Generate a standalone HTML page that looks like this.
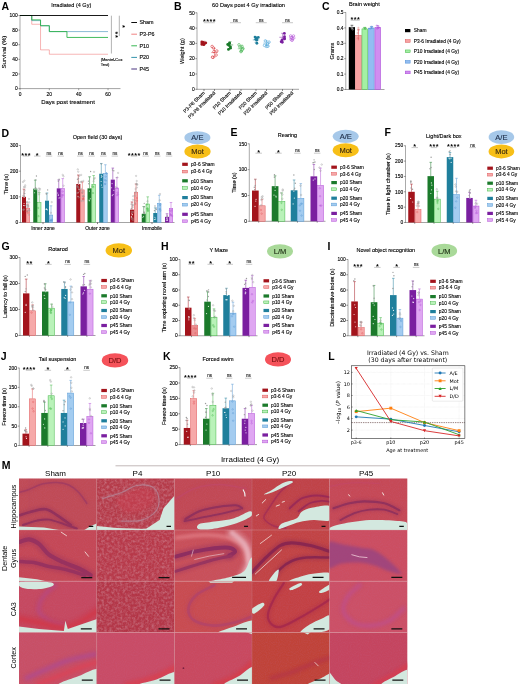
<!DOCTYPE html>
<html><head><meta charset="utf-8"><title>Figure</title>
<style>html,body{margin:0;padding:0;background:#fff}svg{display:block}text{font-family:"Liberation Sans",Arial,sans-serif}</style></head>
<body>
<svg width="520" height="686" viewBox="0 0 520 686">
<defs>
<filter id="b0" x="-10%" y="-10%" width="120%" height="120%"><feGaussianBlur stdDeviation="0.35"/></filter>
<filter id="b1" x="-60%" y="-60%" width="220%" height="220%"><feGaussianBlur stdDeviation="0.6"/></filter>
<filter id="b2" x="-60%" y="-60%" width="220%" height="220%"><feGaussianBlur stdDeviation="1.4"/></filter>
<filter id="noise" x="0" y="0" width="100%" height="100%"><feTurbulence type="fractalNoise" baseFrequency="0.38" numOctaves="3" seed="4" result="n"/><feColorMatrix type="matrix" values="0 0 0 0 0.80  0 0 0 0 0.62  0 0 0 0 0.70  1.5 0 0 0 -0.55"/></filter>
<filter id="grain" x="0" y="0" width="100%" height="100%"><feTurbulence type="fractalNoise" baseFrequency="0.9" numOctaves="1" seed="9"/><feColorMatrix type="matrix" values="0 0 0 0 0.55  0 0 0 0 0.15  0 0 0 0 0.3  1.4 0 0 0 -0.5"/></filter>
<pattern id="chk" width="1.3" height="1.3" patternUnits="userSpaceOnUse"><rect width="1.3" height="1.3" fill="#fde4e4"/><path d="M0,0L1.3,1.3M1.3,0L0,1.3" stroke="#E0595B" stroke-width="0.4"/></pattern>
</defs>
<rect width="520" height="686" fill="#fff"/>
<text x="1.50" y="10.20" font-size="10.5" font-weight="bold">A</text>
<text x="71.20" y="6.70" font-size="5.5" text-anchor="middle" stroke="#000" stroke-width="0.12">Irradiated (4 Gy)</text>
<line x1="20.00" y1="15.30" x2="20.00" y2="88.80" stroke="#333" stroke-width="0.42"/>
<line x1="18.40" y1="88.60" x2="20.00" y2="88.60" stroke="#333" stroke-width="0.45"/>
<text x="17.70" y="90.30" font-size="4.9" text-anchor="end" stroke="#000" stroke-width="0.12">0</text>
<line x1="18.40" y1="73.98" x2="20.00" y2="73.98" stroke="#333" stroke-width="0.45"/>
<text x="17.70" y="75.68" font-size="4.9" text-anchor="end" stroke="#000" stroke-width="0.12">20</text>
<line x1="18.40" y1="59.36" x2="20.00" y2="59.36" stroke="#333" stroke-width="0.45"/>
<text x="17.70" y="61.06" font-size="4.9" text-anchor="end" stroke="#000" stroke-width="0.12">40</text>
<line x1="18.40" y1="44.74" x2="20.00" y2="44.74" stroke="#333" stroke-width="0.45"/>
<text x="17.70" y="46.44" font-size="4.9" text-anchor="end" stroke="#000" stroke-width="0.12">60</text>
<line x1="18.40" y1="30.12" x2="20.00" y2="30.12" stroke="#333" stroke-width="0.45"/>
<text x="17.70" y="31.82" font-size="4.9" text-anchor="end" stroke="#000" stroke-width="0.12">80</text>
<line x1="18.40" y1="15.50" x2="20.00" y2="15.50" stroke="#333" stroke-width="0.45"/>
<text x="17.70" y="17.20" font-size="4.9" text-anchor="end" stroke="#000" stroke-width="0.12">100</text>
<line x1="19.80" y1="88.60" x2="120.49" y2="88.60" stroke="#333" stroke-width="0.45"/>
<line x1="20.00" y1="88.60" x2="20.00" y2="90.20" stroke="#333" stroke-width="0.45"/>
<text x="20.00" y="96.10" font-size="4.9" text-anchor="middle" stroke="#000" stroke-width="0.12">0</text>
<line x1="49.34" y1="88.60" x2="49.34" y2="90.20" stroke="#333" stroke-width="0.45"/>
<text x="49.34" y="96.10" font-size="4.9" text-anchor="middle" stroke="#000" stroke-width="0.12">20</text>
<line x1="78.68" y1="88.60" x2="78.68" y2="90.20" stroke="#333" stroke-width="0.45"/>
<text x="78.68" y="96.10" font-size="4.9" text-anchor="middle" stroke="#000" stroke-width="0.12">40</text>
<line x1="108.02" y1="88.60" x2="108.02" y2="90.20" stroke="#333" stroke-width="0.45"/>
<text x="108.02" y="96.10" font-size="4.9" text-anchor="middle" stroke="#000" stroke-width="0.12">60</text>
<text x="6.30" y="52.05" font-size="6.1" text-anchor="middle" stroke="#000" stroke-width="0.12" transform="rotate(-90 6.30 52.05)">Survival (%)</text>
<text x="68.00" y="104.00" font-size="6.0" text-anchor="middle" stroke="#000" stroke-width="0.12">Days post treatment</text>
<path d="M20.00,15.50 H31.74 V15.50" fill="none" stroke="#7A1FA0" stroke-width="0.6"/>
<path d="M20.00,15.50 H31.74 V24.27 H40.54 V49.86 H49.34 V54.24 H108.02 V54.24" fill="none" stroke="#EE6A6A" stroke-width="0.5"/>
<path d="M20.00,15.50 H31.74 V20.62 H40.54 V25.73 H49.34 V31.58 H108.02 V31.58" fill="none" stroke="#3D8FB8" stroke-width="0.6"/>
<path d="M20.00,15.50 H31.74 V19.89 H40.54 V25.73 H49.34 V31.58 H66.94 V37.43 H108.02 V37.43" fill="none" stroke="#2DB34A" stroke-width="0.9"/>
<path d="M20.00,15.50 H108.02 V15.50" fill="none" stroke="#000" stroke-width="0.9"/>
<line x1="131.30" y1="22.50" x2="137.00" y2="22.50" stroke="#000" stroke-width="0.95"/>
<text x="139.50" y="24.40" font-size="5.4" stroke="#000" stroke-width="0.12">Sham</text>
<line x1="131.30" y1="34.20" x2="137.00" y2="34.20" stroke="#F07C7C" stroke-width="0.95"/>
<text x="139.50" y="36.10" font-size="5.4" stroke="#000" stroke-width="0.12">P3-P6</text>
<line x1="131.30" y1="45.80" x2="137.00" y2="45.80" stroke="#2DB34A" stroke-width="0.95"/>
<text x="139.50" y="47.70" font-size="5.4" stroke="#000" stroke-width="0.12">P10</text>
<line x1="131.30" y1="57.40" x2="137.00" y2="57.40" stroke="#2A8FA8" stroke-width="0.95"/>
<text x="139.50" y="59.30" font-size="5.4" stroke="#000" stroke-width="0.12">P20</text>
<line x1="131.30" y1="69.00" x2="137.00" y2="69.00" stroke="#3F2878" stroke-width="0.95"/>
<text x="139.50" y="70.90" font-size="5.4" stroke="#000" stroke-width="0.12">P45</text>
<line x1="111.40" y1="15.70" x2="111.40" y2="53.50" stroke="#666" stroke-width="0.5"/>
<line x1="119.30" y1="15.70" x2="119.30" y2="36.10" stroke="#666" stroke-width="0.5"/>
<text x="112.50" y="32.80" font-size="7.2" text-anchor="middle" font-weight="bold" transform="rotate(90 112.50 32.80)">*</text>
<text x="112.50" y="36.40" font-size="7.2" text-anchor="middle" font-weight="bold" transform="rotate(90 112.50 36.40)">*</text>
<text x="120.00" y="26.40" font-size="7.2" text-anchor="middle" font-weight="bold" transform="rotate(90 120.00 26.40)">*</text>
<text x="100.70" y="61.00" font-size="4.0" stroke="#000" stroke-width="0.12">(Mantel-Cox</text>
<text x="100.70" y="65.60" font-size="4.0" stroke="#000" stroke-width="0.12">Test)</text>
<text x="174.00" y="10.40" font-size="10.5" font-weight="bold">B</text>
<text x="248.50" y="6.80" font-size="5.66" text-anchor="middle" stroke="#000" stroke-width="0.12">60 Days post 4 Gy irradiation</text>
<line x1="197.00" y1="12.60" x2="197.00" y2="89.50" stroke="#333" stroke-width="0.42"/>
<line x1="195.40" y1="89.30" x2="197.00" y2="89.30" stroke="#222" stroke-width="0.45"/>
<text x="194.70" y="91.02" font-size="4.9" text-anchor="end" stroke="#000" stroke-width="0.12">0</text>
<line x1="195.40" y1="74.00" x2="197.00" y2="74.00" stroke="#222" stroke-width="0.45"/>
<text x="194.70" y="75.72" font-size="4.9" text-anchor="end" stroke="#000" stroke-width="0.12">10</text>
<line x1="195.40" y1="58.70" x2="197.00" y2="58.70" stroke="#222" stroke-width="0.45"/>
<text x="194.70" y="60.41" font-size="4.9" text-anchor="end" stroke="#000" stroke-width="0.12">20</text>
<line x1="195.40" y1="43.40" x2="197.00" y2="43.40" stroke="#222" stroke-width="0.45"/>
<text x="194.70" y="45.12" font-size="4.9" text-anchor="end" stroke="#000" stroke-width="0.12">30</text>
<line x1="195.40" y1="28.10" x2="197.00" y2="28.10" stroke="#222" stroke-width="0.45"/>
<text x="194.70" y="29.81" font-size="4.9" text-anchor="end" stroke="#000" stroke-width="0.12">40</text>
<line x1="195.40" y1="12.80" x2="197.00" y2="12.80" stroke="#222" stroke-width="0.45"/>
<text x="194.70" y="14.51" font-size="4.9" text-anchor="end" stroke="#000" stroke-width="0.12">50</text>
<text x="184.50" y="51.05" font-size="5.6" text-anchor="middle" stroke="#000" stroke-width="0.12" transform="rotate(-90 184.50 51.05)">Weight (g)</text>
<line x1="196.80" y1="89.30" x2="299.00" y2="89.30" stroke="#333" stroke-width="0.45"/>
<line x1="204.00" y1="89.30" x2="204.00" y2="90.90" stroke="#000" stroke-width="0.5"/>
<text x="205.20" y="93.30" font-size="5.0" text-anchor="end" stroke="#000" stroke-width="0.12" transform="rotate(-45 205.20 93.30)">P3-P6 Sham</text>
<circle cx="202.18" cy="43.36" r="1.4" fill="#A3141C" stroke="none" stroke-width="0.4"/>
<circle cx="201.78" cy="42.01" r="1.4" fill="#A3141C" stroke="none" stroke-width="0.4"/>
<circle cx="203.30" cy="42.49" r="1.4" fill="#A3141C" stroke="none" stroke-width="0.4"/>
<circle cx="204.04" cy="44.46" r="1.4" fill="#A3141C" stroke="none" stroke-width="0.4"/>
<circle cx="203.65" cy="44.55" r="1.4" fill="#A3141C" stroke="none" stroke-width="0.4"/>
<circle cx="201.87" cy="44.41" r="1.4" fill="#A3141C" stroke="none" stroke-width="0.4"/>
<circle cx="205.70" cy="42.95" r="1.4" fill="#A3141C" stroke="none" stroke-width="0.4"/>
<line x1="200.80" y1="42.63" x2="207.20" y2="42.63" stroke="#A3141C" stroke-width="0.5"/>
<line x1="204.00" y1="41.26" x2="204.00" y2="44.01" stroke="#A3141C" stroke-width="0.4"/>
<line x1="202.50" y1="41.26" x2="205.50" y2="41.26" stroke="#A3141C" stroke-width="0.4"/>
<line x1="202.50" y1="44.01" x2="205.50" y2="44.01" stroke="#A3141C" stroke-width="0.4"/>
<line x1="214.50" y1="89.30" x2="214.50" y2="90.90" stroke="#000" stroke-width="0.5"/>
<text x="215.70" y="93.30" font-size="5.0" text-anchor="end" stroke="#000" stroke-width="0.12" transform="rotate(-45 215.70 93.30)">P3-P6 Irradiated</text>
<circle cx="213.06" cy="57.41" r="1.25" fill="#fff" stroke="#D9363A" stroke-width="0.6" fill-opacity="0.6"/>
<circle cx="216.83" cy="50.94" r="1.25" fill="#fff" stroke="#D9363A" stroke-width="0.6" fill-opacity="0.6"/>
<circle cx="213.96" cy="51.59" r="1.25" fill="#fff" stroke="#D9363A" stroke-width="0.6" fill-opacity="0.6"/>
<circle cx="212.14" cy="46.46" r="1.25" fill="#fff" stroke="#D9363A" stroke-width="0.6" fill-opacity="0.6"/>
<circle cx="213.41" cy="47.97" r="1.25" fill="#fff" stroke="#D9363A" stroke-width="0.6" fill-opacity="0.6"/>
<circle cx="212.51" cy="57.15" r="1.25" fill="#fff" stroke="#D9363A" stroke-width="0.6" fill-opacity="0.6"/>
<circle cx="216.14" cy="55.04" r="1.25" fill="#fff" stroke="#D9363A" stroke-width="0.6" fill-opacity="0.6"/>
<line x1="211.30" y1="52.58" x2="217.70" y2="52.58" stroke="#D9363A" stroke-width="0.5"/>
<line x1="214.50" y1="48.30" x2="214.50" y2="56.86" stroke="#D9363A" stroke-width="0.4"/>
<line x1="213.00" y1="48.30" x2="216.00" y2="48.30" stroke="#D9363A" stroke-width="0.4"/>
<line x1="213.00" y1="56.86" x2="216.00" y2="56.86" stroke="#D9363A" stroke-width="0.4"/>
<line x1="230.00" y1="89.30" x2="230.00" y2="90.90" stroke="#000" stroke-width="0.5"/>
<text x="231.20" y="93.30" font-size="5.0" text-anchor="end" stroke="#000" stroke-width="0.12" transform="rotate(-45 231.20 93.30)">P10 Sham</text>
<circle cx="230.42" cy="48.15" r="1.4" fill="#1B7A2B" stroke="none" stroke-width="0.4"/>
<circle cx="229.34" cy="43.53" r="1.4" fill="#1B7A2B" stroke="none" stroke-width="0.4"/>
<circle cx="227.73" cy="44.45" r="1.4" fill="#1B7A2B" stroke="none" stroke-width="0.4"/>
<circle cx="228.47" cy="49.38" r="1.4" fill="#1B7A2B" stroke="none" stroke-width="0.4"/>
<circle cx="229.62" cy="43.11" r="1.4" fill="#1B7A2B" stroke="none" stroke-width="0.4"/>
<circle cx="230.44" cy="46.81" r="1.4" fill="#1B7A2B" stroke="none" stroke-width="0.4"/>
<circle cx="228.96" cy="45.40" r="1.4" fill="#1B7A2B" stroke="none" stroke-width="0.4"/>
<line x1="226.80" y1="44.93" x2="233.20" y2="44.93" stroke="#1B7A2B" stroke-width="0.5"/>
<line x1="230.00" y1="41.56" x2="230.00" y2="48.30" stroke="#1B7A2B" stroke-width="0.4"/>
<line x1="228.50" y1="41.56" x2="231.50" y2="41.56" stroke="#1B7A2B" stroke-width="0.4"/>
<line x1="228.50" y1="48.30" x2="231.50" y2="48.30" stroke="#1B7A2B" stroke-width="0.4"/>
<line x1="241.00" y1="89.30" x2="241.00" y2="90.90" stroke="#000" stroke-width="0.5"/>
<text x="242.20" y="93.30" font-size="5.0" text-anchor="end" stroke="#000" stroke-width="0.12" transform="rotate(-45 242.20 93.30)">P10 Irradiated</text>
<circle cx="242.03" cy="46.32" r="1.25" fill="#fff" stroke="#3DB049" stroke-width="0.6" fill-opacity="0.6"/>
<circle cx="241.39" cy="50.87" r="1.25" fill="#fff" stroke="#3DB049" stroke-width="0.6" fill-opacity="0.6"/>
<circle cx="242.95" cy="48.55" r="1.25" fill="#fff" stroke="#3DB049" stroke-width="0.6" fill-opacity="0.6"/>
<circle cx="239.90" cy="46.86" r="1.25" fill="#fff" stroke="#3DB049" stroke-width="0.6" fill-opacity="0.6"/>
<circle cx="239.01" cy="44.79" r="1.25" fill="#fff" stroke="#3DB049" stroke-width="0.6" fill-opacity="0.6"/>
<circle cx="242.34" cy="49.43" r="1.25" fill="#fff" stroke="#3DB049" stroke-width="0.6" fill-opacity="0.6"/>
<circle cx="240.94" cy="51.63" r="1.25" fill="#fff" stroke="#3DB049" stroke-width="0.6" fill-opacity="0.6"/>
<line x1="237.80" y1="48.75" x2="244.20" y2="48.75" stroke="#3DB049" stroke-width="0.5"/>
<line x1="241.00" y1="46.00" x2="241.00" y2="51.51" stroke="#3DB049" stroke-width="0.4"/>
<line x1="239.50" y1="46.00" x2="242.50" y2="46.00" stroke="#3DB049" stroke-width="0.4"/>
<line x1="239.50" y1="51.51" x2="242.50" y2="51.51" stroke="#3DB049" stroke-width="0.4"/>
<line x1="256.00" y1="89.30" x2="256.00" y2="90.90" stroke="#000" stroke-width="0.5"/>
<text x="257.20" y="93.30" font-size="5.0" text-anchor="end" stroke="#000" stroke-width="0.12" transform="rotate(-45 257.20 93.30)">P20 Sham</text>
<circle cx="256.87" cy="43.27" r="1.4" fill="#1F7F9C" stroke="none" stroke-width="0.4"/>
<circle cx="256.38" cy="37.94" r="1.4" fill="#1F7F9C" stroke="none" stroke-width="0.4"/>
<circle cx="255.03" cy="37.12" r="1.4" fill="#1F7F9C" stroke="none" stroke-width="0.4"/>
<circle cx="256.49" cy="38.45" r="1.4" fill="#1F7F9C" stroke="none" stroke-width="0.4"/>
<circle cx="255.77" cy="39.29" r="1.4" fill="#1F7F9C" stroke="none" stroke-width="0.4"/>
<circle cx="258.31" cy="37.38" r="1.4" fill="#1F7F9C" stroke="none" stroke-width="0.4"/>
<circle cx="256.85" cy="40.07" r="1.4" fill="#1F7F9C" stroke="none" stroke-width="0.4"/>
<line x1="252.80" y1="39.88" x2="259.20" y2="39.88" stroke="#1F7F9C" stroke-width="0.5"/>
<line x1="256.00" y1="37.43" x2="256.00" y2="42.33" stroke="#1F7F9C" stroke-width="0.4"/>
<line x1="254.50" y1="37.43" x2="257.50" y2="37.43" stroke="#1F7F9C" stroke-width="0.4"/>
<line x1="254.50" y1="42.33" x2="257.50" y2="42.33" stroke="#1F7F9C" stroke-width="0.4"/>
<line x1="266.50" y1="89.30" x2="266.50" y2="90.90" stroke="#000" stroke-width="0.5"/>
<text x="267.70" y="93.30" font-size="5.0" text-anchor="end" stroke="#000" stroke-width="0.12" transform="rotate(-45 267.70 93.30)">P20 Irradiated</text>
<circle cx="267.55" cy="46.12" r="1.25" fill="#fff" stroke="#4AA3D8" stroke-width="0.6" fill-opacity="0.6"/>
<circle cx="269.06" cy="42.08" r="1.25" fill="#fff" stroke="#4AA3D8" stroke-width="0.6" fill-opacity="0.6"/>
<circle cx="265.38" cy="40.88" r="1.25" fill="#fff" stroke="#4AA3D8" stroke-width="0.6" fill-opacity="0.6"/>
<circle cx="267.38" cy="43.88" r="1.25" fill="#fff" stroke="#4AA3D8" stroke-width="0.6" fill-opacity="0.6"/>
<circle cx="266.30" cy="46.38" r="1.25" fill="#fff" stroke="#4AA3D8" stroke-width="0.6" fill-opacity="0.6"/>
<circle cx="264.51" cy="45.38" r="1.25" fill="#fff" stroke="#4AA3D8" stroke-width="0.6" fill-opacity="0.6"/>
<circle cx="267.89" cy="46.13" r="1.25" fill="#fff" stroke="#4AA3D8" stroke-width="0.6" fill-opacity="0.6"/>
<line x1="263.30" y1="43.09" x2="269.70" y2="43.09" stroke="#4AA3D8" stroke-width="0.5"/>
<line x1="266.50" y1="40.80" x2="266.50" y2="45.39" stroke="#4AA3D8" stroke-width="0.4"/>
<line x1="265.00" y1="40.80" x2="268.00" y2="40.80" stroke="#4AA3D8" stroke-width="0.4"/>
<line x1="265.00" y1="45.39" x2="268.00" y2="45.39" stroke="#4AA3D8" stroke-width="0.4"/>
<line x1="282.50" y1="89.30" x2="282.50" y2="90.90" stroke="#000" stroke-width="0.5"/>
<text x="283.70" y="93.30" font-size="5.0" text-anchor="end" stroke="#000" stroke-width="0.12" transform="rotate(-45 283.70 93.30)">P50 Sham</text>
<circle cx="281.19" cy="41.70" r="1.4" fill="#7A1FA0" stroke="none" stroke-width="0.4"/>
<circle cx="284.43" cy="38.58" r="1.4" fill="#7A1FA0" stroke="none" stroke-width="0.4"/>
<circle cx="282.24" cy="42.29" r="1.4" fill="#7A1FA0" stroke="none" stroke-width="0.4"/>
<circle cx="284.49" cy="36.69" r="1.4" fill="#7A1FA0" stroke="none" stroke-width="0.4"/>
<circle cx="284.39" cy="33.47" r="1.4" fill="#7A1FA0" stroke="none" stroke-width="0.4"/>
<circle cx="282.06" cy="39.92" r="1.4" fill="#7A1FA0" stroke="none" stroke-width="0.4"/>
<circle cx="284.50" cy="38.97" r="1.4" fill="#7A1FA0" stroke="none" stroke-width="0.4"/>
<line x1="279.30" y1="37.28" x2="285.70" y2="37.28" stroke="#7A1FA0" stroke-width="0.5"/>
<line x1="282.50" y1="33.30" x2="282.50" y2="41.26" stroke="#7A1FA0" stroke-width="0.4"/>
<line x1="281.00" y1="33.30" x2="284.00" y2="33.30" stroke="#7A1FA0" stroke-width="0.4"/>
<line x1="281.00" y1="41.26" x2="284.00" y2="41.26" stroke="#7A1FA0" stroke-width="0.4"/>
<line x1="292.50" y1="89.30" x2="292.50" y2="90.90" stroke="#000" stroke-width="0.5"/>
<text x="293.70" y="93.30" font-size="5.0" text-anchor="end" stroke="#000" stroke-width="0.12" transform="rotate(-45 293.70 93.30)">P50 Irradiated</text>
<circle cx="290.68" cy="35.94" r="1.25" fill="#fff" stroke="#B455D6" stroke-width="0.6" fill-opacity="0.6"/>
<circle cx="291.11" cy="39.53" r="1.25" fill="#fff" stroke="#B455D6" stroke-width="0.6" fill-opacity="0.6"/>
<circle cx="292.42" cy="39.27" r="1.25" fill="#fff" stroke="#B455D6" stroke-width="0.6" fill-opacity="0.6"/>
<circle cx="291.27" cy="37.64" r="1.25" fill="#fff" stroke="#B455D6" stroke-width="0.6" fill-opacity="0.6"/>
<circle cx="292.08" cy="40.32" r="1.25" fill="#fff" stroke="#B455D6" stroke-width="0.6" fill-opacity="0.6"/>
<circle cx="292.84" cy="38.65" r="1.25" fill="#fff" stroke="#B455D6" stroke-width="0.6" fill-opacity="0.6"/>
<circle cx="293.49" cy="35.97" r="1.25" fill="#fff" stroke="#B455D6" stroke-width="0.6" fill-opacity="0.6"/>
<line x1="289.30" y1="38.04" x2="295.70" y2="38.04" stroke="#B455D6" stroke-width="0.5"/>
<line x1="292.50" y1="36.51" x2="292.50" y2="39.57" stroke="#B455D6" stroke-width="0.4"/>
<line x1="291.00" y1="36.51" x2="294.00" y2="36.51" stroke="#B455D6" stroke-width="0.4"/>
<line x1="291.00" y1="39.57" x2="294.00" y2="39.57" stroke="#B455D6" stroke-width="0.4"/>
<line x1="203.75" y1="22.70" x2="214.75" y2="22.70" stroke="#777" stroke-width="0.4"/>
<text x="209.45" y="24.25" font-size="7.2" text-anchor="middle" font-weight="bold" letter-spacing="0.45">****</text>
<line x1="230.00" y1="22.70" x2="241.00" y2="22.70" stroke="#777" stroke-width="0.4"/>
<text x="235.50" y="21.70" font-size="4.6" text-anchor="middle" fill="#222" stroke="#222" stroke-width="0.12">ns</text>
<line x1="255.75" y1="22.70" x2="266.75" y2="22.70" stroke="#777" stroke-width="0.4"/>
<text x="261.25" y="21.70" font-size="4.6" text-anchor="middle" fill="#222" stroke="#222" stroke-width="0.12">ns</text>
<line x1="282.00" y1="22.70" x2="293.00" y2="22.70" stroke="#777" stroke-width="0.4"/>
<text x="287.50" y="21.70" font-size="4.6" text-anchor="middle" fill="#222" stroke="#222" stroke-width="0.12">ns</text>
<text x="322.00" y="10.40" font-size="10.5" font-weight="bold">C</text>
<text x="349.00" y="6.40" font-size="5.6" stroke="#000" stroke-width="0.12">Brain weight</text>
<line x1="345.80" y1="12.30" x2="345.80" y2="89.70" stroke="#333" stroke-width="0.42"/>
<line x1="344.20" y1="89.50" x2="345.80" y2="89.50" stroke="#222" stroke-width="0.45"/>
<text x="343.50" y="91.22" font-size="4.9" text-anchor="end" stroke="#000" stroke-width="0.12">0.0</text>
<line x1="344.20" y1="74.10" x2="345.80" y2="74.10" stroke="#222" stroke-width="0.45"/>
<text x="343.50" y="75.81" font-size="4.9" text-anchor="end" stroke="#000" stroke-width="0.12">0.1</text>
<line x1="344.20" y1="58.70" x2="345.80" y2="58.70" stroke="#222" stroke-width="0.45"/>
<text x="343.50" y="60.42" font-size="4.9" text-anchor="end" stroke="#000" stroke-width="0.12">0.2</text>
<line x1="344.20" y1="43.30" x2="345.80" y2="43.30" stroke="#222" stroke-width="0.45"/>
<text x="343.50" y="45.02" font-size="4.9" text-anchor="end" stroke="#000" stroke-width="0.12">0.3</text>
<line x1="344.20" y1="27.90" x2="345.80" y2="27.90" stroke="#222" stroke-width="0.45"/>
<text x="343.50" y="29.61" font-size="4.9" text-anchor="end" stroke="#000" stroke-width="0.12">0.4</text>
<line x1="344.20" y1="12.50" x2="345.80" y2="12.50" stroke="#222" stroke-width="0.45"/>
<text x="343.50" y="14.21" font-size="4.9" text-anchor="end" stroke="#000" stroke-width="0.12">0.5</text>
<text x="333.80" y="51.00" font-size="5.6" text-anchor="middle" stroke="#000" stroke-width="0.12" transform="rotate(-90 333.80 51.00)">Grams</text>
<line x1="345.60" y1="89.50" x2="384.50" y2="89.50" stroke="#333" stroke-width="0.45"/>
<rect x="348.80" y="27.13" width="6.20" height="62.37" fill="#000" stroke="none" stroke-width="0.5"/>
<line x1="351.90" y1="25.28" x2="351.90" y2="28.98" stroke="#000" stroke-width="0.5"/>
<line x1="350.50" y1="25.28" x2="353.30" y2="25.28" stroke="#000" stroke-width="0.5"/>
<circle cx="352.01" cy="28.39" r="0.75" fill="none" stroke="#ddd" stroke-width="0.35"/>
<circle cx="352.15" cy="27.75" r="0.75" fill="none" stroke="#ddd" stroke-width="0.35"/>
<circle cx="350.86" cy="26.53" r="0.75" fill="none" stroke="#ddd" stroke-width="0.35"/>
<circle cx="352.71" cy="29.47" r="0.75" fill="none" stroke="#ddd" stroke-width="0.35"/>
<rect x="355.65" y="35.23" width="5.70" height="54.27" fill="#F7A1A1" stroke="#D9595B" stroke-width="0.5"/>
<line x1="358.50" y1="29.59" x2="358.50" y2="40.37" stroke="#D9595B" stroke-width="0.5"/>
<line x1="357.10" y1="29.59" x2="359.90" y2="29.59" stroke="#D9595B" stroke-width="0.5"/>
<circle cx="357.86" cy="38.36" r="0.75" fill="none" stroke="#D9595B" stroke-width="0.35"/>
<circle cx="358.43" cy="28.04" r="0.75" fill="none" stroke="#D9595B" stroke-width="0.35"/>
<circle cx="358.44" cy="30.27" r="0.75" fill="none" stroke="#D9595B" stroke-width="0.35"/>
<circle cx="357.66" cy="33.04" r="0.75" fill="none" stroke="#D9595B" stroke-width="0.35"/>
<rect x="361.95" y="28.92" width="5.70" height="60.58" fill="#A4F0A4" stroke="#45B649" stroke-width="0.5"/>
<line x1="364.80" y1="27.44" x2="364.80" y2="29.90" stroke="#45B649" stroke-width="0.5"/>
<line x1="363.40" y1="27.44" x2="366.20" y2="27.44" stroke="#45B649" stroke-width="0.5"/>
<circle cx="365.68" cy="28.24" r="0.75" fill="none" stroke="#45B649" stroke-width="0.35"/>
<circle cx="365.38" cy="28.60" r="0.75" fill="none" stroke="#45B649" stroke-width="0.35"/>
<circle cx="363.75" cy="28.12" r="0.75" fill="none" stroke="#45B649" stroke-width="0.35"/>
<circle cx="365.02" cy="27.84" r="0.75" fill="none" stroke="#45B649" stroke-width="0.35"/>
<rect x="368.45" y="28.15" width="5.70" height="61.35" fill="#92BDF2" stroke="#4F8FD5" stroke-width="0.5"/>
<line x1="371.30" y1="26.67" x2="371.30" y2="29.13" stroke="#4F8FD5" stroke-width="0.5"/>
<line x1="369.90" y1="26.67" x2="372.70" y2="26.67" stroke="#4F8FD5" stroke-width="0.5"/>
<circle cx="370.17" cy="28.54" r="0.75" fill="none" stroke="#4F8FD5" stroke-width="0.35"/>
<circle cx="371.23" cy="26.73" r="0.75" fill="none" stroke="#4F8FD5" stroke-width="0.35"/>
<circle cx="372.21" cy="27.20" r="0.75" fill="none" stroke="#4F8FD5" stroke-width="0.35"/>
<circle cx="372.31" cy="27.21" r="0.75" fill="none" stroke="#4F8FD5" stroke-width="0.35"/>
<rect x="374.95" y="27.38" width="5.70" height="62.12" fill="#D08DF0" stroke="#A845D6" stroke-width="0.5"/>
<line x1="377.80" y1="25.59" x2="377.80" y2="28.67" stroke="#A845D6" stroke-width="0.5"/>
<line x1="376.40" y1="25.59" x2="379.20" y2="25.59" stroke="#A845D6" stroke-width="0.5"/>
<circle cx="378.52" cy="27.55" r="0.75" fill="none" stroke="#A845D6" stroke-width="0.35"/>
<circle cx="378.85" cy="27.35" r="0.75" fill="none" stroke="#A845D6" stroke-width="0.35"/>
<circle cx="376.83" cy="25.61" r="0.75" fill="none" stroke="#A845D6" stroke-width="0.35"/>
<circle cx="377.12" cy="28.59" r="0.75" fill="none" stroke="#A845D6" stroke-width="0.35"/>
<line x1="350.70" y1="20.30" x2="359.70" y2="20.30" stroke="#777" stroke-width="0.4"/>
<text x="355.40" y="21.85" font-size="7.2" text-anchor="middle" font-weight="bold" letter-spacing="0.45">***</text>
<rect x="405.00" y="29.00" width="5.40" height="3.20" fill="#000" stroke="none" stroke-width="0.5"/>
<text x="413.80" y="32.30" font-size="4.85" stroke="#000" stroke-width="0.12">Sham</text>
<rect x="405.25" y="39.65" width="4.90" height="2.70" fill="#F7A1A1" stroke="#D9595B" stroke-width="0.5"/>
<text x="413.80" y="42.70" font-size="4.85" stroke="#000" stroke-width="0.12">P3-6 Irradiated (4 Gy)</text>
<rect x="405.25" y="49.95" width="4.90" height="2.70" fill="#A4F0A4" stroke="#45B649" stroke-width="0.5"/>
<text x="413.80" y="53.00" font-size="4.85" stroke="#000" stroke-width="0.12">P10 Irradiated (4 Gy)</text>
<rect x="405.25" y="60.45" width="4.90" height="2.70" fill="#92BDF2" stroke="#4F8FD5" stroke-width="0.5"/>
<text x="413.80" y="63.50" font-size="4.85" stroke="#000" stroke-width="0.12">P20 Irradiated (4 Gy)</text>
<rect x="405.25" y="71.05" width="4.90" height="2.70" fill="#D08DF0" stroke="#A845D6" stroke-width="0.5"/>
<text x="413.80" y="74.10" font-size="4.85" stroke="#000" stroke-width="0.12">P45 Irradiated (4 Gy)</text>
<text x="1.50" y="137.20" font-size="10.5" font-weight="bold">D</text>
<text x="97.50" y="138.60" font-size="5.5" text-anchor="middle" stroke="#000" stroke-width="0.12">Open field (30 days)</text>
<line x1="20.50" y1="145.29" x2="20.50" y2="222.70" stroke="#333" stroke-width="0.42"/>
<line x1="18.90" y1="222.50" x2="20.50" y2="222.50" stroke="#222" stroke-width="0.45"/>
<text x="18.20" y="224.22" font-size="4.9" text-anchor="end" stroke="#000" stroke-width="0.12">0</text>
<line x1="18.90" y1="196.83" x2="20.50" y2="196.83" stroke="#222" stroke-width="0.45"/>
<text x="18.20" y="198.55" font-size="4.9" text-anchor="end" stroke="#000" stroke-width="0.12">100</text>
<line x1="18.90" y1="171.16" x2="20.50" y2="171.16" stroke="#222" stroke-width="0.45"/>
<text x="18.20" y="172.88" font-size="4.9" text-anchor="end" stroke="#000" stroke-width="0.12">200</text>
<line x1="18.90" y1="145.49" x2="20.50" y2="145.49" stroke="#222" stroke-width="0.45"/>
<text x="18.20" y="147.21" font-size="4.9" text-anchor="end" stroke="#000" stroke-width="0.12">300</text>
<text x="7.50" y="184.00" font-size="5.6" text-anchor="middle" stroke="#000" stroke-width="0.12" transform="rotate(-90 7.50 184.00)">Time (s)</text>
<line x1="20.30" y1="222.50" x2="174.50" y2="222.50" stroke="#333" stroke-width="0.45"/>
<rect x="22.00" y="196.83" width="4.00" height="25.67" fill="#A3141C" stroke="none" stroke-width="0.5"/>
<rect x="26.25" y="208.12" width="3.50" height="14.38" fill="#F6A9A9" stroke="#E0595B" stroke-width="0.5"/>
<line x1="24.00" y1="189.13" x2="24.00" y2="196.83" stroke="#A3141C" stroke-width="0.5"/>
<line x1="22.70" y1="189.13" x2="25.30" y2="189.13" stroke="#A3141C" stroke-width="0.5"/>
<line x1="28.00" y1="204.02" x2="28.00" y2="207.87" stroke="#E0595B" stroke-width="0.5"/>
<line x1="26.70" y1="204.02" x2="29.30" y2="204.02" stroke="#E0595B" stroke-width="0.5"/>
<circle cx="24.14" cy="197.51" r="0.5599999999999999" fill="#fff" stroke="none" stroke-width="0.4" opacity="0.85"/>
<circle cx="23.92" cy="186.97" r="0.6649999999999999" fill="#9c9c9c" stroke="none" stroke-width="0.4"/>
<circle cx="24.21" cy="196.27" r="0.6649999999999999" fill="#9c9c9c" stroke="none" stroke-width="0.4"/>
<circle cx="24.03" cy="203.49" r="0.5599999999999999" fill="#fff" stroke="none" stroke-width="0.4" opacity="0.85"/>
<circle cx="24.70" cy="193.54" r="0.6649999999999999" fill="#9c9c9c" stroke="none" stroke-width="0.4"/>
<circle cx="23.53" cy="205.51" r="0.5599999999999999" fill="#fff" stroke="none" stroke-width="0.4" opacity="0.85"/>
<circle cx="24.74" cy="205.59" r="0.5599999999999999" fill="#fff" stroke="none" stroke-width="0.4" opacity="0.85"/>
<circle cx="26.90" cy="205.52" r="0.7" fill="none" stroke="#9a9a9a" stroke-width="0.4"/>
<circle cx="29.12" cy="202.29" r="0.7" fill="none" stroke="#9a9a9a" stroke-width="0.4"/>
<circle cx="28.28" cy="205.96" r="0.7" fill="none" stroke="#9a9a9a" stroke-width="0.4"/>
<circle cx="26.84" cy="211.50" r="0.7" fill="none" stroke="#E0595B" stroke-width="0.4"/>
<circle cx="26.94" cy="207.36" r="0.7" fill="none" stroke="#9a9a9a" stroke-width="0.4"/>
<circle cx="27.38" cy="211.13" r="0.7" fill="none" stroke="#E0595B" stroke-width="0.4"/>
<circle cx="27.91" cy="212.92" r="0.7" fill="none" stroke="#E0595B" stroke-width="0.4"/>
<rect x="33.25" y="188.62" width="4.00" height="33.88" fill="#1B7A2B" stroke="none" stroke-width="0.5"/>
<rect x="37.50" y="202.73" width="3.50" height="19.77" fill="#B9F2B9" stroke="#45B649" stroke-width="0.5"/>
<line x1="35.25" y1="180.14" x2="35.25" y2="188.62" stroke="#1B7A2B" stroke-width="0.5"/>
<line x1="33.95" y1="180.14" x2="36.55" y2="180.14" stroke="#1B7A2B" stroke-width="0.5"/>
<line x1="39.25" y1="192.72" x2="39.25" y2="202.48" stroke="#45B649" stroke-width="0.5"/>
<line x1="37.95" y1="192.72" x2="40.55" y2="192.72" stroke="#45B649" stroke-width="0.5"/>
<circle cx="36.07" cy="189.65" r="0.5599999999999999" fill="#fff" stroke="none" stroke-width="0.4" opacity="0.85"/>
<circle cx="35.59" cy="187.72" r="0.6649999999999999" fill="#9c9c9c" stroke="none" stroke-width="0.4"/>
<circle cx="35.64" cy="188.20" r="0.6649999999999999" fill="#9c9c9c" stroke="none" stroke-width="0.4"/>
<circle cx="34.72" cy="189.24" r="0.5599999999999999" fill="#fff" stroke="none" stroke-width="0.4" opacity="0.85"/>
<circle cx="36.44" cy="175.97" r="0.6649999999999999" fill="#9c9c9c" stroke="none" stroke-width="0.4"/>
<circle cx="35.75" cy="179.83" r="0.6649999999999999" fill="#9c9c9c" stroke="none" stroke-width="0.4"/>
<circle cx="34.60" cy="192.73" r="0.5599999999999999" fill="#fff" stroke="none" stroke-width="0.4" opacity="0.85"/>
<circle cx="38.22" cy="207.96" r="0.7" fill="none" stroke="#45B649" stroke-width="0.4"/>
<circle cx="39.01" cy="194.46" r="0.7" fill="none" stroke="#9a9a9a" stroke-width="0.4"/>
<circle cx="38.98" cy="192.19" r="0.7" fill="none" stroke="#9a9a9a" stroke-width="0.4"/>
<circle cx="40.08" cy="189.03" r="0.7" fill="none" stroke="#9a9a9a" stroke-width="0.4"/>
<circle cx="38.55" cy="216.12" r="0.7" fill="none" stroke="#45B649" stroke-width="0.4"/>
<circle cx="39.18" cy="190.38" r="0.7" fill="none" stroke="#9a9a9a" stroke-width="0.4"/>
<circle cx="39.00" cy="188.40" r="0.7" fill="none" stroke="#9a9a9a" stroke-width="0.4"/>
<rect x="45.00" y="200.68" width="4.00" height="21.82" fill="#1F7F9C" stroke="none" stroke-width="0.5"/>
<rect x="49.25" y="215.05" width="3.50" height="7.45" fill="#A3CCF0" stroke="#5B9BD5" stroke-width="0.5"/>
<line x1="47.00" y1="192.98" x2="47.00" y2="200.68" stroke="#1F7F9C" stroke-width="0.5"/>
<line x1="45.70" y1="192.98" x2="48.30" y2="192.98" stroke="#1F7F9C" stroke-width="0.5"/>
<line x1="51.00" y1="205.81" x2="51.00" y2="214.80" stroke="#5B9BD5" stroke-width="0.5"/>
<line x1="49.70" y1="205.81" x2="52.30" y2="205.81" stroke="#5B9BD5" stroke-width="0.5"/>
<circle cx="47.31" cy="209.83" r="0.5599999999999999" fill="#fff" stroke="none" stroke-width="0.4" opacity="0.85"/>
<circle cx="46.45" cy="194.08" r="0.6649999999999999" fill="#9c9c9c" stroke="none" stroke-width="0.4"/>
<circle cx="46.60" cy="209.52" r="0.5599999999999999" fill="#fff" stroke="none" stroke-width="0.4" opacity="0.85"/>
<circle cx="47.62" cy="189.93" r="0.6649999999999999" fill="#9c9c9c" stroke="none" stroke-width="0.4"/>
<circle cx="46.39" cy="208.83" r="0.5599999999999999" fill="#fff" stroke="none" stroke-width="0.4" opacity="0.85"/>
<circle cx="45.94" cy="209.21" r="0.5599999999999999" fill="#fff" stroke="none" stroke-width="0.4" opacity="0.85"/>
<circle cx="46.23" cy="193.66" r="0.6649999999999999" fill="#9c9c9c" stroke="none" stroke-width="0.4"/>
<circle cx="50.87" cy="212.80" r="0.7" fill="none" stroke="#9a9a9a" stroke-width="0.4"/>
<circle cx="51.56" cy="220.50" r="0.7" fill="none" stroke="#5B9BD5" stroke-width="0.4"/>
<circle cx="51.34" cy="220.50" r="0.7" fill="none" stroke="#5B9BD5" stroke-width="0.4"/>
<circle cx="50.81" cy="220.50" r="0.7" fill="none" stroke="#5B9BD5" stroke-width="0.4"/>
<circle cx="50.45" cy="220.50" r="0.7" fill="none" stroke="#5B9BD5" stroke-width="0.4"/>
<circle cx="51.73" cy="202.08" r="0.7" fill="none" stroke="#9a9a9a" stroke-width="0.4"/>
<circle cx="51.92" cy="219.45" r="0.7" fill="none" stroke="#5B9BD5" stroke-width="0.4"/>
<rect x="56.75" y="188.36" width="4.00" height="34.14" fill="#7A1FA0" stroke="none" stroke-width="0.5"/>
<rect x="61.00" y="188.61" width="3.50" height="33.89" fill="#DFA6F2" stroke="#B455D6" stroke-width="0.5"/>
<line x1="58.75" y1="179.89" x2="58.75" y2="188.36" stroke="#7A1FA0" stroke-width="0.5"/>
<line x1="57.45" y1="179.89" x2="60.05" y2="179.89" stroke="#7A1FA0" stroke-width="0.5"/>
<line x1="62.75" y1="178.60" x2="62.75" y2="188.36" stroke="#B455D6" stroke-width="0.5"/>
<line x1="61.45" y1="178.60" x2="64.05" y2="178.60" stroke="#B455D6" stroke-width="0.5"/>
<circle cx="58.50" cy="195.04" r="0.5599999999999999" fill="#fff" stroke="none" stroke-width="0.4" opacity="0.85"/>
<circle cx="59.09" cy="179.23" r="0.6649999999999999" fill="#9c9c9c" stroke="none" stroke-width="0.4"/>
<circle cx="59.92" cy="197.75" r="0.5599999999999999" fill="#fff" stroke="none" stroke-width="0.4" opacity="0.85"/>
<circle cx="58.17" cy="194.98" r="0.5599999999999999" fill="#fff" stroke="none" stroke-width="0.4" opacity="0.85"/>
<circle cx="58.34" cy="181.24" r="0.6649999999999999" fill="#9c9c9c" stroke="none" stroke-width="0.4"/>
<circle cx="57.73" cy="192.94" r="0.5599999999999999" fill="#fff" stroke="none" stroke-width="0.4" opacity="0.85"/>
<circle cx="58.95" cy="198.00" r="0.5599999999999999" fill="#fff" stroke="none" stroke-width="0.4" opacity="0.85"/>
<circle cx="62.99" cy="195.14" r="0.7" fill="none" stroke="#B455D6" stroke-width="0.4"/>
<circle cx="62.64" cy="191.50" r="0.7" fill="none" stroke="#B455D6" stroke-width="0.4"/>
<circle cx="62.71" cy="174.88" r="0.7" fill="none" stroke="#9a9a9a" stroke-width="0.4"/>
<circle cx="63.63" cy="185.76" r="0.7" fill="none" stroke="#9a9a9a" stroke-width="0.4"/>
<circle cx="61.92" cy="196.84" r="0.7" fill="none" stroke="#B455D6" stroke-width="0.4"/>
<circle cx="63.51" cy="176.32" r="0.7" fill="none" stroke="#9a9a9a" stroke-width="0.4"/>
<circle cx="62.01" cy="194.96" r="0.7" fill="none" stroke="#B455D6" stroke-width="0.4"/>
<rect x="76.25" y="184.00" width="4.10" height="38.50" fill="#A3141C" stroke="none" stroke-width="0.5"/>
<rect x="80.60" y="189.89" width="3.60" height="32.61" fill="#F6A9A9" stroke="#E0595B" stroke-width="0.5"/>
<line x1="78.30" y1="175.01" x2="78.30" y2="184.00" stroke="#A3141C" stroke-width="0.5"/>
<line x1="77.00" y1="175.01" x2="79.60" y2="175.01" stroke="#A3141C" stroke-width="0.5"/>
<line x1="82.40" y1="181.94" x2="82.40" y2="189.64" stroke="#E0595B" stroke-width="0.5"/>
<line x1="81.10" y1="181.94" x2="83.70" y2="181.94" stroke="#E0595B" stroke-width="0.5"/>
<circle cx="78.68" cy="184.21" r="0.5599999999999999" fill="#fff" stroke="none" stroke-width="0.4" opacity="0.85"/>
<circle cx="77.44" cy="179.21" r="0.6649999999999999" fill="#9c9c9c" stroke="none" stroke-width="0.4"/>
<circle cx="78.00" cy="196.29" r="0.5599999999999999" fill="#fff" stroke="none" stroke-width="0.4" opacity="0.85"/>
<circle cx="79.04" cy="189.43" r="0.5599999999999999" fill="#fff" stroke="none" stroke-width="0.4" opacity="0.85"/>
<circle cx="78.54" cy="178.58" r="0.6649999999999999" fill="#9c9c9c" stroke="none" stroke-width="0.4"/>
<circle cx="78.69" cy="182.03" r="0.6649999999999999" fill="#9c9c9c" stroke="none" stroke-width="0.4"/>
<circle cx="78.16" cy="192.79" r="0.5599999999999999" fill="#fff" stroke="none" stroke-width="0.4" opacity="0.85"/>
<circle cx="83.37" cy="196.80" r="0.7" fill="none" stroke="#E0595B" stroke-width="0.4"/>
<circle cx="83.17" cy="199.11" r="0.7" fill="none" stroke="#E0595B" stroke-width="0.4"/>
<circle cx="82.85" cy="198.76" r="0.7" fill="none" stroke="#E0595B" stroke-width="0.4"/>
<circle cx="82.17" cy="192.90" r="0.7" fill="none" stroke="#E0595B" stroke-width="0.4"/>
<circle cx="81.24" cy="181.61" r="0.7" fill="none" stroke="#9a9a9a" stroke-width="0.4"/>
<circle cx="83.40" cy="199.07" r="0.7" fill="none" stroke="#E0595B" stroke-width="0.4"/>
<circle cx="81.42" cy="189.06" r="0.7" fill="none" stroke="#9a9a9a" stroke-width="0.4"/>
<rect x="87.50" y="188.36" width="4.10" height="34.14" fill="#1B7A2B" stroke="none" stroke-width="0.5"/>
<rect x="91.85" y="184.25" width="3.60" height="38.25" fill="#B9F2B9" stroke="#45B649" stroke-width="0.5"/>
<line x1="89.55" y1="176.81" x2="89.55" y2="188.36" stroke="#1B7A2B" stroke-width="0.5"/>
<line x1="88.25" y1="176.81" x2="90.85" y2="176.81" stroke="#1B7A2B" stroke-width="0.5"/>
<line x1="93.65" y1="175.52" x2="93.65" y2="184.00" stroke="#45B649" stroke-width="0.5"/>
<line x1="92.35" y1="175.52" x2="94.95" y2="175.52" stroke="#45B649" stroke-width="0.5"/>
<circle cx="90.62" cy="171.46" r="0.6649999999999999" fill="#9c9c9c" stroke="none" stroke-width="0.4"/>
<circle cx="89.37" cy="200.76" r="0.5599999999999999" fill="#fff" stroke="none" stroke-width="0.4" opacity="0.85"/>
<circle cx="89.10" cy="200.01" r="0.5599999999999999" fill="#fff" stroke="none" stroke-width="0.4" opacity="0.85"/>
<circle cx="88.74" cy="183.71" r="0.6649999999999999" fill="#9c9c9c" stroke="none" stroke-width="0.4"/>
<circle cx="88.47" cy="181.19" r="0.6649999999999999" fill="#9c9c9c" stroke="none" stroke-width="0.4"/>
<circle cx="90.31" cy="198.80" r="0.5599999999999999" fill="#fff" stroke="none" stroke-width="0.4" opacity="0.85"/>
<circle cx="89.36" cy="191.11" r="0.5599999999999999" fill="#fff" stroke="none" stroke-width="0.4" opacity="0.85"/>
<circle cx="93.59" cy="181.21" r="0.7" fill="none" stroke="#9a9a9a" stroke-width="0.4"/>
<circle cx="92.52" cy="186.41" r="0.7" fill="none" stroke="#45B649" stroke-width="0.4"/>
<circle cx="94.77" cy="178.01" r="0.7" fill="none" stroke="#9a9a9a" stroke-width="0.4"/>
<circle cx="94.04" cy="171.87" r="0.7" fill="none" stroke="#9a9a9a" stroke-width="0.4"/>
<circle cx="93.32" cy="187.10" r="0.7" fill="none" stroke="#45B649" stroke-width="0.4"/>
<circle cx="94.07" cy="178.90" r="0.7" fill="none" stroke="#9a9a9a" stroke-width="0.4"/>
<circle cx="93.01" cy="193.06" r="0.7" fill="none" stroke="#45B649" stroke-width="0.4"/>
<rect x="99.25" y="173.73" width="4.10" height="48.77" fill="#1F7F9C" stroke="none" stroke-width="0.5"/>
<rect x="103.60" y="173.46" width="3.60" height="49.04" fill="#A3CCF0" stroke="#5B9BD5" stroke-width="0.5"/>
<line x1="101.30" y1="163.46" x2="101.30" y2="173.73" stroke="#1F7F9C" stroke-width="0.5"/>
<line x1="100.00" y1="163.46" x2="102.60" y2="163.46" stroke="#1F7F9C" stroke-width="0.5"/>
<line x1="105.40" y1="164.74" x2="105.40" y2="173.21" stroke="#5B9BD5" stroke-width="0.5"/>
<line x1="104.10" y1="164.74" x2="106.70" y2="164.74" stroke="#5B9BD5" stroke-width="0.5"/>
<circle cx="101.33" cy="177.28" r="0.5599999999999999" fill="#fff" stroke="none" stroke-width="0.4" opacity="0.85"/>
<circle cx="101.30" cy="163.98" r="0.6649999999999999" fill="#9c9c9c" stroke="none" stroke-width="0.4"/>
<circle cx="102.07" cy="187.26" r="0.5599999999999999" fill="#fff" stroke="none" stroke-width="0.4" opacity="0.85"/>
<circle cx="101.35" cy="175.29" r="0.5599999999999999" fill="#fff" stroke="none" stroke-width="0.4" opacity="0.85"/>
<circle cx="101.13" cy="181.49" r="0.5599999999999999" fill="#fff" stroke="none" stroke-width="0.4" opacity="0.85"/>
<circle cx="101.95" cy="176.54" r="0.5599999999999999" fill="#fff" stroke="none" stroke-width="0.4" opacity="0.85"/>
<circle cx="101.42" cy="185.05" r="0.5599999999999999" fill="#fff" stroke="none" stroke-width="0.4" opacity="0.85"/>
<circle cx="105.87" cy="180.70" r="0.7" fill="none" stroke="#5B9BD5" stroke-width="0.4"/>
<circle cx="104.86" cy="184.17" r="0.7" fill="none" stroke="#5B9BD5" stroke-width="0.4"/>
<circle cx="105.73" cy="176.62" r="0.7" fill="none" stroke="#5B9BD5" stroke-width="0.4"/>
<circle cx="105.30" cy="183.79" r="0.7" fill="none" stroke="#5B9BD5" stroke-width="0.4"/>
<circle cx="104.88" cy="179.94" r="0.7" fill="none" stroke="#5B9BD5" stroke-width="0.4"/>
<circle cx="106.50" cy="173.37" r="0.7" fill="none" stroke="#5B9BD5" stroke-width="0.4"/>
<circle cx="106.49" cy="173.26" r="0.7" fill="none" stroke="#5B9BD5" stroke-width="0.4"/>
<rect x="110.75" y="179.63" width="4.10" height="42.87" fill="#7A1FA0" stroke="none" stroke-width="0.5"/>
<rect x="115.10" y="188.10" width="3.60" height="34.40" fill="#DFA6F2" stroke="#B455D6" stroke-width="0.5"/>
<line x1="112.80" y1="168.08" x2="112.80" y2="179.63" stroke="#7A1FA0" stroke-width="0.5"/>
<line x1="111.50" y1="168.08" x2="114.10" y2="168.08" stroke="#7A1FA0" stroke-width="0.5"/>
<line x1="116.90" y1="177.58" x2="116.90" y2="187.85" stroke="#B455D6" stroke-width="0.5"/>
<line x1="115.60" y1="177.58" x2="118.20" y2="177.58" stroke="#B455D6" stroke-width="0.5"/>
<circle cx="113.82" cy="190.19" r="0.5599999999999999" fill="#fff" stroke="none" stroke-width="0.4" opacity="0.85"/>
<circle cx="112.05" cy="183.60" r="0.5599999999999999" fill="#fff" stroke="none" stroke-width="0.4" opacity="0.85"/>
<circle cx="113.79" cy="170.73" r="0.6649999999999999" fill="#9c9c9c" stroke="none" stroke-width="0.4"/>
<circle cx="112.24" cy="195.58" r="0.5599999999999999" fill="#fff" stroke="none" stroke-width="0.4" opacity="0.85"/>
<circle cx="112.42" cy="169.99" r="0.6649999999999999" fill="#9c9c9c" stroke="none" stroke-width="0.4"/>
<circle cx="111.62" cy="187.71" r="0.5599999999999999" fill="#fff" stroke="none" stroke-width="0.4" opacity="0.85"/>
<circle cx="113.09" cy="194.46" r="0.5599999999999999" fill="#fff" stroke="none" stroke-width="0.4" opacity="0.85"/>
<circle cx="118.10" cy="172.93" r="0.7" fill="none" stroke="#9a9a9a" stroke-width="0.4"/>
<circle cx="115.76" cy="187.22" r="0.7" fill="none" stroke="#9a9a9a" stroke-width="0.4"/>
<circle cx="117.59" cy="192.62" r="0.7" fill="none" stroke="#B455D6" stroke-width="0.4"/>
<circle cx="117.23" cy="177.45" r="0.7" fill="none" stroke="#9a9a9a" stroke-width="0.4"/>
<circle cx="116.97" cy="195.39" r="0.7" fill="none" stroke="#B455D6" stroke-width="0.4"/>
<circle cx="117.20" cy="188.01" r="0.7" fill="none" stroke="#B455D6" stroke-width="0.4"/>
<circle cx="117.97" cy="194.40" r="0.7" fill="none" stroke="#B455D6" stroke-width="0.4"/>
<rect x="130.00" y="209.66" width="4.00" height="12.83" fill="#A3141C" stroke="none" stroke-width="0.5"/>
<rect x="134.25" y="192.72" width="3.50" height="29.78" fill="#F6A9A9" stroke="#E0595B" stroke-width="0.5"/>
<line x1="132.00" y1="201.96" x2="132.00" y2="209.66" stroke="#A3141C" stroke-width="0.5"/>
<line x1="130.70" y1="201.96" x2="133.30" y2="201.96" stroke="#A3141C" stroke-width="0.5"/>
<line x1="136.00" y1="184.00" x2="136.00" y2="192.47" stroke="#E0595B" stroke-width="0.5"/>
<line x1="134.70" y1="184.00" x2="137.30" y2="184.00" stroke="#E0595B" stroke-width="0.5"/>
<circle cx="132.44" cy="214.66" r="0.5599999999999999" fill="#fff" stroke="none" stroke-width="0.4" opacity="0.85"/>
<circle cx="132.84" cy="205.17" r="0.6649999999999999" fill="#9c9c9c" stroke="none" stroke-width="0.4"/>
<circle cx="131.35" cy="216.30" r="0.5599999999999999" fill="#fff" stroke="none" stroke-width="0.4" opacity="0.85"/>
<circle cx="131.34" cy="217.16" r="0.5599999999999999" fill="#fff" stroke="none" stroke-width="0.4" opacity="0.85"/>
<circle cx="131.11" cy="204.05" r="0.6649999999999999" fill="#9c9c9c" stroke="none" stroke-width="0.4"/>
<circle cx="131.31" cy="208.58" r="0.6649999999999999" fill="#9c9c9c" stroke="none" stroke-width="0.4"/>
<circle cx="131.84" cy="213.87" r="0.5599999999999999" fill="#fff" stroke="none" stroke-width="0.4" opacity="0.85"/>
<circle cx="136.26" cy="183.75" r="0.7" fill="none" stroke="#9a9a9a" stroke-width="0.4"/>
<circle cx="135.46" cy="203.97" r="0.7" fill="none" stroke="#E0595B" stroke-width="0.4"/>
<circle cx="136.89" cy="200.72" r="0.7" fill="none" stroke="#E0595B" stroke-width="0.4"/>
<circle cx="136.73" cy="184.43" r="0.7" fill="none" stroke="#9a9a9a" stroke-width="0.4"/>
<circle cx="136.59" cy="184.02" r="0.7" fill="none" stroke="#9a9a9a" stroke-width="0.4"/>
<circle cx="136.71" cy="181.00" r="0.7" fill="none" stroke="#9a9a9a" stroke-width="0.4"/>
<circle cx="136.84" cy="198.02" r="0.7" fill="none" stroke="#E0595B" stroke-width="0.4"/>
<rect x="141.75" y="213.77" width="4.00" height="8.73" fill="#1B7A2B" stroke="none" stroke-width="0.5"/>
<rect x="146.00" y="204.01" width="3.50" height="18.49" fill="#B9F2B9" stroke="#45B649" stroke-width="0.5"/>
<line x1="143.75" y1="206.58" x2="143.75" y2="213.77" stroke="#1B7A2B" stroke-width="0.5"/>
<line x1="142.45" y1="206.58" x2="145.05" y2="206.58" stroke="#1B7A2B" stroke-width="0.5"/>
<line x1="147.75" y1="196.83" x2="147.75" y2="203.76" stroke="#45B649" stroke-width="0.5"/>
<line x1="146.45" y1="196.83" x2="149.05" y2="196.83" stroke="#45B649" stroke-width="0.5"/>
<circle cx="144.36" cy="213.69" r="0.6649999999999999" fill="#9c9c9c" stroke="none" stroke-width="0.4"/>
<circle cx="143.58" cy="212.08" r="0.6649999999999999" fill="#9c9c9c" stroke="none" stroke-width="0.4"/>
<circle cx="143.58" cy="216.24" r="0.5599999999999999" fill="#fff" stroke="none" stroke-width="0.4" opacity="0.85"/>
<circle cx="142.83" cy="217.29" r="0.5599999999999999" fill="#fff" stroke="none" stroke-width="0.4" opacity="0.85"/>
<circle cx="144.47" cy="206.75" r="0.6649999999999999" fill="#9c9c9c" stroke="none" stroke-width="0.4"/>
<circle cx="144.21" cy="203.29" r="0.6649999999999999" fill="#9c9c9c" stroke="none" stroke-width="0.4"/>
<circle cx="144.35" cy="212.28" r="0.6649999999999999" fill="#9c9c9c" stroke="none" stroke-width="0.4"/>
<circle cx="148.17" cy="210.75" r="0.7" fill="none" stroke="#45B649" stroke-width="0.4"/>
<circle cx="146.97" cy="204.55" r="0.7" fill="none" stroke="#45B649" stroke-width="0.4"/>
<circle cx="147.80" cy="209.39" r="0.7" fill="none" stroke="#45B649" stroke-width="0.4"/>
<circle cx="147.65" cy="208.37" r="0.7" fill="none" stroke="#45B649" stroke-width="0.4"/>
<circle cx="147.50" cy="201.29" r="0.7" fill="none" stroke="#9a9a9a" stroke-width="0.4"/>
<circle cx="147.73" cy="210.84" r="0.7" fill="none" stroke="#45B649" stroke-width="0.4"/>
<circle cx="147.12" cy="208.73" r="0.7" fill="none" stroke="#45B649" stroke-width="0.4"/>
<rect x="153.25" y="213.00" width="4.00" height="9.50" fill="#1F7F9C" stroke="none" stroke-width="0.5"/>
<rect x="157.50" y="203.24" width="3.50" height="19.26" fill="#A3CCF0" stroke="#5B9BD5" stroke-width="0.5"/>
<line x1="155.25" y1="207.87" x2="155.25" y2="213.00" stroke="#1F7F9C" stroke-width="0.5"/>
<line x1="153.95" y1="207.87" x2="156.55" y2="207.87" stroke="#1F7F9C" stroke-width="0.5"/>
<line x1="159.25" y1="195.29" x2="159.25" y2="202.99" stroke="#5B9BD5" stroke-width="0.5"/>
<line x1="157.95" y1="195.29" x2="160.55" y2="195.29" stroke="#5B9BD5" stroke-width="0.5"/>
<circle cx="154.93" cy="217.29" r="0.5599999999999999" fill="#fff" stroke="none" stroke-width="0.4" opacity="0.85"/>
<circle cx="155.61" cy="219.10" r="0.5599999999999999" fill="#fff" stroke="none" stroke-width="0.4" opacity="0.85"/>
<circle cx="154.99" cy="205.99" r="0.6649999999999999" fill="#9c9c9c" stroke="none" stroke-width="0.4"/>
<circle cx="156.29" cy="209.49" r="0.6649999999999999" fill="#9c9c9c" stroke="none" stroke-width="0.4"/>
<circle cx="154.39" cy="219.55" r="0.5599999999999999" fill="#fff" stroke="none" stroke-width="0.4" opacity="0.85"/>
<circle cx="156.06" cy="208.19" r="0.6649999999999999" fill="#9c9c9c" stroke="none" stroke-width="0.4"/>
<circle cx="154.43" cy="210.68" r="0.6649999999999999" fill="#9c9c9c" stroke="none" stroke-width="0.4"/>
<circle cx="160.13" cy="204.54" r="0.7" fill="none" stroke="#5B9BD5" stroke-width="0.4"/>
<circle cx="159.98" cy="193.98" r="0.7" fill="none" stroke="#9a9a9a" stroke-width="0.4"/>
<circle cx="160.10" cy="209.24" r="0.7" fill="none" stroke="#5B9BD5" stroke-width="0.4"/>
<circle cx="159.77" cy="205.40" r="0.7" fill="none" stroke="#5B9BD5" stroke-width="0.4"/>
<circle cx="160.38" cy="210.71" r="0.7" fill="none" stroke="#5B9BD5" stroke-width="0.4"/>
<circle cx="159.78" cy="200.29" r="0.7" fill="none" stroke="#9a9a9a" stroke-width="0.4"/>
<circle cx="159.53" cy="209.04" r="0.7" fill="none" stroke="#5B9BD5" stroke-width="0.4"/>
<rect x="165.00" y="216.85" width="4.00" height="5.65" fill="#7A1FA0" stroke="none" stroke-width="0.5"/>
<rect x="169.25" y="208.37" width="3.50" height="14.13" fill="#DFA6F2" stroke="#B455D6" stroke-width="0.5"/>
<line x1="167.00" y1="213.77" x2="167.00" y2="216.85" stroke="#7A1FA0" stroke-width="0.5"/>
<line x1="165.70" y1="213.77" x2="168.30" y2="213.77" stroke="#7A1FA0" stroke-width="0.5"/>
<line x1="171.00" y1="202.48" x2="171.00" y2="208.12" stroke="#B455D6" stroke-width="0.5"/>
<line x1="169.70" y1="202.48" x2="172.30" y2="202.48" stroke="#B455D6" stroke-width="0.5"/>
<circle cx="167.22" cy="215.98" r="0.6649999999999999" fill="#9c9c9c" stroke="none" stroke-width="0.4"/>
<circle cx="167.55" cy="217.96" r="0.5599999999999999" fill="#fff" stroke="none" stroke-width="0.4" opacity="0.85"/>
<circle cx="166.51" cy="218.12" r="0.5599999999999999" fill="#fff" stroke="none" stroke-width="0.4" opacity="0.85"/>
<circle cx="167.44" cy="219.70" r="0.5599999999999999" fill="#fff" stroke="none" stroke-width="0.4" opacity="0.85"/>
<circle cx="166.34" cy="220.16" r="0.5599999999999999" fill="#fff" stroke="none" stroke-width="0.4" opacity="0.85"/>
<circle cx="167.34" cy="220.50" r="0.5599999999999999" fill="#fff" stroke="none" stroke-width="0.4" opacity="0.85"/>
<circle cx="167.10" cy="216.20" r="0.6649999999999999" fill="#9c9c9c" stroke="none" stroke-width="0.4"/>
<circle cx="170.86" cy="215.40" r="0.7" fill="none" stroke="#B455D6" stroke-width="0.4"/>
<circle cx="170.02" cy="210.41" r="0.7" fill="none" stroke="#B455D6" stroke-width="0.4"/>
<circle cx="172.19" cy="215.98" r="0.7" fill="none" stroke="#B455D6" stroke-width="0.4"/>
<circle cx="170.52" cy="214.04" r="0.7" fill="none" stroke="#B455D6" stroke-width="0.4"/>
<circle cx="171.23" cy="211.63" r="0.7" fill="none" stroke="#B455D6" stroke-width="0.4"/>
<circle cx="170.93" cy="214.76" r="0.7" fill="none" stroke="#B455D6" stroke-width="0.4"/>
<circle cx="171.80" cy="210.03" r="0.7" fill="none" stroke="#B455D6" stroke-width="0.4"/>
<circle cx="24.63" cy="190.72" r="0.7" fill="none" stroke="#9a9a9a" stroke-width="0.4"/>
<circle cx="25.15" cy="185.30" r="0.7" fill="none" stroke="#9a9a9a" stroke-width="0.4"/>
<circle cx="25.10" cy="187.04" r="0.7" fill="none" stroke="#9a9a9a" stroke-width="0.4"/>
<circle cx="23.91" cy="209.39" r="0.7" fill="none" stroke="#9a9a9a" stroke-width="0.4"/>
<circle cx="24.39" cy="180.64" r="0.7" fill="none" stroke="#9a9a9a" stroke-width="0.4"/>
<circle cx="22.99" cy="181.98" r="0.7" fill="none" stroke="#9a9a9a" stroke-width="0.4"/>
<circle cx="23.34" cy="195.56" r="0.7" fill="none" stroke="#9a9a9a" stroke-width="0.4"/>
<circle cx="24.19" cy="193.21" r="0.7" fill="none" stroke="#9a9a9a" stroke-width="0.4"/>
<circle cx="23.26" cy="209.89" r="0.7" fill="none" stroke="#9a9a9a" stroke-width="0.4"/>
<circle cx="29.08" cy="210.28" r="0.7" fill="none" stroke="#9a9a9a" stroke-width="0.4"/>
<circle cx="27.11" cy="202.42" r="0.7" fill="none" stroke="#9a9a9a" stroke-width="0.4"/>
<circle cx="27.06" cy="201.91" r="0.7" fill="none" stroke="#9a9a9a" stroke-width="0.4"/>
<circle cx="27.03" cy="204.81" r="0.7" fill="none" stroke="#9a9a9a" stroke-width="0.4"/>
<circle cx="28.97" cy="214.77" r="0.7" fill="none" stroke="#9a9a9a" stroke-width="0.4"/>
<circle cx="27.26" cy="211.41" r="0.7" fill="none" stroke="#9a9a9a" stroke-width="0.4"/>
<circle cx="28.97" cy="198.91" r="0.7" fill="none" stroke="#9a9a9a" stroke-width="0.4"/>
<circle cx="29.20" cy="210.12" r="0.7" fill="none" stroke="#9a9a9a" stroke-width="0.4"/>
<circle cx="28.46" cy="206.08" r="0.7" fill="none" stroke="#9a9a9a" stroke-width="0.4"/>
<circle cx="79.45" cy="191.03" r="0.7" fill="none" stroke="#9a9a9a" stroke-width="0.4"/>
<circle cx="79.51" cy="175.75" r="0.7" fill="none" stroke="#9a9a9a" stroke-width="0.4"/>
<circle cx="77.78" cy="169.37" r="0.7" fill="none" stroke="#9a9a9a" stroke-width="0.4"/>
<circle cx="77.43" cy="186.11" r="0.7" fill="none" stroke="#9a9a9a" stroke-width="0.4"/>
<circle cx="77.17" cy="192.89" r="0.7" fill="none" stroke="#9a9a9a" stroke-width="0.4"/>
<circle cx="78.57" cy="188.00" r="0.7" fill="none" stroke="#9a9a9a" stroke-width="0.4"/>
<circle cx="78.76" cy="197.37" r="0.7" fill="none" stroke="#9a9a9a" stroke-width="0.4"/>
<circle cx="77.81" cy="186.85" r="0.7" fill="none" stroke="#9a9a9a" stroke-width="0.4"/>
<circle cx="78.25" cy="171.73" r="0.7" fill="none" stroke="#9a9a9a" stroke-width="0.4"/>
<circle cx="82.35" cy="192.68" r="0.7" fill="none" stroke="#9a9a9a" stroke-width="0.4"/>
<circle cx="81.25" cy="182.20" r="0.7" fill="none" stroke="#9a9a9a" stroke-width="0.4"/>
<circle cx="81.16" cy="174.91" r="0.7" fill="none" stroke="#9a9a9a" stroke-width="0.4"/>
<circle cx="83.30" cy="180.98" r="0.7" fill="none" stroke="#9a9a9a" stroke-width="0.4"/>
<circle cx="83.15" cy="200.71" r="0.7" fill="none" stroke="#9a9a9a" stroke-width="0.4"/>
<circle cx="82.60" cy="191.32" r="0.7" fill="none" stroke="#9a9a9a" stroke-width="0.4"/>
<circle cx="81.22" cy="200.95" r="0.7" fill="none" stroke="#9a9a9a" stroke-width="0.4"/>
<circle cx="83.58" cy="196.32" r="0.7" fill="none" stroke="#9a9a9a" stroke-width="0.4"/>
<circle cx="83.06" cy="195.90" r="0.7" fill="none" stroke="#9a9a9a" stroke-width="0.4"/>
<circle cx="133.15" cy="196.16" r="0.7" fill="none" stroke="#9a9a9a" stroke-width="0.4"/>
<circle cx="131.62" cy="211.93" r="0.7" fill="none" stroke="#9a9a9a" stroke-width="0.4"/>
<circle cx="132.72" cy="207.07" r="0.7" fill="none" stroke="#9a9a9a" stroke-width="0.4"/>
<circle cx="132.65" cy="218.30" r="0.7" fill="none" stroke="#9a9a9a" stroke-width="0.4"/>
<circle cx="132.94" cy="199.73" r="0.7" fill="none" stroke="#9a9a9a" stroke-width="0.4"/>
<circle cx="133.16" cy="220.23" r="0.7" fill="none" stroke="#9a9a9a" stroke-width="0.4"/>
<circle cx="131.59" cy="218.76" r="0.7" fill="none" stroke="#9a9a9a" stroke-width="0.4"/>
<circle cx="133.09" cy="204.75" r="0.7" fill="none" stroke="#9a9a9a" stroke-width="0.4"/>
<circle cx="133.10" cy="212.05" r="0.7" fill="none" stroke="#9a9a9a" stroke-width="0.4"/>
<circle cx="135.51" cy="189.01" r="0.7" fill="none" stroke="#9a9a9a" stroke-width="0.4"/>
<circle cx="135.16" cy="195.78" r="0.7" fill="none" stroke="#9a9a9a" stroke-width="0.4"/>
<circle cx="135.09" cy="202.85" r="0.7" fill="none" stroke="#9a9a9a" stroke-width="0.4"/>
<circle cx="137.29" cy="184.74" r="0.7" fill="none" stroke="#9a9a9a" stroke-width="0.4"/>
<circle cx="134.83" cy="200.38" r="0.7" fill="none" stroke="#9a9a9a" stroke-width="0.4"/>
<circle cx="136.09" cy="175.92" r="0.7" fill="none" stroke="#9a9a9a" stroke-width="0.4"/>
<circle cx="135.32" cy="193.14" r="0.7" fill="none" stroke="#9a9a9a" stroke-width="0.4"/>
<circle cx="136.85" cy="187.56" r="0.7" fill="none" stroke="#9a9a9a" stroke-width="0.4"/>
<circle cx="135.80" cy="191.66" r="0.7" fill="none" stroke="#9a9a9a" stroke-width="0.4"/>
<line x1="22.75" y1="156.10" x2="29.25" y2="156.10" stroke="#777" stroke-width="0.4"/>
<text x="26.20" y="157.65" font-size="7.2" text-anchor="middle" font-weight="bold" letter-spacing="0.45">***</text>
<line x1="34.00" y1="156.10" x2="40.50" y2="156.10" stroke="#777" stroke-width="0.4"/>
<text x="37.45" y="157.65" font-size="7.2" text-anchor="middle" font-weight="bold" letter-spacing="0.45">*</text>
<line x1="45.75" y1="156.10" x2="52.25" y2="156.10" stroke="#777" stroke-width="0.4"/>
<text x="49.00" y="155.10" font-size="4.6" text-anchor="middle" fill="#222" stroke="#222" stroke-width="0.12">ns</text>
<line x1="57.50" y1="156.10" x2="64.00" y2="156.10" stroke="#777" stroke-width="0.4"/>
<text x="60.75" y="155.10" font-size="4.6" text-anchor="middle" fill="#222" stroke="#222" stroke-width="0.12">ns</text>
<line x1="77.10" y1="156.10" x2="83.60" y2="156.10" stroke="#777" stroke-width="0.4"/>
<text x="80.35" y="155.10" font-size="4.6" text-anchor="middle" fill="#222" stroke="#222" stroke-width="0.12">ns</text>
<line x1="88.35" y1="156.10" x2="94.85" y2="156.10" stroke="#777" stroke-width="0.4"/>
<text x="91.60" y="155.10" font-size="4.6" text-anchor="middle" fill="#222" stroke="#222" stroke-width="0.12">ns</text>
<line x1="100.10" y1="156.10" x2="106.60" y2="156.10" stroke="#777" stroke-width="0.4"/>
<text x="103.35" y="155.10" font-size="4.6" text-anchor="middle" fill="#222" stroke="#222" stroke-width="0.12">ns</text>
<line x1="111.60" y1="156.10" x2="118.10" y2="156.10" stroke="#777" stroke-width="0.4"/>
<text x="114.85" y="155.10" font-size="4.6" text-anchor="middle" fill="#222" stroke="#222" stroke-width="0.12">ns</text>
<line x1="130.75" y1="156.10" x2="137.25" y2="156.10" stroke="#777" stroke-width="0.4"/>
<text x="134.20" y="157.65" font-size="7.2" text-anchor="middle" font-weight="bold" letter-spacing="0.45">****</text>
<line x1="142.50" y1="156.10" x2="149.00" y2="156.10" stroke="#777" stroke-width="0.4"/>
<text x="145.75" y="155.10" font-size="4.6" text-anchor="middle" fill="#222" stroke="#222" stroke-width="0.12">ns</text>
<line x1="154.00" y1="156.10" x2="160.50" y2="156.10" stroke="#777" stroke-width="0.4"/>
<text x="157.25" y="155.10" font-size="4.6" text-anchor="middle" fill="#222" stroke="#222" stroke-width="0.12">ns</text>
<line x1="165.75" y1="156.10" x2="172.25" y2="156.10" stroke="#777" stroke-width="0.4"/>
<text x="169.00" y="155.10" font-size="4.6" text-anchor="middle" fill="#222" stroke="#222" stroke-width="0.12">ns</text>
<text x="43.00" y="229.70" font-size="5.0" text-anchor="middle" stroke="#000" stroke-width="0.12">Inner zone</text>
<line x1="43.00" y1="222.50" x2="43.00" y2="224.10" stroke="#000" stroke-width="0.5"/>
<text x="97.50" y="229.70" font-size="5.0" text-anchor="middle" stroke="#000" stroke-width="0.12">Outer zone</text>
<line x1="97.50" y1="222.50" x2="97.50" y2="224.10" stroke="#000" stroke-width="0.5"/>
<text x="152.00" y="229.70" font-size="5.0" text-anchor="middle" stroke="#000" stroke-width="0.12">Immobile</text>
<line x1="152.00" y1="222.50" x2="152.00" y2="224.10" stroke="#000" stroke-width="0.5"/>
<ellipse cx="197.40" cy="137.70" rx="13" ry="6.5" fill="#A6C8E9"/>
<text x="197.40" y="140.40" font-size="7.5" text-anchor="middle" fill="#1F2F4A" stroke="#1F2F4A" stroke-width="0.15">A/E</text>
<ellipse cx="197.50" cy="151.50" rx="13.1" ry="7.0" fill="#F7BF18"/>
<text x="197.50" y="154.20" font-size="7.5" text-anchor="middle" fill="#3A2A10" stroke="#3A2A10" stroke-width="0.15">Mot</text>
<rect x="182.20" y="162.70" width="5.60" height="3.20" fill="#A3141C" stroke="none" stroke-width="0.5"/>
<text x="190.90" y="166.00" font-size="4.85" stroke="#000" stroke-width="0.12">p3-6 Sham</text>
<rect x="182.45" y="170.25" width="5.10" height="2.70" fill="#F6A9A9" stroke="#E0595B" stroke-width="0.5"/>
<text x="190.90" y="173.30" font-size="4.85" stroke="#000" stroke-width="0.12">p3-6 4 Gy</text>
<rect x="182.20" y="179.20" width="5.60" height="3.20" fill="#1B7A2B" stroke="none" stroke-width="0.5"/>
<text x="190.90" y="182.50" font-size="4.85" stroke="#000" stroke-width="0.12">p10 Sham</text>
<rect x="182.45" y="186.65" width="5.10" height="2.70" fill="#B9F2B9" stroke="#45B649" stroke-width="0.5"/>
<text x="190.90" y="189.70" font-size="4.85" stroke="#000" stroke-width="0.12">p10 4 Gy</text>
<rect x="182.20" y="196.00" width="5.60" height="3.20" fill="#1F7F9C" stroke="none" stroke-width="0.5"/>
<text x="190.90" y="199.30" font-size="4.85" stroke="#000" stroke-width="0.12">p20 Sham</text>
<rect x="182.45" y="203.35" width="5.10" height="2.70" fill="#A3CCF0" stroke="#5B9BD5" stroke-width="0.5"/>
<text x="190.90" y="206.40" font-size="4.85" stroke="#000" stroke-width="0.12">p20 4 Gy</text>
<rect x="182.20" y="212.70" width="5.60" height="3.20" fill="#7A1FA0" stroke="none" stroke-width="0.5"/>
<text x="190.90" y="216.00" font-size="4.85" stroke="#000" stroke-width="0.12">p45 Sham</text>
<rect x="182.45" y="219.85" width="5.10" height="2.70" fill="#DFA6F2" stroke="#B455D6" stroke-width="0.5"/>
<text x="190.90" y="222.90" font-size="4.85" stroke="#000" stroke-width="0.12">p45 4 Gy</text>
<text x="230.50" y="136.30" font-size="10.5" font-weight="bold">E</text>
<text x="287.50" y="137.40" font-size="5.5" text-anchor="middle" stroke="#000" stroke-width="0.12">Rearing</text>
<line x1="249.30" y1="143.60" x2="249.30" y2="221.50" stroke="#333" stroke-width="0.42"/>
<line x1="247.70" y1="221.30" x2="249.30" y2="221.30" stroke="#222" stroke-width="0.45"/>
<text x="247.00" y="223.02" font-size="4.9" text-anchor="end" stroke="#000" stroke-width="0.12">0</text>
<line x1="247.70" y1="195.47" x2="249.30" y2="195.47" stroke="#222" stroke-width="0.45"/>
<text x="247.00" y="197.18" font-size="4.9" text-anchor="end" stroke="#000" stroke-width="0.12">50</text>
<line x1="247.70" y1="169.63" x2="249.30" y2="169.63" stroke="#222" stroke-width="0.45"/>
<text x="247.00" y="171.34" font-size="4.9" text-anchor="end" stroke="#000" stroke-width="0.12">100</text>
<line x1="247.70" y1="143.80" x2="249.30" y2="143.80" stroke="#222" stroke-width="0.45"/>
<text x="247.00" y="145.51" font-size="4.9" text-anchor="end" stroke="#000" stroke-width="0.12">150</text>
<text x="236.00" y="182.55" font-size="5.65" text-anchor="middle" stroke="#000" stroke-width="0.12" transform="rotate(-90 236.00 182.55)">Time (s)</text>
<line x1="249.10" y1="221.30" x2="325.50" y2="221.30" stroke="#333" stroke-width="0.45"/>
<rect x="252.00" y="190.56" width="6.70" height="30.74" fill="#A3141C" stroke="none" stroke-width="0.5"/>
<rect x="258.95" y="205.79" width="6.20" height="15.51" fill="#F6A9A9" stroke="#E0595B" stroke-width="0.5"/>
<line x1="255.35" y1="179.19" x2="255.35" y2="190.56" stroke="#A3141C" stroke-width="0.5"/>
<line x1="254.05" y1="179.19" x2="256.65" y2="179.19" stroke="#A3141C" stroke-width="0.5"/>
<line x1="262.05" y1="199.34" x2="262.05" y2="205.54" stroke="#E0595B" stroke-width="0.5"/>
<line x1="260.75" y1="199.34" x2="263.35" y2="199.34" stroke="#E0595B" stroke-width="0.5"/>
<circle cx="255.81" cy="201.03" r="0.6000000000000001" fill="#fff" stroke="none" stroke-width="0.4" opacity="0.85"/>
<circle cx="255.30" cy="185.54" r="0.7124999999999999" fill="#9c9c9c" stroke="none" stroke-width="0.4"/>
<circle cx="256.05" cy="199.35" r="0.6000000000000001" fill="#fff" stroke="none" stroke-width="0.4" opacity="0.85"/>
<circle cx="255.38" cy="179.84" r="0.7124999999999999" fill="#9c9c9c" stroke="none" stroke-width="0.4"/>
<circle cx="254.72" cy="189.82" r="0.7124999999999999" fill="#9c9c9c" stroke="none" stroke-width="0.4"/>
<circle cx="255.04" cy="206.37" r="0.6000000000000001" fill="#fff" stroke="none" stroke-width="0.4" opacity="0.85"/>
<circle cx="254.32" cy="187.17" r="0.7124999999999999" fill="#9c9c9c" stroke="none" stroke-width="0.4"/>
<circle cx="261.41" cy="199.95" r="0.75" fill="none" stroke="#9a9a9a" stroke-width="0.4"/>
<circle cx="260.95" cy="210.04" r="0.75" fill="none" stroke="#E0595B" stroke-width="0.4"/>
<circle cx="262.62" cy="196.28" r="0.75" fill="none" stroke="#9a9a9a" stroke-width="0.4"/>
<circle cx="262.33" cy="198.49" r="0.75" fill="none" stroke="#9a9a9a" stroke-width="0.4"/>
<circle cx="261.64" cy="213.61" r="0.75" fill="none" stroke="#E0595B" stroke-width="0.4"/>
<circle cx="261.13" cy="205.27" r="0.75" fill="none" stroke="#9a9a9a" stroke-width="0.4"/>
<circle cx="261.73" cy="197.10" r="0.75" fill="none" stroke="#9a9a9a" stroke-width="0.4"/>
<rect x="271.75" y="186.16" width="6.70" height="35.14" fill="#1B7A2B" stroke="none" stroke-width="0.5"/>
<rect x="278.70" y="201.40" width="6.20" height="19.90" fill="#B9F2B9" stroke="#45B649" stroke-width="0.5"/>
<line x1="275.10" y1="175.83" x2="275.10" y2="186.16" stroke="#1B7A2B" stroke-width="0.5"/>
<line x1="273.80" y1="175.83" x2="276.40" y2="175.83" stroke="#1B7A2B" stroke-width="0.5"/>
<line x1="281.80" y1="192.88" x2="281.80" y2="201.15" stroke="#45B649" stroke-width="0.5"/>
<line x1="280.50" y1="192.88" x2="283.10" y2="192.88" stroke="#45B649" stroke-width="0.5"/>
<circle cx="275.86" cy="195.99" r="0.6000000000000001" fill="#fff" stroke="none" stroke-width="0.4" opacity="0.85"/>
<circle cx="276.13" cy="196.89" r="0.6000000000000001" fill="#fff" stroke="none" stroke-width="0.4" opacity="0.85"/>
<circle cx="275.22" cy="187.05" r="0.6000000000000001" fill="#fff" stroke="none" stroke-width="0.4" opacity="0.85"/>
<circle cx="275.06" cy="190.36" r="0.6000000000000001" fill="#fff" stroke="none" stroke-width="0.4" opacity="0.85"/>
<circle cx="273.99" cy="195.03" r="0.6000000000000001" fill="#fff" stroke="none" stroke-width="0.4" opacity="0.85"/>
<circle cx="274.46" cy="174.68" r="0.7124999999999999" fill="#9c9c9c" stroke="none" stroke-width="0.4"/>
<circle cx="274.40" cy="177.25" r="0.7124999999999999" fill="#9c9c9c" stroke="none" stroke-width="0.4"/>
<circle cx="282.75" cy="189.50" r="0.75" fill="none" stroke="#9a9a9a" stroke-width="0.4"/>
<circle cx="282.43" cy="194.63" r="0.75" fill="none" stroke="#9a9a9a" stroke-width="0.4"/>
<circle cx="282.35" cy="198.80" r="0.75" fill="none" stroke="#9a9a9a" stroke-width="0.4"/>
<circle cx="281.74" cy="209.79" r="0.75" fill="none" stroke="#45B649" stroke-width="0.4"/>
<circle cx="281.08" cy="192.90" r="0.75" fill="none" stroke="#9a9a9a" stroke-width="0.4"/>
<circle cx="282.73" cy="190.59" r="0.75" fill="none" stroke="#9a9a9a" stroke-width="0.4"/>
<circle cx="281.48" cy="202.90" r="0.75" fill="none" stroke="#45B649" stroke-width="0.4"/>
<rect x="290.75" y="190.30" width="6.70" height="31.00" fill="#1F7F9C" stroke="none" stroke-width="0.5"/>
<rect x="297.70" y="198.30" width="6.20" height="23.00" fill="#A3CCF0" stroke="#5B9BD5" stroke-width="0.5"/>
<line x1="294.10" y1="179.96" x2="294.10" y2="190.30" stroke="#1F7F9C" stroke-width="0.5"/>
<line x1="292.80" y1="179.96" x2="295.40" y2="179.96" stroke="#1F7F9C" stroke-width="0.5"/>
<line x1="300.80" y1="183.58" x2="300.80" y2="198.05" stroke="#5B9BD5" stroke-width="0.5"/>
<line x1="299.50" y1="183.58" x2="302.10" y2="183.58" stroke="#5B9BD5" stroke-width="0.5"/>
<circle cx="293.83" cy="191.24" r="0.6000000000000001" fill="#fff" stroke="none" stroke-width="0.4" opacity="0.85"/>
<circle cx="293.83" cy="174.95" r="0.7124999999999999" fill="#9c9c9c" stroke="none" stroke-width="0.4"/>
<circle cx="293.12" cy="203.96" r="0.6000000000000001" fill="#fff" stroke="none" stroke-width="0.4" opacity="0.85"/>
<circle cx="295.28" cy="183.25" r="0.7124999999999999" fill="#9c9c9c" stroke="none" stroke-width="0.4"/>
<circle cx="294.08" cy="189.90" r="0.7124999999999999" fill="#9c9c9c" stroke="none" stroke-width="0.4"/>
<circle cx="294.70" cy="188.27" r="0.7124999999999999" fill="#9c9c9c" stroke="none" stroke-width="0.4"/>
<circle cx="294.36" cy="198.11" r="0.6000000000000001" fill="#fff" stroke="none" stroke-width="0.4" opacity="0.85"/>
<circle cx="301.09" cy="194.96" r="0.75" fill="none" stroke="#9a9a9a" stroke-width="0.4"/>
<circle cx="300.01" cy="210.72" r="0.75" fill="none" stroke="#5B9BD5" stroke-width="0.4"/>
<circle cx="301.82" cy="203.69" r="0.75" fill="none" stroke="#5B9BD5" stroke-width="0.4"/>
<circle cx="301.03" cy="203.76" r="0.75" fill="none" stroke="#5B9BD5" stroke-width="0.4"/>
<circle cx="299.85" cy="205.44" r="0.75" fill="none" stroke="#5B9BD5" stroke-width="0.4"/>
<circle cx="301.55" cy="215.55" r="0.75" fill="none" stroke="#5B9BD5" stroke-width="0.4"/>
<circle cx="300.50" cy="185.70" r="0.75" fill="none" stroke="#9a9a9a" stroke-width="0.4"/>
<rect x="310.50" y="176.35" width="6.70" height="44.95" fill="#7A1FA0" stroke="none" stroke-width="0.5"/>
<rect x="317.45" y="185.38" width="6.20" height="35.92" fill="#DFA6F2" stroke="#B455D6" stroke-width="0.5"/>
<line x1="313.85" y1="164.46" x2="313.85" y2="176.35" stroke="#7A1FA0" stroke-width="0.5"/>
<line x1="312.55" y1="164.46" x2="315.15" y2="164.46" stroke="#7A1FA0" stroke-width="0.5"/>
<line x1="320.55" y1="168.08" x2="320.55" y2="185.13" stroke="#B455D6" stroke-width="0.5"/>
<line x1="319.25" y1="168.08" x2="321.85" y2="168.08" stroke="#B455D6" stroke-width="0.5"/>
<circle cx="314.27" cy="169.43" r="0.7124999999999999" fill="#9c9c9c" stroke="none" stroke-width="0.4"/>
<circle cx="314.95" cy="162.01" r="0.7124999999999999" fill="#9c9c9c" stroke="none" stroke-width="0.4"/>
<circle cx="315.02" cy="178.96" r="0.6000000000000001" fill="#fff" stroke="none" stroke-width="0.4" opacity="0.85"/>
<circle cx="314.07" cy="159.85" r="0.7124999999999999" fill="#9c9c9c" stroke="none" stroke-width="0.4"/>
<circle cx="313.83" cy="162.55" r="0.7124999999999999" fill="#9c9c9c" stroke="none" stroke-width="0.4"/>
<circle cx="313.24" cy="180.04" r="0.6000000000000001" fill="#fff" stroke="none" stroke-width="0.4" opacity="0.85"/>
<circle cx="313.04" cy="162.79" r="0.7124999999999999" fill="#9c9c9c" stroke="none" stroke-width="0.4"/>
<circle cx="321.28" cy="205.57" r="0.75" fill="none" stroke="#B455D6" stroke-width="0.4"/>
<circle cx="320.51" cy="170.73" r="0.75" fill="none" stroke="#9a9a9a" stroke-width="0.4"/>
<circle cx="319.48" cy="167.61" r="0.75" fill="none" stroke="#9a9a9a" stroke-width="0.4"/>
<circle cx="320.05" cy="196.25" r="0.75" fill="none" stroke="#B455D6" stroke-width="0.4"/>
<circle cx="319.76" cy="188.26" r="0.75" fill="none" stroke="#B455D6" stroke-width="0.4"/>
<circle cx="320.16" cy="205.57" r="0.75" fill="none" stroke="#B455D6" stroke-width="0.4"/>
<circle cx="321.71" cy="164.54" r="0.75" fill="none" stroke="#9a9a9a" stroke-width="0.4"/>
<line x1="255.45" y1="153.20" x2="261.95" y2="153.20" stroke="#777" stroke-width="0.4"/>
<text x="258.90" y="154.75" font-size="7.2" text-anchor="middle" font-weight="bold" letter-spacing="0.45">*</text>
<line x1="258.70" y1="221.30" x2="258.70" y2="222.70" stroke="#000" stroke-width="0.4"/>
<line x1="275.20" y1="153.20" x2="281.70" y2="153.20" stroke="#777" stroke-width="0.4"/>
<text x="278.65" y="154.75" font-size="7.2" text-anchor="middle" font-weight="bold" letter-spacing="0.45">*</text>
<line x1="278.45" y1="221.30" x2="278.45" y2="222.70" stroke="#000" stroke-width="0.4"/>
<line x1="294.20" y1="153.20" x2="300.70" y2="153.20" stroke="#777" stroke-width="0.4"/>
<text x="297.45" y="152.20" font-size="4.6" text-anchor="middle" fill="#222" stroke="#222" stroke-width="0.12">ns</text>
<line x1="297.45" y1="221.30" x2="297.45" y2="222.70" stroke="#000" stroke-width="0.4"/>
<line x1="313.95" y1="153.20" x2="320.45" y2="153.20" stroke="#777" stroke-width="0.4"/>
<text x="317.20" y="152.20" font-size="4.6" text-anchor="middle" fill="#222" stroke="#222" stroke-width="0.12">ns</text>
<line x1="317.20" y1="221.30" x2="317.20" y2="222.70" stroke="#000" stroke-width="0.4"/>
<ellipse cx="345.70" cy="136.30" rx="13" ry="6.6" fill="#A6C8E9"/>
<text x="345.70" y="139.00" font-size="7.5" text-anchor="middle" fill="#1F2F4A" stroke="#1F2F4A" stroke-width="0.15">A/E</text>
<ellipse cx="345.70" cy="150.30" rx="13" ry="7.0" fill="#F7BF18"/>
<text x="345.70" y="153.00" font-size="7.5" text-anchor="middle" fill="#3A2A10" stroke="#3A2A10" stroke-width="0.15">Mot</text>
<rect x="331.30" y="165.60" width="5.60" height="3.20" fill="#A3141C" stroke="none" stroke-width="0.5"/>
<text x="340.00" y="168.90" font-size="4.85" stroke="#000" stroke-width="0.12">p3-6 Sham</text>
<rect x="331.55" y="172.45" width="5.10" height="2.70" fill="#F6A9A9" stroke="#E0595B" stroke-width="0.5"/>
<text x="340.00" y="175.50" font-size="4.85" stroke="#000" stroke-width="0.12">p3-6 4 Gy</text>
<rect x="331.30" y="181.00" width="5.60" height="3.20" fill="#1B7A2B" stroke="none" stroke-width="0.5"/>
<text x="340.00" y="184.30" font-size="4.85" stroke="#000" stroke-width="0.12">p10 Sham</text>
<rect x="331.55" y="187.85" width="5.10" height="2.70" fill="#B9F2B9" stroke="#45B649" stroke-width="0.5"/>
<text x="340.00" y="190.90" font-size="4.85" stroke="#000" stroke-width="0.12">p10 4 Gy</text>
<rect x="331.30" y="196.60" width="5.60" height="3.20" fill="#1F7F9C" stroke="none" stroke-width="0.5"/>
<text x="340.00" y="199.90" font-size="4.85" stroke="#000" stroke-width="0.12">p20 Sham</text>
<rect x="331.55" y="203.15" width="5.10" height="2.70" fill="#A3CCF0" stroke="#5B9BD5" stroke-width="0.5"/>
<text x="340.00" y="206.20" font-size="4.85" stroke="#000" stroke-width="0.12">p20 4 Gy</text>
<rect x="331.30" y="211.80" width="5.60" height="3.20" fill="#7A1FA0" stroke="none" stroke-width="0.5"/>
<text x="340.00" y="215.10" font-size="4.85" stroke="#000" stroke-width="0.12">p45 Sham</text>
<rect x="331.55" y="218.65" width="5.10" height="2.70" fill="#DFA6F2" stroke="#B455D6" stroke-width="0.5"/>
<text x="340.00" y="221.70" font-size="4.85" stroke="#000" stroke-width="0.12">p45 4 Gy</text>
<text x="384.50" y="136.30" font-size="10.5" font-weight="bold">F</text>
<text x="443.80" y="138.00" font-size="5.5" text-anchor="middle" stroke="#000" stroke-width="0.12">Light/Dark box</text>
<line x1="405.50" y1="145.55" x2="405.50" y2="222.70" stroke="#333" stroke-width="0.42"/>
<line x1="403.90" y1="222.50" x2="405.50" y2="222.50" stroke="#222" stroke-width="0.45"/>
<text x="403.20" y="224.22" font-size="4.9" text-anchor="end" stroke="#000" stroke-width="0.12">0</text>
<line x1="403.90" y1="207.15" x2="405.50" y2="207.15" stroke="#222" stroke-width="0.45"/>
<text x="403.20" y="208.87" font-size="4.9" text-anchor="end" stroke="#000" stroke-width="0.12">50</text>
<line x1="403.90" y1="191.80" x2="405.50" y2="191.80" stroke="#222" stroke-width="0.45"/>
<text x="403.20" y="193.52" font-size="4.9" text-anchor="end" stroke="#000" stroke-width="0.12">100</text>
<line x1="403.90" y1="176.45" x2="405.50" y2="176.45" stroke="#222" stroke-width="0.45"/>
<text x="403.20" y="178.16" font-size="4.9" text-anchor="end" stroke="#000" stroke-width="0.12">150</text>
<line x1="403.90" y1="161.10" x2="405.50" y2="161.10" stroke="#222" stroke-width="0.45"/>
<text x="403.20" y="162.81" font-size="4.9" text-anchor="end" stroke="#000" stroke-width="0.12">200</text>
<line x1="403.90" y1="145.75" x2="405.50" y2="145.75" stroke="#222" stroke-width="0.45"/>
<text x="403.20" y="147.47" font-size="4.9" text-anchor="end" stroke="#000" stroke-width="0.12">250</text>
<text x="390.00" y="184.12" font-size="5.65" text-anchor="middle" stroke="#000" stroke-width="0.12" transform="rotate(-90 390.00 184.12)">Time in light chamber (s)</text>
<line x1="405.30" y1="222.50" x2="481.00" y2="222.50" stroke="#333" stroke-width="0.45"/>
<rect x="408.25" y="191.80" width="6.50" height="30.70" fill="#A3141C" stroke="none" stroke-width="0.5"/>
<rect x="415.00" y="209.55" width="6.00" height="12.95" fill="#F6A9A9" stroke="#E0595B" stroke-width="0.5"/>
<line x1="411.50" y1="184.12" x2="411.50" y2="191.80" stroke="#A3141C" stroke-width="0.5"/>
<line x1="410.20" y1="184.12" x2="412.80" y2="184.12" stroke="#A3141C" stroke-width="0.5"/>
<line x1="418.00" y1="203.77" x2="418.00" y2="209.30" stroke="#E0595B" stroke-width="0.5"/>
<line x1="416.70" y1="203.77" x2="419.30" y2="203.77" stroke="#E0595B" stroke-width="0.5"/>
<circle cx="410.64" cy="181.22" r="0.7124999999999999" fill="#9c9c9c" stroke="none" stroke-width="0.4"/>
<circle cx="412.70" cy="202.02" r="0.6000000000000001" fill="#fff" stroke="none" stroke-width="0.4" opacity="0.85"/>
<circle cx="410.59" cy="198.44" r="0.6000000000000001" fill="#fff" stroke="none" stroke-width="0.4" opacity="0.85"/>
<circle cx="411.13" cy="188.05" r="0.7124999999999999" fill="#9c9c9c" stroke="none" stroke-width="0.4"/>
<circle cx="410.86" cy="182.75" r="0.7124999999999999" fill="#9c9c9c" stroke="none" stroke-width="0.4"/>
<circle cx="411.07" cy="181.19" r="0.7124999999999999" fill="#9c9c9c" stroke="none" stroke-width="0.4"/>
<circle cx="412.54" cy="189.17" r="0.7124999999999999" fill="#9c9c9c" stroke="none" stroke-width="0.4"/>
<circle cx="419.02" cy="206.05" r="0.75" fill="none" stroke="#9a9a9a" stroke-width="0.4"/>
<circle cx="416.92" cy="205.69" r="0.75" fill="none" stroke="#9a9a9a" stroke-width="0.4"/>
<circle cx="418.21" cy="202.91" r="0.75" fill="none" stroke="#9a9a9a" stroke-width="0.4"/>
<circle cx="417.26" cy="212.06" r="0.75" fill="none" stroke="#E0595B" stroke-width="0.4"/>
<circle cx="418.20" cy="203.42" r="0.75" fill="none" stroke="#9a9a9a" stroke-width="0.4"/>
<circle cx="418.66" cy="202.00" r="0.75" fill="none" stroke="#9a9a9a" stroke-width="0.4"/>
<circle cx="418.16" cy="201.63" r="0.75" fill="none" stroke="#9a9a9a" stroke-width="0.4"/>
<rect x="427.50" y="176.14" width="6.50" height="46.36" fill="#1B7A2B" stroke="none" stroke-width="0.5"/>
<rect x="434.25" y="199.11" width="6.00" height="23.39" fill="#B9F2B9" stroke="#45B649" stroke-width="0.5"/>
<line x1="430.75" y1="162.33" x2="430.75" y2="176.14" stroke="#1B7A2B" stroke-width="0.5"/>
<line x1="429.45" y1="162.33" x2="432.05" y2="162.33" stroke="#1B7A2B" stroke-width="0.5"/>
<line x1="437.25" y1="191.19" x2="437.25" y2="198.86" stroke="#45B649" stroke-width="0.5"/>
<line x1="435.95" y1="191.19" x2="438.55" y2="191.19" stroke="#45B649" stroke-width="0.5"/>
<circle cx="431.02" cy="167.50" r="0.7124999999999999" fill="#9c9c9c" stroke="none" stroke-width="0.4"/>
<circle cx="431.85" cy="185.13" r="0.6000000000000001" fill="#fff" stroke="none" stroke-width="0.4" opacity="0.85"/>
<circle cx="431.42" cy="182.97" r="0.6000000000000001" fill="#fff" stroke="none" stroke-width="0.4" opacity="0.85"/>
<circle cx="431.11" cy="157.24" r="0.7124999999999999" fill="#9c9c9c" stroke="none" stroke-width="0.4"/>
<circle cx="431.53" cy="189.79" r="0.6000000000000001" fill="#fff" stroke="none" stroke-width="0.4" opacity="0.85"/>
<circle cx="429.99" cy="168.74" r="0.7124999999999999" fill="#9c9c9c" stroke="none" stroke-width="0.4"/>
<circle cx="430.83" cy="193.52" r="0.6000000000000001" fill="#fff" stroke="none" stroke-width="0.4" opacity="0.85"/>
<circle cx="438.27" cy="208.89" r="0.75" fill="none" stroke="#45B649" stroke-width="0.4"/>
<circle cx="437.29" cy="198.34" r="0.75" fill="none" stroke="#9a9a9a" stroke-width="0.4"/>
<circle cx="437.64" cy="200.49" r="0.75" fill="none" stroke="#45B649" stroke-width="0.4"/>
<circle cx="436.79" cy="189.21" r="0.75" fill="none" stroke="#9a9a9a" stroke-width="0.4"/>
<circle cx="437.45" cy="201.29" r="0.75" fill="none" stroke="#45B649" stroke-width="0.4"/>
<circle cx="437.48" cy="202.99" r="0.75" fill="none" stroke="#45B649" stroke-width="0.4"/>
<circle cx="437.09" cy="197.52" r="0.75" fill="none" stroke="#9a9a9a" stroke-width="0.4"/>
<rect x="446.75" y="157.11" width="6.50" height="65.39" fill="#1F7F9C" stroke="none" stroke-width="0.5"/>
<rect x="453.50" y="194.51" width="6.00" height="27.99" fill="#A3CCF0" stroke="#5B9BD5" stroke-width="0.5"/>
<line x1="450.00" y1="152.50" x2="450.00" y2="157.11" stroke="#1F7F9C" stroke-width="0.5"/>
<line x1="448.70" y1="152.50" x2="451.30" y2="152.50" stroke="#1F7F9C" stroke-width="0.5"/>
<line x1="456.50" y1="178.29" x2="456.50" y2="194.26" stroke="#5B9BD5" stroke-width="0.5"/>
<line x1="455.20" y1="178.29" x2="457.80" y2="178.29" stroke="#5B9BD5" stroke-width="0.5"/>
<circle cx="450.07" cy="154.57" r="0.7124999999999999" fill="#9c9c9c" stroke="none" stroke-width="0.4"/>
<circle cx="451.19" cy="162.38" r="0.6000000000000001" fill="#fff" stroke="none" stroke-width="0.4" opacity="0.85"/>
<circle cx="449.84" cy="158.81" r="0.6000000000000001" fill="#fff" stroke="none" stroke-width="0.4" opacity="0.85"/>
<circle cx="451.03" cy="158.18" r="0.6000000000000001" fill="#fff" stroke="none" stroke-width="0.4" opacity="0.85"/>
<circle cx="450.03" cy="150.84" r="0.7124999999999999" fill="#9c9c9c" stroke="none" stroke-width="0.4"/>
<circle cx="449.03" cy="158.21" r="0.6000000000000001" fill="#fff" stroke="none" stroke-width="0.4" opacity="0.85"/>
<circle cx="449.21" cy="151.60" r="0.7124999999999999" fill="#9c9c9c" stroke="none" stroke-width="0.4"/>
<circle cx="456.14" cy="191.30" r="0.75" fill="none" stroke="#9a9a9a" stroke-width="0.4"/>
<circle cx="456.16" cy="201.41" r="0.75" fill="none" stroke="#5B9BD5" stroke-width="0.4"/>
<circle cx="455.39" cy="207.75" r="0.75" fill="none" stroke="#5B9BD5" stroke-width="0.4"/>
<circle cx="457.21" cy="191.82" r="0.75" fill="none" stroke="#9a9a9a" stroke-width="0.4"/>
<circle cx="455.78" cy="186.65" r="0.75" fill="none" stroke="#9a9a9a" stroke-width="0.4"/>
<circle cx="455.43" cy="184.49" r="0.75" fill="none" stroke="#9a9a9a" stroke-width="0.4"/>
<circle cx="457.29" cy="197.59" r="0.75" fill="none" stroke="#5B9BD5" stroke-width="0.4"/>
<rect x="466.25" y="197.94" width="6.50" height="24.56" fill="#7A1FA0" stroke="none" stroke-width="0.5"/>
<rect x="473.00" y="206.02" width="6.00" height="16.48" fill="#DFA6F2" stroke="#B455D6" stroke-width="0.5"/>
<line x1="469.50" y1="192.41" x2="469.50" y2="197.94" stroke="#7A1FA0" stroke-width="0.5"/>
<line x1="468.20" y1="192.41" x2="470.80" y2="192.41" stroke="#7A1FA0" stroke-width="0.5"/>
<line x1="476.00" y1="200.24" x2="476.00" y2="205.77" stroke="#B455D6" stroke-width="0.5"/>
<line x1="474.70" y1="200.24" x2="477.30" y2="200.24" stroke="#B455D6" stroke-width="0.5"/>
<circle cx="469.41" cy="190.92" r="0.7124999999999999" fill="#9c9c9c" stroke="none" stroke-width="0.4"/>
<circle cx="469.50" cy="192.11" r="0.7124999999999999" fill="#9c9c9c" stroke="none" stroke-width="0.4"/>
<circle cx="469.70" cy="197.28" r="0.7124999999999999" fill="#9c9c9c" stroke="none" stroke-width="0.4"/>
<circle cx="470.08" cy="189.79" r="0.7124999999999999" fill="#9c9c9c" stroke="none" stroke-width="0.4"/>
<circle cx="470.05" cy="198.10" r="0.6000000000000001" fill="#fff" stroke="none" stroke-width="0.4" opacity="0.85"/>
<circle cx="469.15" cy="195.37" r="0.7124999999999999" fill="#9c9c9c" stroke="none" stroke-width="0.4"/>
<circle cx="470.27" cy="193.11" r="0.7124999999999999" fill="#9c9c9c" stroke="none" stroke-width="0.4"/>
<circle cx="477.06" cy="203.75" r="0.75" fill="none" stroke="#9a9a9a" stroke-width="0.4"/>
<circle cx="476.00" cy="213.21" r="0.75" fill="none" stroke="#B455D6" stroke-width="0.4"/>
<circle cx="475.62" cy="203.34" r="0.75" fill="none" stroke="#9a9a9a" stroke-width="0.4"/>
<circle cx="476.46" cy="210.76" r="0.75" fill="none" stroke="#B455D6" stroke-width="0.4"/>
<circle cx="475.45" cy="206.54" r="0.75" fill="none" stroke="#B455D6" stroke-width="0.4"/>
<circle cx="477.12" cy="212.83" r="0.75" fill="none" stroke="#B455D6" stroke-width="0.4"/>
<circle cx="475.08" cy="207.86" r="0.75" fill="none" stroke="#B455D6" stroke-width="0.4"/>
<line x1="411.50" y1="147.60" x2="418.00" y2="147.60" stroke="#777" stroke-width="0.4"/>
<text x="414.95" y="149.15" font-size="7.2" text-anchor="middle" font-weight="bold" letter-spacing="0.45">*</text>
<line x1="414.75" y1="222.50" x2="414.75" y2="223.90" stroke="#000" stroke-width="0.4"/>
<line x1="430.75" y1="147.60" x2="437.25" y2="147.60" stroke="#777" stroke-width="0.4"/>
<text x="434.20" y="149.15" font-size="7.2" text-anchor="middle" font-weight="bold" letter-spacing="0.45">***</text>
<line x1="434.00" y1="222.50" x2="434.00" y2="223.90" stroke="#000" stroke-width="0.4"/>
<line x1="450.00" y1="147.60" x2="456.50" y2="147.60" stroke="#777" stroke-width="0.4"/>
<text x="453.45" y="149.15" font-size="7.2" text-anchor="middle" font-weight="bold" letter-spacing="0.45">****</text>
<line x1="453.25" y1="222.50" x2="453.25" y2="223.90" stroke="#000" stroke-width="0.4"/>
<line x1="469.50" y1="147.60" x2="476.00" y2="147.60" stroke="#777" stroke-width="0.4"/>
<text x="472.75" y="146.60" font-size="4.6" text-anchor="middle" fill="#222" stroke="#222" stroke-width="0.12">ns</text>
<line x1="472.75" y1="222.50" x2="472.75" y2="223.90" stroke="#000" stroke-width="0.4"/>
<ellipse cx="501.40" cy="137.10" rx="12.8" ry="6.9" fill="#A6C8E9"/>
<text x="501.40" y="139.80" font-size="7.5" text-anchor="middle" fill="#1F2F4A" stroke="#1F2F4A" stroke-width="0.15">A/E</text>
<ellipse cx="501.40" cy="151.40" rx="12.8" ry="7.0" fill="#F7BF18"/>
<text x="501.40" y="154.10" font-size="7.5" text-anchor="middle" fill="#3A2A10" stroke="#3A2A10" stroke-width="0.15">Mot</text>
<rect x="487.30" y="166.60" width="5.60" height="3.20" fill="#A3141C" stroke="none" stroke-width="0.5"/>
<text x="496.00" y="169.90" font-size="4.85" stroke="#000" stroke-width="0.12">p3-6 Sham</text>
<rect x="487.55" y="173.35" width="5.10" height="2.70" fill="#F6A9A9" stroke="#E0595B" stroke-width="0.5"/>
<text x="496.00" y="176.40" font-size="4.85" stroke="#000" stroke-width="0.12">p3-6 4 Gy</text>
<rect x="487.30" y="181.60" width="5.60" height="3.20" fill="#1B7A2B" stroke="none" stroke-width="0.5"/>
<text x="496.00" y="184.90" font-size="4.85" stroke="#000" stroke-width="0.12">p10 Sham</text>
<rect x="487.55" y="188.35" width="5.10" height="2.70" fill="#B9F2B9" stroke="#45B649" stroke-width="0.5"/>
<text x="496.00" y="191.40" font-size="4.85" stroke="#000" stroke-width="0.12">p10 4 Gy</text>
<rect x="487.30" y="196.80" width="5.60" height="3.20" fill="#1F7F9C" stroke="none" stroke-width="0.5"/>
<text x="496.00" y="200.10" font-size="4.85" stroke="#000" stroke-width="0.12">p20 Sham</text>
<rect x="487.55" y="203.65" width="5.10" height="2.70" fill="#A3CCF0" stroke="#5B9BD5" stroke-width="0.5"/>
<text x="496.00" y="206.70" font-size="4.85" stroke="#000" stroke-width="0.12">p20 4 Gy</text>
<rect x="487.30" y="211.80" width="5.60" height="3.20" fill="#7A1FA0" stroke="none" stroke-width="0.5"/>
<text x="496.00" y="215.10" font-size="4.85" stroke="#000" stroke-width="0.12">p45 Sham</text>
<rect x="487.55" y="218.65" width="5.10" height="2.70" fill="#DFA6F2" stroke="#B455D6" stroke-width="0.5"/>
<text x="496.00" y="221.70" font-size="4.85" stroke="#000" stroke-width="0.12">p45 4 Gy</text>
<text x="1.50" y="249.70" font-size="10.5" font-weight="bold">G</text>
<text x="58.00" y="251.20" font-size="5.5" text-anchor="middle" stroke="#000" stroke-width="0.12">Rotarod</text>
<line x1="20.00" y1="257.30" x2="20.00" y2="335.70" stroke="#333" stroke-width="0.42"/>
<line x1="18.40" y1="335.50" x2="20.00" y2="335.50" stroke="#222" stroke-width="0.45"/>
<text x="17.70" y="337.21" font-size="4.9" text-anchor="end" stroke="#000" stroke-width="0.12">0</text>
<line x1="18.40" y1="309.50" x2="20.00" y2="309.50" stroke="#222" stroke-width="0.45"/>
<text x="17.70" y="311.21" font-size="4.9" text-anchor="end" stroke="#000" stroke-width="0.12">100</text>
<line x1="18.40" y1="283.50" x2="20.00" y2="283.50" stroke="#222" stroke-width="0.45"/>
<text x="17.70" y="285.21" font-size="4.9" text-anchor="end" stroke="#000" stroke-width="0.12">200</text>
<line x1="18.40" y1="257.50" x2="20.00" y2="257.50" stroke="#222" stroke-width="0.45"/>
<text x="17.70" y="259.21" font-size="4.9" text-anchor="end" stroke="#000" stroke-width="0.12">300</text>
<text x="6.50" y="296.50" font-size="5.65" text-anchor="middle" stroke="#000" stroke-width="0.12" transform="rotate(-90 6.50 296.50)">Latency to fall (s)</text>
<line x1="19.80" y1="335.50" x2="95.50" y2="335.50" stroke="#333" stroke-width="0.45"/>
<rect x="23.00" y="293.38" width="6.40" height="42.12" fill="#A3141C" stroke="none" stroke-width="0.5"/>
<rect x="29.65" y="310.79" width="5.90" height="24.71" fill="#F6A9A9" stroke="#E0595B" stroke-width="0.5"/>
<line x1="26.20" y1="279.08" x2="26.20" y2="293.38" stroke="#A3141C" stroke-width="0.5"/>
<line x1="24.90" y1="279.08" x2="27.50" y2="279.08" stroke="#A3141C" stroke-width="0.5"/>
<line x1="32.60" y1="304.82" x2="32.60" y2="310.54" stroke="#E0595B" stroke-width="0.5"/>
<line x1="31.30" y1="304.82" x2="33.90" y2="304.82" stroke="#E0595B" stroke-width="0.5"/>
<circle cx="27.28" cy="275.05" r="0.7124999999999999" fill="#9c9c9c" stroke="none" stroke-width="0.4"/>
<circle cx="25.20" cy="276.39" r="0.7124999999999999" fill="#9c9c9c" stroke="none" stroke-width="0.4"/>
<circle cx="26.02" cy="288.85" r="0.7124999999999999" fill="#9c9c9c" stroke="none" stroke-width="0.4"/>
<circle cx="25.31" cy="291.42" r="0.7124999999999999" fill="#9c9c9c" stroke="none" stroke-width="0.4"/>
<circle cx="26.07" cy="305.44" r="0.6000000000000001" fill="#fff" stroke="none" stroke-width="0.4" opacity="0.85"/>
<circle cx="26.09" cy="304.23" r="0.6000000000000001" fill="#fff" stroke="none" stroke-width="0.4" opacity="0.85"/>
<circle cx="25.21" cy="312.37" r="0.6000000000000001" fill="#fff" stroke="none" stroke-width="0.4" opacity="0.85"/>
<circle cx="32.41" cy="306.77" r="0.75" fill="none" stroke="#9a9a9a" stroke-width="0.4"/>
<circle cx="33.16" cy="310.04" r="0.75" fill="none" stroke="#9a9a9a" stroke-width="0.4"/>
<circle cx="31.54" cy="312.59" r="0.75" fill="none" stroke="#E0595B" stroke-width="0.4"/>
<circle cx="32.81" cy="305.56" r="0.75" fill="none" stroke="#9a9a9a" stroke-width="0.4"/>
<circle cx="32.89" cy="307.63" r="0.75" fill="none" stroke="#9a9a9a" stroke-width="0.4"/>
<circle cx="32.27" cy="302.45" r="0.75" fill="none" stroke="#9a9a9a" stroke-width="0.4"/>
<circle cx="32.28" cy="305.94" r="0.75" fill="none" stroke="#9a9a9a" stroke-width="0.4"/>
<rect x="42.00" y="291.56" width="6.40" height="43.94" fill="#1B7A2B" stroke="none" stroke-width="0.5"/>
<rect x="48.65" y="308.19" width="5.90" height="27.31" fill="#B9F2B9" stroke="#45B649" stroke-width="0.5"/>
<line x1="45.20" y1="283.76" x2="45.20" y2="291.56" stroke="#1B7A2B" stroke-width="0.5"/>
<line x1="43.90" y1="283.76" x2="46.50" y2="283.76" stroke="#1B7A2B" stroke-width="0.5"/>
<line x1="51.60" y1="304.04" x2="51.60" y2="307.94" stroke="#45B649" stroke-width="0.5"/>
<line x1="50.30" y1="304.04" x2="52.90" y2="304.04" stroke="#45B649" stroke-width="0.5"/>
<circle cx="45.59" cy="289.54" r="0.7124999999999999" fill="#9c9c9c" stroke="none" stroke-width="0.4"/>
<circle cx="44.21" cy="295.37" r="0.6000000000000001" fill="#fff" stroke="none" stroke-width="0.4" opacity="0.85"/>
<circle cx="45.72" cy="291.76" r="0.6000000000000001" fill="#fff" stroke="none" stroke-width="0.4" opacity="0.85"/>
<circle cx="45.07" cy="289.12" r="0.7124999999999999" fill="#9c9c9c" stroke="none" stroke-width="0.4"/>
<circle cx="44.44" cy="287.95" r="0.7124999999999999" fill="#9c9c9c" stroke="none" stroke-width="0.4"/>
<circle cx="44.78" cy="298.44" r="0.6000000000000001" fill="#fff" stroke="none" stroke-width="0.4" opacity="0.85"/>
<circle cx="44.47" cy="284.02" r="0.7124999999999999" fill="#9c9c9c" stroke="none" stroke-width="0.4"/>
<circle cx="50.64" cy="312.11" r="0.75" fill="none" stroke="#45B649" stroke-width="0.4"/>
<circle cx="51.06" cy="312.96" r="0.75" fill="none" stroke="#45B649" stroke-width="0.4"/>
<circle cx="52.37" cy="306.92" r="0.75" fill="none" stroke="#9a9a9a" stroke-width="0.4"/>
<circle cx="51.29" cy="309.66" r="0.75" fill="none" stroke="#45B649" stroke-width="0.4"/>
<circle cx="51.13" cy="310.14" r="0.75" fill="none" stroke="#45B649" stroke-width="0.4"/>
<circle cx="51.72" cy="304.61" r="0.75" fill="none" stroke="#9a9a9a" stroke-width="0.4"/>
<circle cx="50.66" cy="310.48" r="0.75" fill="none" stroke="#45B649" stroke-width="0.4"/>
<rect x="61.25" y="288.96" width="6.40" height="46.54" fill="#1F7F9C" stroke="none" stroke-width="0.5"/>
<rect x="67.90" y="301.95" width="5.90" height="33.55" fill="#A3CCF0" stroke="#5B9BD5" stroke-width="0.5"/>
<line x1="64.45" y1="281.94" x2="64.45" y2="288.96" stroke="#1F7F9C" stroke-width="0.5"/>
<line x1="63.15" y1="281.94" x2="65.75" y2="281.94" stroke="#1F7F9C" stroke-width="0.5"/>
<line x1="70.85" y1="286.10" x2="70.85" y2="301.70" stroke="#5B9BD5" stroke-width="0.5"/>
<line x1="69.55" y1="286.10" x2="72.15" y2="286.10" stroke="#5B9BD5" stroke-width="0.5"/>
<circle cx="64.95" cy="282.83" r="0.7124999999999999" fill="#9c9c9c" stroke="none" stroke-width="0.4"/>
<circle cx="63.82" cy="281.92" r="0.7124999999999999" fill="#9c9c9c" stroke="none" stroke-width="0.4"/>
<circle cx="65.45" cy="287.68" r="0.7124999999999999" fill="#9c9c9c" stroke="none" stroke-width="0.4"/>
<circle cx="65.52" cy="286.72" r="0.7124999999999999" fill="#9c9c9c" stroke="none" stroke-width="0.4"/>
<circle cx="65.59" cy="295.38" r="0.6000000000000001" fill="#fff" stroke="none" stroke-width="0.4" opacity="0.85"/>
<circle cx="64.25" cy="297.65" r="0.6000000000000001" fill="#fff" stroke="none" stroke-width="0.4" opacity="0.85"/>
<circle cx="65.19" cy="298.31" r="0.6000000000000001" fill="#fff" stroke="none" stroke-width="0.4" opacity="0.85"/>
<circle cx="71.99" cy="292.45" r="0.75" fill="none" stroke="#9a9a9a" stroke-width="0.4"/>
<circle cx="71.93" cy="287.12" r="0.75" fill="none" stroke="#9a9a9a" stroke-width="0.4"/>
<circle cx="72.02" cy="299.17" r="0.75" fill="none" stroke="#9a9a9a" stroke-width="0.4"/>
<circle cx="70.48" cy="289.65" r="0.75" fill="none" stroke="#9a9a9a" stroke-width="0.4"/>
<circle cx="70.55" cy="279.46" r="0.75" fill="none" stroke="#9a9a9a" stroke-width="0.4"/>
<circle cx="69.83" cy="314.79" r="0.75" fill="none" stroke="#5B9BD5" stroke-width="0.4"/>
<circle cx="70.12" cy="302.46" r="0.75" fill="none" stroke="#5B9BD5" stroke-width="0.4"/>
<rect x="80.50" y="286.36" width="6.40" height="49.14" fill="#7A1FA0" stroke="none" stroke-width="0.5"/>
<rect x="87.15" y="289.21" width="5.90" height="46.29" fill="#DFA6F2" stroke="#B455D6" stroke-width="0.5"/>
<line x1="83.70" y1="276.48" x2="83.70" y2="286.36" stroke="#7A1FA0" stroke-width="0.5"/>
<line x1="82.40" y1="276.48" x2="85.00" y2="276.48" stroke="#7A1FA0" stroke-width="0.5"/>
<line x1="90.10" y1="280.38" x2="90.10" y2="288.96" stroke="#B455D6" stroke-width="0.5"/>
<line x1="88.80" y1="280.38" x2="91.40" y2="280.38" stroke="#B455D6" stroke-width="0.5"/>
<circle cx="84.78" cy="273.44" r="0.7124999999999999" fill="#9c9c9c" stroke="none" stroke-width="0.4"/>
<circle cx="82.75" cy="294.00" r="0.6000000000000001" fill="#fff" stroke="none" stroke-width="0.4" opacity="0.85"/>
<circle cx="82.91" cy="285.04" r="0.7124999999999999" fill="#9c9c9c" stroke="none" stroke-width="0.4"/>
<circle cx="84.45" cy="284.62" r="0.7124999999999999" fill="#9c9c9c" stroke="none" stroke-width="0.4"/>
<circle cx="83.51" cy="292.94" r="0.6000000000000001" fill="#fff" stroke="none" stroke-width="0.4" opacity="0.85"/>
<circle cx="83.57" cy="274.38" r="0.7124999999999999" fill="#9c9c9c" stroke="none" stroke-width="0.4"/>
<circle cx="84.64" cy="290.37" r="0.6000000000000001" fill="#fff" stroke="none" stroke-width="0.4" opacity="0.85"/>
<circle cx="91.05" cy="280.72" r="0.75" fill="none" stroke="#9a9a9a" stroke-width="0.4"/>
<circle cx="89.89" cy="283.86" r="0.75" fill="none" stroke="#9a9a9a" stroke-width="0.4"/>
<circle cx="90.89" cy="283.73" r="0.75" fill="none" stroke="#9a9a9a" stroke-width="0.4"/>
<circle cx="89.47" cy="285.06" r="0.75" fill="none" stroke="#9a9a9a" stroke-width="0.4"/>
<circle cx="89.88" cy="293.63" r="0.75" fill="none" stroke="#B455D6" stroke-width="0.4"/>
<circle cx="90.24" cy="281.77" r="0.75" fill="none" stroke="#9a9a9a" stroke-width="0.4"/>
<circle cx="90.88" cy="287.29" r="0.75" fill="none" stroke="#9a9a9a" stroke-width="0.4"/>
<line x1="26.15" y1="264.40" x2="32.65" y2="264.40" stroke="#777" stroke-width="0.4"/>
<text x="29.60" y="265.95" font-size="7.2" text-anchor="middle" font-weight="bold" letter-spacing="0.45">**</text>
<line x1="29.40" y1="335.50" x2="29.40" y2="336.90" stroke="#000" stroke-width="0.4"/>
<line x1="45.15" y1="264.40" x2="51.65" y2="264.40" stroke="#777" stroke-width="0.4"/>
<text x="48.60" y="265.95" font-size="7.2" text-anchor="middle" font-weight="bold" letter-spacing="0.45">*</text>
<line x1="48.40" y1="335.50" x2="48.40" y2="336.90" stroke="#000" stroke-width="0.4"/>
<line x1="64.40" y1="264.40" x2="70.90" y2="264.40" stroke="#777" stroke-width="0.4"/>
<text x="67.65" y="263.40" font-size="4.6" text-anchor="middle" fill="#222" stroke="#222" stroke-width="0.12">ns</text>
<line x1="67.65" y1="335.50" x2="67.65" y2="336.90" stroke="#000" stroke-width="0.4"/>
<line x1="83.65" y1="264.40" x2="90.15" y2="264.40" stroke="#777" stroke-width="0.4"/>
<text x="86.90" y="263.40" font-size="4.6" text-anchor="middle" fill="#222" stroke="#222" stroke-width="0.12">ns</text>
<line x1="86.90" y1="335.50" x2="86.90" y2="336.90" stroke="#000" stroke-width="0.4"/>
<ellipse cx="118.80" cy="250.40" rx="13.2" ry="7.2" fill="#F7BF18"/>
<text x="118.80" y="253.10" font-size="7.5" text-anchor="middle" fill="#3A2A10" stroke="#3A2A10" stroke-width="0.15">Mot</text>
<rect x="101.30" y="278.90" width="5.60" height="3.20" fill="#A3141C" stroke="none" stroke-width="0.5"/>
<text x="110.00" y="282.20" font-size="4.85" stroke="#000" stroke-width="0.12">p3-6 Sham</text>
<rect x="101.55" y="285.55" width="5.10" height="2.70" fill="#F6A9A9" stroke="#E0595B" stroke-width="0.5"/>
<text x="110.00" y="288.60" font-size="4.85" stroke="#000" stroke-width="0.12">p3-6 4 Gy</text>
<rect x="101.30" y="294.20" width="5.60" height="3.20" fill="#1B7A2B" stroke="none" stroke-width="0.5"/>
<text x="110.00" y="297.50" font-size="4.85" stroke="#000" stroke-width="0.12">p10 Sham</text>
<rect x="101.55" y="300.75" width="5.10" height="2.70" fill="#B9F2B9" stroke="#45B649" stroke-width="0.5"/>
<text x="110.00" y="303.80" font-size="4.85" stroke="#000" stroke-width="0.12">p10 4 Gy</text>
<rect x="101.30" y="308.90" width="5.60" height="3.20" fill="#1F7F9C" stroke="none" stroke-width="0.5"/>
<text x="110.00" y="312.20" font-size="4.85" stroke="#000" stroke-width="0.12">p20 Sham</text>
<rect x="101.55" y="315.75" width="5.10" height="2.70" fill="#A3CCF0" stroke="#5B9BD5" stroke-width="0.5"/>
<text x="110.00" y="318.80" font-size="4.85" stroke="#000" stroke-width="0.12">p20 4 Gy</text>
<rect x="101.30" y="323.90" width="5.60" height="3.20" fill="#7A1FA0" stroke="none" stroke-width="0.5"/>
<text x="110.00" y="327.20" font-size="4.85" stroke="#000" stroke-width="0.12">p45 Sham</text>
<rect x="101.55" y="330.75" width="5.10" height="2.70" fill="#DFA6F2" stroke="#B455D6" stroke-width="0.5"/>
<text x="110.00" y="333.80" font-size="4.85" stroke="#000" stroke-width="0.12">p45 4 Gy</text>
<text x="161.00" y="249.70" font-size="10.5" font-weight="bold">H</text>
<text x="218.80" y="252.20" font-size="5.5" text-anchor="middle" stroke="#000" stroke-width="0.12">Y Maze</text>
<line x1="180.00" y1="259.30" x2="180.00" y2="335.95" stroke="#333" stroke-width="0.42"/>
<line x1="178.40" y1="335.75" x2="180.00" y2="335.75" stroke="#222" stroke-width="0.45"/>
<text x="177.70" y="337.46" font-size="4.9" text-anchor="end" stroke="#000" stroke-width="0.12">0</text>
<line x1="178.40" y1="320.50" x2="180.00" y2="320.50" stroke="#222" stroke-width="0.45"/>
<text x="177.70" y="322.21" font-size="4.9" text-anchor="end" stroke="#000" stroke-width="0.12">20</text>
<line x1="178.40" y1="305.25" x2="180.00" y2="305.25" stroke="#222" stroke-width="0.45"/>
<text x="177.70" y="306.96" font-size="4.9" text-anchor="end" stroke="#000" stroke-width="0.12">40</text>
<line x1="178.40" y1="290.00" x2="180.00" y2="290.00" stroke="#222" stroke-width="0.45"/>
<text x="177.70" y="291.71" font-size="4.9" text-anchor="end" stroke="#000" stroke-width="0.12">60</text>
<line x1="178.40" y1="274.75" x2="180.00" y2="274.75" stroke="#222" stroke-width="0.45"/>
<text x="177.70" y="276.46" font-size="4.9" text-anchor="end" stroke="#000" stroke-width="0.12">80</text>
<line x1="178.40" y1="259.50" x2="180.00" y2="259.50" stroke="#222" stroke-width="0.45"/>
<text x="177.70" y="261.21" font-size="4.9" text-anchor="end" stroke="#000" stroke-width="0.12">100</text>
<text x="166.50" y="297.62" font-size="5.5" text-anchor="middle" stroke="#000" stroke-width="0.12" transform="rotate(-90 166.50 297.62)">Time exploring novel arm (s)</text>
<line x1="179.80" y1="335.75" x2="257.50" y2="335.75" stroke="#333" stroke-width="0.45"/>
<rect x="185.00" y="307.69" width="6.50" height="28.06" fill="#A3141C" stroke="none" stroke-width="0.5"/>
<rect x="191.75" y="325.48" width="6.00" height="10.27" fill="url(#chk)" stroke="#E0595B" stroke-width="0.5"/>
<line x1="188.25" y1="297.01" x2="188.25" y2="307.69" stroke="#A3141C" stroke-width="0.5"/>
<line x1="186.95" y1="297.01" x2="189.55" y2="297.01" stroke="#A3141C" stroke-width="0.5"/>
<line x1="194.75" y1="318.37" x2="194.75" y2="325.23" stroke="#E0595B" stroke-width="0.5"/>
<line x1="193.45" y1="318.37" x2="196.05" y2="318.37" stroke="#E0595B" stroke-width="0.5"/>
<circle cx="189.07" cy="300.58" r="0.7124999999999999" fill="#9c9c9c" stroke="none" stroke-width="0.4"/>
<circle cx="189.45" cy="316.98" r="0.6000000000000001" fill="#fff" stroke="none" stroke-width="0.4" opacity="0.85"/>
<circle cx="188.66" cy="316.63" r="0.6000000000000001" fill="#fff" stroke="none" stroke-width="0.4" opacity="0.85"/>
<circle cx="188.87" cy="319.79" r="0.6000000000000001" fill="#fff" stroke="none" stroke-width="0.4" opacity="0.85"/>
<circle cx="188.75" cy="317.95" r="0.6000000000000001" fill="#fff" stroke="none" stroke-width="0.4" opacity="0.85"/>
<circle cx="188.89" cy="300.21" r="0.7124999999999999" fill="#9c9c9c" stroke="none" stroke-width="0.4"/>
<circle cx="189.13" cy="308.97" r="0.6000000000000001" fill="#fff" stroke="none" stroke-width="0.4" opacity="0.85"/>
<circle cx="193.83" cy="315.17" r="0.75" fill="none" stroke="#9a9a9a" stroke-width="0.4"/>
<circle cx="195.85" cy="324.55" r="0.75" fill="none" stroke="#9a9a9a" stroke-width="0.4"/>
<circle cx="194.62" cy="320.12" r="0.75" fill="none" stroke="#9a9a9a" stroke-width="0.4"/>
<circle cx="195.84" cy="328.77" r="0.75" fill="none" stroke="#E0595B" stroke-width="0.4"/>
<circle cx="195.38" cy="333.14" r="0.75" fill="none" stroke="#E0595B" stroke-width="0.4"/>
<circle cx="193.93" cy="318.05" r="0.75" fill="none" stroke="#9a9a9a" stroke-width="0.4"/>
<circle cx="194.28" cy="328.33" r="0.75" fill="none" stroke="#E0595B" stroke-width="0.4"/>
<rect x="204.25" y="301.67" width="6.50" height="34.08" fill="#1B7A2B" stroke="none" stroke-width="0.5"/>
<rect x="211.00" y="317.47" width="6.00" height="18.28" fill="#B9F2B9" stroke="#45B649" stroke-width="0.5"/>
<line x1="207.50" y1="291.75" x2="207.50" y2="301.67" stroke="#1B7A2B" stroke-width="0.5"/>
<line x1="206.20" y1="291.75" x2="208.80" y2="291.75" stroke="#1B7A2B" stroke-width="0.5"/>
<line x1="214.00" y1="308.83" x2="214.00" y2="317.22" stroke="#45B649" stroke-width="0.5"/>
<line x1="212.70" y1="308.83" x2="215.30" y2="308.83" stroke="#45B649" stroke-width="0.5"/>
<circle cx="207.18" cy="299.96" r="0.7124999999999999" fill="#9c9c9c" stroke="none" stroke-width="0.4"/>
<circle cx="208.52" cy="289.85" r="0.7124999999999999" fill="#9c9c9c" stroke="none" stroke-width="0.4"/>
<circle cx="208.45" cy="306.46" r="0.6000000000000001" fill="#fff" stroke="none" stroke-width="0.4" opacity="0.85"/>
<circle cx="206.53" cy="313.54" r="0.6000000000000001" fill="#fff" stroke="none" stroke-width="0.4" opacity="0.85"/>
<circle cx="208.22" cy="296.42" r="0.7124999999999999" fill="#9c9c9c" stroke="none" stroke-width="0.4"/>
<circle cx="208.68" cy="292.00" r="0.7124999999999999" fill="#9c9c9c" stroke="none" stroke-width="0.4"/>
<circle cx="206.94" cy="290.83" r="0.7124999999999999" fill="#9c9c9c" stroke="none" stroke-width="0.4"/>
<circle cx="215.02" cy="310.90" r="0.75" fill="none" stroke="#9a9a9a" stroke-width="0.4"/>
<circle cx="213.99" cy="326.69" r="0.75" fill="none" stroke="#45B649" stroke-width="0.4"/>
<circle cx="213.14" cy="325.21" r="0.75" fill="none" stroke="#45B649" stroke-width="0.4"/>
<circle cx="214.41" cy="317.30" r="0.75" fill="none" stroke="#45B649" stroke-width="0.4"/>
<circle cx="213.12" cy="305.28" r="0.75" fill="none" stroke="#9a9a9a" stroke-width="0.4"/>
<circle cx="215.19" cy="316.67" r="0.75" fill="none" stroke="#9a9a9a" stroke-width="0.4"/>
<circle cx="214.08" cy="310.36" r="0.75" fill="none" stroke="#9a9a9a" stroke-width="0.4"/>
<rect x="223.25" y="295.11" width="6.50" height="40.64" fill="#1F7F9C" stroke="none" stroke-width="0.5"/>
<rect x="230.00" y="313.12" width="6.00" height="22.62" fill="#A3CCF0" stroke="#5B9BD5" stroke-width="0.5"/>
<line x1="226.50" y1="288.25" x2="226.50" y2="295.11" stroke="#1F7F9C" stroke-width="0.5"/>
<line x1="225.20" y1="288.25" x2="227.80" y2="288.25" stroke="#1F7F9C" stroke-width="0.5"/>
<line x1="233.00" y1="302.20" x2="233.00" y2="312.88" stroke="#5B9BD5" stroke-width="0.5"/>
<line x1="231.70" y1="302.20" x2="234.30" y2="302.20" stroke="#5B9BD5" stroke-width="0.5"/>
<circle cx="226.81" cy="299.89" r="0.6000000000000001" fill="#fff" stroke="none" stroke-width="0.4" opacity="0.85"/>
<circle cx="226.85" cy="299.52" r="0.6000000000000001" fill="#fff" stroke="none" stroke-width="0.4" opacity="0.85"/>
<circle cx="226.24" cy="291.81" r="0.7124999999999999" fill="#9c9c9c" stroke="none" stroke-width="0.4"/>
<circle cx="226.27" cy="288.90" r="0.7124999999999999" fill="#9c9c9c" stroke="none" stroke-width="0.4"/>
<circle cx="227.30" cy="295.38" r="0.6000000000000001" fill="#fff" stroke="none" stroke-width="0.4" opacity="0.85"/>
<circle cx="225.75" cy="299.73" r="0.6000000000000001" fill="#fff" stroke="none" stroke-width="0.4" opacity="0.85"/>
<circle cx="226.34" cy="293.29" r="0.7124999999999999" fill="#9c9c9c" stroke="none" stroke-width="0.4"/>
<circle cx="232.40" cy="300.76" r="0.75" fill="none" stroke="#9a9a9a" stroke-width="0.4"/>
<circle cx="231.94" cy="316.32" r="0.75" fill="none" stroke="#5B9BD5" stroke-width="0.4"/>
<circle cx="232.55" cy="313.86" r="0.75" fill="none" stroke="#5B9BD5" stroke-width="0.4"/>
<circle cx="233.63" cy="313.93" r="0.75" fill="none" stroke="#5B9BD5" stroke-width="0.4"/>
<circle cx="234.17" cy="326.66" r="0.75" fill="none" stroke="#5B9BD5" stroke-width="0.4"/>
<circle cx="233.75" cy="305.80" r="0.75" fill="none" stroke="#9a9a9a" stroke-width="0.4"/>
<circle cx="233.18" cy="311.14" r="0.75" fill="none" stroke="#9a9a9a" stroke-width="0.4"/>
<rect x="242.50" y="287.87" width="6.50" height="47.88" fill="#7A1FA0" stroke="none" stroke-width="0.5"/>
<rect x="249.25" y="287.35" width="6.00" height="48.40" fill="#DFA6F2" stroke="#B455D6" stroke-width="0.5"/>
<line x1="245.75" y1="280.24" x2="245.75" y2="287.87" stroke="#7A1FA0" stroke-width="0.5"/>
<line x1="244.45" y1="280.24" x2="247.05" y2="280.24" stroke="#7A1FA0" stroke-width="0.5"/>
<line x1="252.25" y1="275.67" x2="252.25" y2="287.10" stroke="#B455D6" stroke-width="0.5"/>
<line x1="250.95" y1="275.67" x2="253.55" y2="275.67" stroke="#B455D6" stroke-width="0.5"/>
<circle cx="245.50" cy="289.48" r="0.6000000000000001" fill="#fff" stroke="none" stroke-width="0.4" opacity="0.85"/>
<circle cx="245.28" cy="293.66" r="0.6000000000000001" fill="#fff" stroke="none" stroke-width="0.4" opacity="0.85"/>
<circle cx="245.36" cy="292.04" r="0.6000000000000001" fill="#fff" stroke="none" stroke-width="0.4" opacity="0.85"/>
<circle cx="246.47" cy="278.48" r="0.7124999999999999" fill="#9c9c9c" stroke="none" stroke-width="0.4"/>
<circle cx="244.59" cy="284.36" r="0.7124999999999999" fill="#9c9c9c" stroke="none" stroke-width="0.4"/>
<circle cx="245.85" cy="292.74" r="0.6000000000000001" fill="#fff" stroke="none" stroke-width="0.4" opacity="0.85"/>
<circle cx="245.56" cy="283.24" r="0.7124999999999999" fill="#9c9c9c" stroke="none" stroke-width="0.4"/>
<circle cx="253.22" cy="282.13" r="0.75" fill="none" stroke="#9a9a9a" stroke-width="0.4"/>
<circle cx="251.97" cy="294.24" r="0.75" fill="none" stroke="#B455D6" stroke-width="0.4"/>
<circle cx="251.81" cy="277.90" r="0.75" fill="none" stroke="#9a9a9a" stroke-width="0.4"/>
<circle cx="252.00" cy="279.19" r="0.75" fill="none" stroke="#9a9a9a" stroke-width="0.4"/>
<circle cx="252.16" cy="302.47" r="0.75" fill="none" stroke="#B455D6" stroke-width="0.4"/>
<circle cx="252.93" cy="300.86" r="0.75" fill="none" stroke="#B455D6" stroke-width="0.4"/>
<circle cx="252.32" cy="275.09" r="0.75" fill="none" stroke="#9a9a9a" stroke-width="0.4"/>
<line x1="188.25" y1="264.30" x2="194.75" y2="264.30" stroke="#777" stroke-width="0.4"/>
<text x="191.70" y="265.85" font-size="7.2" text-anchor="middle" font-weight="bold" letter-spacing="0.45">**</text>
<line x1="191.50" y1="335.75" x2="191.50" y2="337.15" stroke="#000" stroke-width="0.4"/>
<line x1="207.50" y1="264.30" x2="214.00" y2="264.30" stroke="#777" stroke-width="0.4"/>
<text x="210.95" y="265.85" font-size="7.2" text-anchor="middle" font-weight="bold" letter-spacing="0.45">*</text>
<line x1="210.75" y1="335.75" x2="210.75" y2="337.15" stroke="#000" stroke-width="0.4"/>
<line x1="226.50" y1="264.30" x2="233.00" y2="264.30" stroke="#777" stroke-width="0.4"/>
<text x="229.95" y="265.85" font-size="7.2" text-anchor="middle" font-weight="bold" letter-spacing="0.45">*</text>
<line x1="229.75" y1="335.75" x2="229.75" y2="337.15" stroke="#000" stroke-width="0.4"/>
<line x1="245.75" y1="264.30" x2="252.25" y2="264.30" stroke="#777" stroke-width="0.4"/>
<text x="249.00" y="263.30" font-size="4.6" text-anchor="middle" fill="#222" stroke="#222" stroke-width="0.12">ns</text>
<line x1="249.00" y1="335.75" x2="249.00" y2="337.15" stroke="#000" stroke-width="0.4"/>
<ellipse cx="280.00" cy="251.40" rx="13" ry="7.2" fill="#A9D999"/>
<text x="280.00" y="254.10" font-size="7.5" text-anchor="middle" fill="#24361A" stroke="#24361A" stroke-width="0.15">L/M</text>
<rect x="263.50" y="279.20" width="5.60" height="3.20" fill="#A3141C" stroke="none" stroke-width="0.5"/>
<text x="272.20" y="282.50" font-size="4.85" stroke="#000" stroke-width="0.12">p3-6 Sham</text>
<rect x="263.75" y="285.75" width="5.10" height="2.70" fill="#F6A9A9" stroke="#E0595B" stroke-width="0.5"/>
<text x="272.20" y="288.80" font-size="4.85" stroke="#000" stroke-width="0.12">p3-6 4 Gy</text>
<rect x="263.50" y="294.40" width="5.60" height="3.20" fill="#1B7A2B" stroke="none" stroke-width="0.5"/>
<text x="272.20" y="297.70" font-size="4.85" stroke="#000" stroke-width="0.12">p10 Sham</text>
<rect x="263.75" y="300.95" width="5.10" height="2.70" fill="#B9F2B9" stroke="#45B649" stroke-width="0.5"/>
<text x="272.20" y="304.00" font-size="4.85" stroke="#000" stroke-width="0.12">p10 4 Gy</text>
<rect x="263.50" y="308.90" width="5.60" height="3.20" fill="#1F7F9C" stroke="none" stroke-width="0.5"/>
<text x="272.20" y="312.20" font-size="4.85" stroke="#000" stroke-width="0.12">p20 Sham</text>
<rect x="263.75" y="315.55" width="5.10" height="2.70" fill="#A3CCF0" stroke="#5B9BD5" stroke-width="0.5"/>
<text x="272.20" y="318.60" font-size="4.85" stroke="#000" stroke-width="0.12">p20 4 Gy</text>
<rect x="263.50" y="323.80" width="5.60" height="3.20" fill="#7A1FA0" stroke="none" stroke-width="0.5"/>
<text x="272.20" y="327.10" font-size="4.85" stroke="#000" stroke-width="0.12">p45 Sham</text>
<rect x="263.75" y="330.45" width="5.10" height="2.70" fill="#DFA6F2" stroke="#B455D6" stroke-width="0.5"/>
<text x="272.20" y="333.50" font-size="4.85" stroke="#000" stroke-width="0.12">p45 4 Gy</text>
<text x="327.50" y="249.70" font-size="10.5" font-weight="bold">I</text>
<text x="385.80" y="251.80" font-size="5.5" text-anchor="middle" stroke="#000" stroke-width="0.12">Novel object recognition</text>
<line x1="348.00" y1="259.30" x2="348.00" y2="335.95" stroke="#333" stroke-width="0.42"/>
<line x1="346.40" y1="335.75" x2="348.00" y2="335.75" stroke="#222" stroke-width="0.45"/>
<text x="345.70" y="337.46" font-size="4.9" text-anchor="end" stroke="#000" stroke-width="0.12">0</text>
<line x1="346.40" y1="320.50" x2="348.00" y2="320.50" stroke="#222" stroke-width="0.45"/>
<text x="345.70" y="322.21" font-size="4.9" text-anchor="end" stroke="#000" stroke-width="0.12">20</text>
<line x1="346.40" y1="305.25" x2="348.00" y2="305.25" stroke="#222" stroke-width="0.45"/>
<text x="345.70" y="306.96" font-size="4.9" text-anchor="end" stroke="#000" stroke-width="0.12">40</text>
<line x1="346.40" y1="290.00" x2="348.00" y2="290.00" stroke="#222" stroke-width="0.45"/>
<text x="345.70" y="291.71" font-size="4.9" text-anchor="end" stroke="#000" stroke-width="0.12">60</text>
<line x1="346.40" y1="274.75" x2="348.00" y2="274.75" stroke="#222" stroke-width="0.45"/>
<text x="345.70" y="276.46" font-size="4.9" text-anchor="end" stroke="#000" stroke-width="0.12">80</text>
<line x1="346.40" y1="259.50" x2="348.00" y2="259.50" stroke="#222" stroke-width="0.45"/>
<text x="345.70" y="261.21" font-size="4.9" text-anchor="end" stroke="#000" stroke-width="0.12">100</text>
<text x="334.00" y="297.62" font-size="5.65" text-anchor="middle" stroke="#000" stroke-width="0.12" transform="rotate(-90 334.00 297.62)">Discriminative index (s)</text>
<line x1="347.80" y1="335.75" x2="424.50" y2="335.75" stroke="#333" stroke-width="0.45"/>
<rect x="351.25" y="301.44" width="6.60" height="34.31" fill="#A3141C" stroke="none" stroke-width="0.5"/>
<rect x="358.10" y="327.61" width="6.10" height="8.14" fill="#F6A9A9" stroke="#E0595B" stroke-width="0.5"/>
<line x1="354.55" y1="281.61" x2="354.55" y2="301.44" stroke="#A3141C" stroke-width="0.5"/>
<line x1="353.25" y1="281.61" x2="355.85" y2="281.61" stroke="#A3141C" stroke-width="0.5"/>
<line x1="361.15" y1="322.02" x2="361.15" y2="327.36" stroke="#E0595B" stroke-width="0.5"/>
<line x1="359.85" y1="322.02" x2="362.45" y2="322.02" stroke="#E0595B" stroke-width="0.5"/>
<circle cx="355.57" cy="307.52" r="0.6000000000000001" fill="#fff" stroke="none" stroke-width="0.4" opacity="0.85"/>
<circle cx="353.86" cy="280.70" r="0.7124999999999999" fill="#9c9c9c" stroke="none" stroke-width="0.4"/>
<circle cx="354.88" cy="279.08" r="0.7124999999999999" fill="#9c9c9c" stroke="none" stroke-width="0.4"/>
<circle cx="355.64" cy="326.76" r="0.6000000000000001" fill="#fff" stroke="none" stroke-width="0.4" opacity="0.85"/>
<circle cx="354.08" cy="314.49" r="0.6000000000000001" fill="#fff" stroke="none" stroke-width="0.4" opacity="0.85"/>
<circle cx="354.76" cy="304.81" r="0.6000000000000001" fill="#fff" stroke="none" stroke-width="0.4" opacity="0.85"/>
<circle cx="355.00" cy="322.04" r="0.6000000000000001" fill="#fff" stroke="none" stroke-width="0.4" opacity="0.85"/>
<circle cx="361.18" cy="321.95" r="0.75" fill="none" stroke="#9a9a9a" stroke-width="0.4"/>
<circle cx="361.45" cy="322.54" r="0.75" fill="none" stroke="#9a9a9a" stroke-width="0.4"/>
<circle cx="360.38" cy="322.07" r="0.75" fill="none" stroke="#9a9a9a" stroke-width="0.4"/>
<circle cx="361.08" cy="329.28" r="0.75" fill="none" stroke="#E0595B" stroke-width="0.4"/>
<circle cx="362.29" cy="333.23" r="0.75" fill="none" stroke="#E0595B" stroke-width="0.4"/>
<circle cx="360.19" cy="324.99" r="0.75" fill="none" stroke="#9a9a9a" stroke-width="0.4"/>
<circle cx="360.94" cy="325.81" r="0.75" fill="none" stroke="#9a9a9a" stroke-width="0.4"/>
<rect x="370.75" y="302.20" width="6.60" height="33.55" fill="#1B7A2B" stroke="none" stroke-width="0.5"/>
<rect x="377.60" y="323.19" width="6.10" height="12.56" fill="#B9F2B9" stroke="#45B649" stroke-width="0.5"/>
<line x1="374.05" y1="285.43" x2="374.05" y2="302.20" stroke="#1B7A2B" stroke-width="0.5"/>
<line x1="372.75" y1="285.43" x2="375.35" y2="285.43" stroke="#1B7A2B" stroke-width="0.5"/>
<line x1="380.65" y1="317.60" x2="380.65" y2="322.94" stroke="#45B649" stroke-width="0.5"/>
<line x1="379.35" y1="317.60" x2="381.95" y2="317.60" stroke="#45B649" stroke-width="0.5"/>
<circle cx="373.24" cy="316.47" r="0.6000000000000001" fill="#fff" stroke="none" stroke-width="0.4" opacity="0.85"/>
<circle cx="373.02" cy="303.27" r="0.6000000000000001" fill="#fff" stroke="none" stroke-width="0.4" opacity="0.85"/>
<circle cx="374.09" cy="298.29" r="0.7124999999999999" fill="#9c9c9c" stroke="none" stroke-width="0.4"/>
<circle cx="374.95" cy="319.50" r="0.6000000000000001" fill="#fff" stroke="none" stroke-width="0.4" opacity="0.85"/>
<circle cx="373.26" cy="323.71" r="0.6000000000000001" fill="#fff" stroke="none" stroke-width="0.4" opacity="0.85"/>
<circle cx="373.38" cy="285.93" r="0.7124999999999999" fill="#9c9c9c" stroke="none" stroke-width="0.4"/>
<circle cx="374.19" cy="305.05" r="0.6000000000000001" fill="#fff" stroke="none" stroke-width="0.4" opacity="0.85"/>
<circle cx="380.64" cy="323.67" r="0.75" fill="none" stroke="#45B649" stroke-width="0.4"/>
<circle cx="380.61" cy="322.60" r="0.75" fill="none" stroke="#9a9a9a" stroke-width="0.4"/>
<circle cx="381.41" cy="329.52" r="0.75" fill="none" stroke="#45B649" stroke-width="0.4"/>
<circle cx="379.56" cy="326.03" r="0.75" fill="none" stroke="#45B649" stroke-width="0.4"/>
<circle cx="381.40" cy="324.09" r="0.75" fill="none" stroke="#45B649" stroke-width="0.4"/>
<circle cx="380.55" cy="320.68" r="0.75" fill="none" stroke="#9a9a9a" stroke-width="0.4"/>
<circle cx="379.98" cy="323.01" r="0.75" fill="none" stroke="#45B649" stroke-width="0.4"/>
<rect x="390.00" y="295.11" width="6.60" height="40.64" fill="#1F7F9C" stroke="none" stroke-width="0.5"/>
<rect x="396.85" y="318.16" width="6.10" height="17.59" fill="#A3CCF0" stroke="#5B9BD5" stroke-width="0.5"/>
<line x1="393.30" y1="278.33" x2="393.30" y2="295.11" stroke="#1F7F9C" stroke-width="0.5"/>
<line x1="392.00" y1="278.33" x2="394.60" y2="278.33" stroke="#1F7F9C" stroke-width="0.5"/>
<line x1="399.90" y1="309.52" x2="399.90" y2="317.91" stroke="#5B9BD5" stroke-width="0.5"/>
<line x1="398.60" y1="309.52" x2="401.20" y2="309.52" stroke="#5B9BD5" stroke-width="0.5"/>
<circle cx="392.94" cy="288.53" r="0.7124999999999999" fill="#9c9c9c" stroke="none" stroke-width="0.4"/>
<circle cx="392.41" cy="315.47" r="0.6000000000000001" fill="#fff" stroke="none" stroke-width="0.4" opacity="0.85"/>
<circle cx="393.74" cy="314.09" r="0.6000000000000001" fill="#fff" stroke="none" stroke-width="0.4" opacity="0.85"/>
<circle cx="393.91" cy="275.68" r="0.7124999999999999" fill="#9c9c9c" stroke="none" stroke-width="0.4"/>
<circle cx="392.45" cy="307.92" r="0.6000000000000001" fill="#fff" stroke="none" stroke-width="0.4" opacity="0.85"/>
<circle cx="393.00" cy="272.35" r="0.7124999999999999" fill="#9c9c9c" stroke="none" stroke-width="0.4"/>
<circle cx="393.47" cy="310.46" r="0.6000000000000001" fill="#fff" stroke="none" stroke-width="0.4" opacity="0.85"/>
<circle cx="400.00" cy="314.60" r="0.75" fill="none" stroke="#9a9a9a" stroke-width="0.4"/>
<circle cx="399.43" cy="318.66" r="0.75" fill="none" stroke="#5B9BD5" stroke-width="0.4"/>
<circle cx="399.80" cy="317.62" r="0.75" fill="none" stroke="#9a9a9a" stroke-width="0.4"/>
<circle cx="399.78" cy="313.08" r="0.75" fill="none" stroke="#9a9a9a" stroke-width="0.4"/>
<circle cx="401.07" cy="321.02" r="0.75" fill="none" stroke="#5B9BD5" stroke-width="0.4"/>
<circle cx="400.51" cy="326.96" r="0.75" fill="none" stroke="#5B9BD5" stroke-width="0.4"/>
<circle cx="400.63" cy="319.50" r="0.75" fill="none" stroke="#5B9BD5" stroke-width="0.4"/>
<rect x="409.50" y="290.08" width="6.60" height="45.67" fill="#7A1FA0" stroke="none" stroke-width="0.5"/>
<rect x="416.35" y="299.10" width="6.10" height="36.65" fill="#DFA6F2" stroke="#B455D6" stroke-width="0.5"/>
<line x1="412.80" y1="280.93" x2="412.80" y2="290.08" stroke="#7A1FA0" stroke-width="0.5"/>
<line x1="411.50" y1="280.93" x2="414.10" y2="280.93" stroke="#7A1FA0" stroke-width="0.5"/>
<line x1="419.40" y1="288.93" x2="419.40" y2="298.85" stroke="#B455D6" stroke-width="0.5"/>
<line x1="418.10" y1="288.93" x2="420.70" y2="288.93" stroke="#B455D6" stroke-width="0.5"/>
<circle cx="412.96" cy="284.09" r="0.7124999999999999" fill="#9c9c9c" stroke="none" stroke-width="0.4"/>
<circle cx="412.15" cy="286.70" r="0.7124999999999999" fill="#9c9c9c" stroke="none" stroke-width="0.4"/>
<circle cx="413.39" cy="302.46" r="0.6000000000000001" fill="#fff" stroke="none" stroke-width="0.4" opacity="0.85"/>
<circle cx="411.87" cy="296.02" r="0.6000000000000001" fill="#fff" stroke="none" stroke-width="0.4" opacity="0.85"/>
<circle cx="413.02" cy="281.36" r="0.7124999999999999" fill="#9c9c9c" stroke="none" stroke-width="0.4"/>
<circle cx="412.85" cy="302.03" r="0.6000000000000001" fill="#fff" stroke="none" stroke-width="0.4" opacity="0.85"/>
<circle cx="413.68" cy="298.55" r="0.6000000000000001" fill="#fff" stroke="none" stroke-width="0.4" opacity="0.85"/>
<circle cx="420.46" cy="304.93" r="0.75" fill="none" stroke="#B455D6" stroke-width="0.4"/>
<circle cx="418.39" cy="295.11" r="0.75" fill="none" stroke="#9a9a9a" stroke-width="0.4"/>
<circle cx="420.52" cy="300.97" r="0.75" fill="none" stroke="#B455D6" stroke-width="0.4"/>
<circle cx="418.57" cy="292.57" r="0.75" fill="none" stroke="#9a9a9a" stroke-width="0.4"/>
<circle cx="418.86" cy="302.15" r="0.75" fill="none" stroke="#B455D6" stroke-width="0.4"/>
<circle cx="419.62" cy="310.04" r="0.75" fill="none" stroke="#B455D6" stroke-width="0.4"/>
<circle cx="418.72" cy="292.74" r="0.75" fill="none" stroke="#9a9a9a" stroke-width="0.4"/>
<line x1="354.60" y1="267.40" x2="361.10" y2="267.40" stroke="#777" stroke-width="0.4"/>
<text x="358.05" y="268.95" font-size="7.2" text-anchor="middle" font-weight="bold" letter-spacing="0.45">***</text>
<line x1="357.85" y1="335.75" x2="357.85" y2="337.15" stroke="#000" stroke-width="0.4"/>
<line x1="374.10" y1="267.40" x2="380.60" y2="267.40" stroke="#777" stroke-width="0.4"/>
<text x="377.55" y="268.95" font-size="7.2" text-anchor="middle" font-weight="bold" letter-spacing="0.45">*</text>
<line x1="377.35" y1="335.75" x2="377.35" y2="337.15" stroke="#000" stroke-width="0.4"/>
<line x1="393.35" y1="267.40" x2="399.85" y2="267.40" stroke="#777" stroke-width="0.4"/>
<text x="396.80" y="268.95" font-size="7.2" text-anchor="middle" font-weight="bold" letter-spacing="0.45">*</text>
<line x1="396.60" y1="335.75" x2="396.60" y2="337.15" stroke="#000" stroke-width="0.4"/>
<line x1="412.85" y1="267.40" x2="419.35" y2="267.40" stroke="#777" stroke-width="0.4"/>
<text x="416.10" y="266.40" font-size="4.6" text-anchor="middle" fill="#222" stroke="#222" stroke-width="0.12">ns</text>
<line x1="416.10" y1="335.75" x2="416.10" y2="337.15" stroke="#000" stroke-width="0.4"/>
<ellipse cx="444.30" cy="250.90" rx="12.8" ry="7.2" fill="#A9D999"/>
<text x="444.30" y="253.60" font-size="7.5" text-anchor="middle" fill="#24361A" stroke="#24361A" stroke-width="0.15">L/M</text>
<rect x="430.20" y="279.70" width="5.60" height="3.20" fill="#A3141C" stroke="none" stroke-width="0.5"/>
<text x="438.80" y="283.00" font-size="4.85" stroke="#000" stroke-width="0.12">p3-6 Sham</text>
<rect x="430.45" y="286.35" width="5.10" height="2.70" fill="#F6A9A9" stroke="#E0595B" stroke-width="0.5"/>
<text x="438.80" y="289.40" font-size="4.85" stroke="#000" stroke-width="0.12">p3-6 4 Gy</text>
<rect x="430.20" y="295.00" width="5.60" height="3.20" fill="#1B7A2B" stroke="none" stroke-width="0.5"/>
<text x="438.80" y="298.30" font-size="4.85" stroke="#000" stroke-width="0.12">p10 Sham</text>
<rect x="430.45" y="301.65" width="5.10" height="2.70" fill="#B9F2B9" stroke="#45B649" stroke-width="0.5"/>
<text x="438.80" y="304.70" font-size="4.85" stroke="#000" stroke-width="0.12">p10 4 Gy</text>
<rect x="430.20" y="310.00" width="5.60" height="3.20" fill="#1F7F9C" stroke="none" stroke-width="0.5"/>
<text x="438.80" y="313.30" font-size="4.85" stroke="#000" stroke-width="0.12">p20 Sham</text>
<rect x="430.45" y="316.55" width="5.10" height="2.70" fill="#A3CCF0" stroke="#5B9BD5" stroke-width="0.5"/>
<text x="438.80" y="319.60" font-size="4.85" stroke="#000" stroke-width="0.12">p20 4 Gy</text>
<rect x="430.20" y="324.70" width="5.60" height="3.20" fill="#7A1FA0" stroke="none" stroke-width="0.5"/>
<text x="438.80" y="328.00" font-size="4.85" stroke="#000" stroke-width="0.12">p45 Sham</text>
<rect x="430.45" y="331.55" width="5.10" height="2.70" fill="#DFA6F2" stroke="#B455D6" stroke-width="0.5"/>
<text x="438.80" y="334.60" font-size="4.85" stroke="#000" stroke-width="0.12">p45 4 Gy</text>
<text x="0.80" y="359.70" font-size="10.5" font-weight="bold">J</text>
<text x="57.50" y="360.70" font-size="5.5" text-anchor="middle" stroke="#000" stroke-width="0.12">Tail suspension</text>
<line x1="19.30" y1="367.80" x2="19.30" y2="445.70" stroke="#333" stroke-width="0.42"/>
<line x1="17.70" y1="445.50" x2="19.30" y2="445.50" stroke="#222" stroke-width="0.45"/>
<text x="17.00" y="447.21" font-size="4.9" text-anchor="end" stroke="#000" stroke-width="0.12">0</text>
<line x1="17.70" y1="426.12" x2="19.30" y2="426.12" stroke="#222" stroke-width="0.45"/>
<text x="17.00" y="427.84" font-size="4.9" text-anchor="end" stroke="#000" stroke-width="0.12">50</text>
<line x1="17.70" y1="406.75" x2="19.30" y2="406.75" stroke="#222" stroke-width="0.45"/>
<text x="17.00" y="408.46" font-size="4.9" text-anchor="end" stroke="#000" stroke-width="0.12">100</text>
<line x1="17.70" y1="387.38" x2="19.30" y2="387.38" stroke="#222" stroke-width="0.45"/>
<text x="17.00" y="389.09" font-size="4.9" text-anchor="end" stroke="#000" stroke-width="0.12">150</text>
<line x1="17.70" y1="368.00" x2="19.30" y2="368.00" stroke="#222" stroke-width="0.45"/>
<text x="17.00" y="369.71" font-size="4.9" text-anchor="end" stroke="#000" stroke-width="0.12">200</text>
<text x="5.50" y="406.75" font-size="5.65" text-anchor="middle" stroke="#000" stroke-width="0.12" transform="rotate(-90 5.50 406.75)">Freeze time (s)</text>
<line x1="19.10" y1="445.50" x2="95.50" y2="445.50" stroke="#333" stroke-width="0.45"/>
<rect x="22.50" y="433.64" width="6.60" height="11.86" fill="#A3141C" stroke="none" stroke-width="0.5"/>
<rect x="29.35" y="398.86" width="6.10" height="46.64" fill="#F6A9A9" stroke="#E0595B" stroke-width="0.5"/>
<line x1="25.80" y1="429.77" x2="25.80" y2="433.64" stroke="#A3141C" stroke-width="0.5"/>
<line x1="24.50" y1="429.77" x2="27.10" y2="429.77" stroke="#A3141C" stroke-width="0.5"/>
<line x1="32.40" y1="388.93" x2="32.40" y2="398.61" stroke="#E0595B" stroke-width="0.5"/>
<line x1="31.10" y1="388.93" x2="33.70" y2="388.93" stroke="#E0595B" stroke-width="0.5"/>
<circle cx="25.09" cy="430.67" r="0.7124999999999999" fill="#9c9c9c" stroke="none" stroke-width="0.4"/>
<circle cx="26.04" cy="436.76" r="0.6000000000000001" fill="#fff" stroke="none" stroke-width="0.4" opacity="0.85"/>
<circle cx="26.46" cy="438.43" r="0.6000000000000001" fill="#fff" stroke="none" stroke-width="0.4" opacity="0.85"/>
<circle cx="24.70" cy="430.48" r="0.7124999999999999" fill="#9c9c9c" stroke="none" stroke-width="0.4"/>
<circle cx="25.81" cy="431.39" r="0.7124999999999999" fill="#9c9c9c" stroke="none" stroke-width="0.4"/>
<circle cx="26.89" cy="431.93" r="0.7124999999999999" fill="#9c9c9c" stroke="none" stroke-width="0.4"/>
<circle cx="25.58" cy="427.98" r="0.7124999999999999" fill="#9c9c9c" stroke="none" stroke-width="0.4"/>
<circle cx="33.09" cy="388.46" r="0.75" fill="none" stroke="#9a9a9a" stroke-width="0.4"/>
<circle cx="31.27" cy="384.87" r="0.75" fill="none" stroke="#9a9a9a" stroke-width="0.4"/>
<circle cx="31.73" cy="385.83" r="0.75" fill="none" stroke="#9a9a9a" stroke-width="0.4"/>
<circle cx="32.63" cy="408.54" r="0.75" fill="none" stroke="#E0595B" stroke-width="0.4"/>
<circle cx="33.50" cy="388.61" r="0.75" fill="none" stroke="#9a9a9a" stroke-width="0.4"/>
<circle cx="33.19" cy="401.94" r="0.75" fill="none" stroke="#E0595B" stroke-width="0.4"/>
<circle cx="33.52" cy="411.31" r="0.75" fill="none" stroke="#E0595B" stroke-width="0.4"/>
<rect x="41.25" y="412.95" width="6.60" height="32.55" fill="#1B7A2B" stroke="none" stroke-width="0.5"/>
<rect x="48.10" y="395.76" width="6.10" height="49.74" fill="#B9F2B9" stroke="#45B649" stroke-width="0.5"/>
<line x1="44.55" y1="402.10" x2="44.55" y2="412.95" stroke="#1B7A2B" stroke-width="0.5"/>
<line x1="43.25" y1="402.10" x2="45.85" y2="402.10" stroke="#1B7A2B" stroke-width="0.5"/>
<line x1="51.15" y1="385.05" x2="51.15" y2="395.51" stroke="#45B649" stroke-width="0.5"/>
<line x1="49.85" y1="385.05" x2="52.45" y2="385.05" stroke="#45B649" stroke-width="0.5"/>
<circle cx="44.65" cy="418.91" r="0.6000000000000001" fill="#fff" stroke="none" stroke-width="0.4" opacity="0.85"/>
<circle cx="43.46" cy="424.23" r="0.6000000000000001" fill="#fff" stroke="none" stroke-width="0.4" opacity="0.85"/>
<circle cx="44.79" cy="427.90" r="0.6000000000000001" fill="#fff" stroke="none" stroke-width="0.4" opacity="0.85"/>
<circle cx="45.31" cy="410.48" r="0.7124999999999999" fill="#9c9c9c" stroke="none" stroke-width="0.4"/>
<circle cx="44.37" cy="401.36" r="0.7124999999999999" fill="#9c9c9c" stroke="none" stroke-width="0.4"/>
<circle cx="43.83" cy="401.48" r="0.7124999999999999" fill="#9c9c9c" stroke="none" stroke-width="0.4"/>
<circle cx="43.95" cy="400.42" r="0.7124999999999999" fill="#9c9c9c" stroke="none" stroke-width="0.4"/>
<circle cx="50.87" cy="381.65" r="0.75" fill="none" stroke="#9a9a9a" stroke-width="0.4"/>
<circle cx="51.19" cy="397.17" r="0.75" fill="none" stroke="#45B649" stroke-width="0.4"/>
<circle cx="50.13" cy="408.37" r="0.75" fill="none" stroke="#45B649" stroke-width="0.4"/>
<circle cx="51.66" cy="393.63" r="0.75" fill="none" stroke="#9a9a9a" stroke-width="0.4"/>
<circle cx="50.93" cy="408.80" r="0.75" fill="none" stroke="#45B649" stroke-width="0.4"/>
<circle cx="51.82" cy="398.93" r="0.75" fill="none" stroke="#45B649" stroke-width="0.4"/>
<circle cx="50.17" cy="380.11" r="0.75" fill="none" stroke="#9a9a9a" stroke-width="0.4"/>
<rect x="60.75" y="412.95" width="6.60" height="32.55" fill="#1F7F9C" stroke="none" stroke-width="0.5"/>
<rect x="67.60" y="393.05" width="6.10" height="52.45" fill="#A3CCF0" stroke="#5B9BD5" stroke-width="0.5"/>
<line x1="64.05" y1="400.16" x2="64.05" y2="412.95" stroke="#1F7F9C" stroke-width="0.5"/>
<line x1="62.75" y1="400.16" x2="65.35" y2="400.16" stroke="#1F7F9C" stroke-width="0.5"/>
<line x1="70.65" y1="380.40" x2="70.65" y2="392.80" stroke="#5B9BD5" stroke-width="0.5"/>
<line x1="69.35" y1="380.40" x2="71.95" y2="380.40" stroke="#5B9BD5" stroke-width="0.5"/>
<circle cx="63.10" cy="410.69" r="0.7124999999999999" fill="#9c9c9c" stroke="none" stroke-width="0.4"/>
<circle cx="65.11" cy="401.79" r="0.7124999999999999" fill="#9c9c9c" stroke="none" stroke-width="0.4"/>
<circle cx="64.25" cy="404.65" r="0.7124999999999999" fill="#9c9c9c" stroke="none" stroke-width="0.4"/>
<circle cx="63.08" cy="429.35" r="0.6000000000000001" fill="#fff" stroke="none" stroke-width="0.4" opacity="0.85"/>
<circle cx="63.05" cy="421.96" r="0.6000000000000001" fill="#fff" stroke="none" stroke-width="0.4" opacity="0.85"/>
<circle cx="65.15" cy="425.89" r="0.6000000000000001" fill="#fff" stroke="none" stroke-width="0.4" opacity="0.85"/>
<circle cx="65.03" cy="417.95" r="0.6000000000000001" fill="#fff" stroke="none" stroke-width="0.4" opacity="0.85"/>
<circle cx="71.31" cy="382.80" r="0.75" fill="none" stroke="#9a9a9a" stroke-width="0.4"/>
<circle cx="71.12" cy="377.33" r="0.75" fill="none" stroke="#9a9a9a" stroke-width="0.4"/>
<circle cx="70.58" cy="397.66" r="0.75" fill="none" stroke="#5B9BD5" stroke-width="0.4"/>
<circle cx="69.53" cy="396.13" r="0.75" fill="none" stroke="#5B9BD5" stroke-width="0.4"/>
<circle cx="70.81" cy="408.57" r="0.75" fill="none" stroke="#5B9BD5" stroke-width="0.4"/>
<circle cx="71.78" cy="391.36" r="0.75" fill="none" stroke="#9a9a9a" stroke-width="0.4"/>
<circle cx="71.41" cy="387.84" r="0.75" fill="none" stroke="#9a9a9a" stroke-width="0.4"/>
<rect x="80.00" y="423.02" width="6.60" height="22.48" fill="#7A1FA0" stroke="none" stroke-width="0.5"/>
<rect x="86.85" y="416.49" width="6.10" height="29.01" fill="#DFA6F2" stroke="#B455D6" stroke-width="0.5"/>
<line x1="83.30" y1="419.15" x2="83.30" y2="423.02" stroke="#7A1FA0" stroke-width="0.5"/>
<line x1="82.00" y1="419.15" x2="84.60" y2="419.15" stroke="#7A1FA0" stroke-width="0.5"/>
<line x1="89.90" y1="403.46" x2="89.90" y2="416.24" stroke="#B455D6" stroke-width="0.5"/>
<line x1="88.60" y1="403.46" x2="91.20" y2="403.46" stroke="#B455D6" stroke-width="0.5"/>
<circle cx="83.50" cy="423.10" r="0.6000000000000001" fill="#fff" stroke="none" stroke-width="0.4" opacity="0.85"/>
<circle cx="82.18" cy="419.29" r="0.7124999999999999" fill="#9c9c9c" stroke="none" stroke-width="0.4"/>
<circle cx="83.13" cy="428.23" r="0.6000000000000001" fill="#fff" stroke="none" stroke-width="0.4" opacity="0.85"/>
<circle cx="83.13" cy="425.17" r="0.6000000000000001" fill="#fff" stroke="none" stroke-width="0.4" opacity="0.85"/>
<circle cx="82.51" cy="427.73" r="0.6000000000000001" fill="#fff" stroke="none" stroke-width="0.4" opacity="0.85"/>
<circle cx="83.56" cy="427.34" r="0.6000000000000001" fill="#fff" stroke="none" stroke-width="0.4" opacity="0.85"/>
<circle cx="82.15" cy="428.08" r="0.6000000000000001" fill="#fff" stroke="none" stroke-width="0.4" opacity="0.85"/>
<circle cx="89.72" cy="408.90" r="0.75" fill="none" stroke="#9a9a9a" stroke-width="0.4"/>
<circle cx="90.96" cy="433.30" r="0.75" fill="none" stroke="#B455D6" stroke-width="0.4"/>
<circle cx="90.95" cy="415.95" r="0.75" fill="none" stroke="#9a9a9a" stroke-width="0.4"/>
<circle cx="90.01" cy="410.10" r="0.75" fill="none" stroke="#9a9a9a" stroke-width="0.4"/>
<circle cx="88.94" cy="419.49" r="0.75" fill="none" stroke="#B455D6" stroke-width="0.4"/>
<circle cx="89.76" cy="398.33" r="0.75" fill="none" stroke="#9a9a9a" stroke-width="0.4"/>
<circle cx="89.05" cy="422.79" r="0.75" fill="none" stroke="#B455D6" stroke-width="0.4"/>
<line x1="25.85" y1="370.30" x2="32.35" y2="370.30" stroke="#777" stroke-width="0.4"/>
<text x="29.30" y="371.85" font-size="7.2" text-anchor="middle" font-weight="bold" letter-spacing="0.45">****</text>
<line x1="29.10" y1="445.50" x2="29.10" y2="446.90" stroke="#000" stroke-width="0.4"/>
<line x1="44.60" y1="370.30" x2="51.10" y2="370.30" stroke="#777" stroke-width="0.4"/>
<text x="48.05" y="371.85" font-size="7.2" text-anchor="middle" font-weight="bold" letter-spacing="0.45">*</text>
<line x1="47.85" y1="445.50" x2="47.85" y2="446.90" stroke="#000" stroke-width="0.4"/>
<line x1="64.10" y1="370.30" x2="70.60" y2="370.30" stroke="#777" stroke-width="0.4"/>
<text x="67.55" y="371.85" font-size="7.2" text-anchor="middle" font-weight="bold" letter-spacing="0.45">*</text>
<line x1="67.35" y1="445.50" x2="67.35" y2="446.90" stroke="#000" stroke-width="0.4"/>
<line x1="83.35" y1="370.30" x2="89.85" y2="370.30" stroke="#777" stroke-width="0.4"/>
<text x="86.60" y="369.30" font-size="4.6" text-anchor="middle" fill="#222" stroke="#222" stroke-width="0.12">ns</text>
<line x1="86.60" y1="445.50" x2="86.60" y2="446.90" stroke="#000" stroke-width="0.4"/>
<ellipse cx="115.00" cy="360.40" rx="13.2" ry="7.2" fill="#F5525A"/>
<text x="115.00" y="363.10" font-size="7.5" text-anchor="middle" fill="#7A1212" stroke="#7A1212" stroke-width="0.15">D/D</text>
<rect x="101.30" y="388.90" width="5.60" height="3.20" fill="#A3141C" stroke="none" stroke-width="0.5"/>
<text x="110.00" y="392.20" font-size="4.85" stroke="#000" stroke-width="0.12">p3-6 Sham</text>
<rect x="101.55" y="395.55" width="5.10" height="2.70" fill="#F6A9A9" stroke="#E0595B" stroke-width="0.5"/>
<text x="110.00" y="398.60" font-size="4.85" stroke="#000" stroke-width="0.12">p3-6 4 Gy</text>
<rect x="101.30" y="404.20" width="5.60" height="3.20" fill="#1B7A2B" stroke="none" stroke-width="0.5"/>
<text x="110.00" y="407.50" font-size="4.85" stroke="#000" stroke-width="0.12">p10 Sham</text>
<rect x="101.55" y="410.75" width="5.10" height="2.70" fill="#B9F2B9" stroke="#45B649" stroke-width="0.5"/>
<text x="110.00" y="413.80" font-size="4.85" stroke="#000" stroke-width="0.12">p10 4 Gy</text>
<rect x="101.30" y="419.20" width="5.60" height="3.20" fill="#1F7F9C" stroke="none" stroke-width="0.5"/>
<text x="110.00" y="422.50" font-size="4.85" stroke="#000" stroke-width="0.12">p20 Sham</text>
<rect x="101.55" y="425.95" width="5.10" height="2.70" fill="#A3CCF0" stroke="#5B9BD5" stroke-width="0.5"/>
<text x="110.00" y="429.00" font-size="4.85" stroke="#000" stroke-width="0.12">p20 4 Gy</text>
<rect x="101.30" y="434.20" width="5.60" height="3.20" fill="#7A1FA0" stroke="none" stroke-width="0.5"/>
<text x="110.00" y="437.50" font-size="4.85" stroke="#000" stroke-width="0.12">p45 Sham</text>
<rect x="101.55" y="440.75" width="5.10" height="2.70" fill="#DFA6F2" stroke="#B455D6" stroke-width="0.5"/>
<text x="110.00" y="443.80" font-size="4.85" stroke="#000" stroke-width="0.12">p45 4 Gy</text>
<text x="163.00" y="359.50" font-size="10.5" font-weight="bold">K</text>
<text x="218.00" y="360.70" font-size="5.5" text-anchor="middle" stroke="#000" stroke-width="0.12">Forced swim</text>
<line x1="180.00" y1="367.40" x2="180.00" y2="444.80" stroke="#333" stroke-width="0.42"/>
<line x1="178.40" y1="444.60" x2="180.00" y2="444.60" stroke="#222" stroke-width="0.45"/>
<text x="177.70" y="446.31" font-size="4.9" text-anchor="end" stroke="#000" stroke-width="0.12">0</text>
<line x1="178.40" y1="429.20" x2="180.00" y2="429.20" stroke="#222" stroke-width="0.45"/>
<text x="177.70" y="430.92" font-size="4.9" text-anchor="end" stroke="#000" stroke-width="0.12">50</text>
<line x1="178.40" y1="413.80" x2="180.00" y2="413.80" stroke="#222" stroke-width="0.45"/>
<text x="177.70" y="415.51" font-size="4.9" text-anchor="end" stroke="#000" stroke-width="0.12">100</text>
<line x1="178.40" y1="398.40" x2="180.00" y2="398.40" stroke="#222" stroke-width="0.45"/>
<text x="177.70" y="400.12" font-size="4.9" text-anchor="end" stroke="#000" stroke-width="0.12">150</text>
<line x1="178.40" y1="383.00" x2="180.00" y2="383.00" stroke="#222" stroke-width="0.45"/>
<text x="177.70" y="384.71" font-size="4.9" text-anchor="end" stroke="#000" stroke-width="0.12">200</text>
<line x1="178.40" y1="367.60" x2="180.00" y2="367.60" stroke="#222" stroke-width="0.45"/>
<text x="177.70" y="369.31" font-size="4.9" text-anchor="end" stroke="#000" stroke-width="0.12">250</text>
<text x="166.50" y="406.10" font-size="5.65" text-anchor="middle" stroke="#000" stroke-width="0.12" transform="rotate(-90 166.50 406.10)">Freeze time (s)</text>
<line x1="179.80" y1="444.60" x2="257.00" y2="444.60" stroke="#333" stroke-width="0.45"/>
<rect x="183.75" y="427.97" width="6.60" height="16.63" fill="#A3141C" stroke="none" stroke-width="0.5"/>
<rect x="190.60" y="398.65" width="6.10" height="45.95" fill="#F6A9A9" stroke="#E0595B" stroke-width="0.5"/>
<line x1="187.05" y1="420.27" x2="187.05" y2="427.97" stroke="#A3141C" stroke-width="0.5"/>
<line x1="185.75" y1="420.27" x2="188.35" y2="420.27" stroke="#A3141C" stroke-width="0.5"/>
<line x1="193.65" y1="390.70" x2="193.65" y2="398.40" stroke="#E0595B" stroke-width="0.5"/>
<line x1="192.35" y1="390.70" x2="194.95" y2="390.70" stroke="#E0595B" stroke-width="0.5"/>
<circle cx="187.53" cy="424.27" r="0.7124999999999999" fill="#9c9c9c" stroke="none" stroke-width="0.4"/>
<circle cx="186.32" cy="417.38" r="0.7124999999999999" fill="#9c9c9c" stroke="none" stroke-width="0.4"/>
<circle cx="187.83" cy="437.29" r="0.6000000000000001" fill="#fff" stroke="none" stroke-width="0.4" opacity="0.85"/>
<circle cx="186.74" cy="431.31" r="0.6000000000000001" fill="#fff" stroke="none" stroke-width="0.4" opacity="0.85"/>
<circle cx="186.29" cy="420.55" r="0.7124999999999999" fill="#9c9c9c" stroke="none" stroke-width="0.4"/>
<circle cx="187.03" cy="418.43" r="0.7124999999999999" fill="#9c9c9c" stroke="none" stroke-width="0.4"/>
<circle cx="188.05" cy="437.16" r="0.6000000000000001" fill="#fff" stroke="none" stroke-width="0.4" opacity="0.85"/>
<circle cx="192.64" cy="396.38" r="0.75" fill="none" stroke="#9a9a9a" stroke-width="0.4"/>
<circle cx="194.31" cy="390.45" r="0.75" fill="none" stroke="#9a9a9a" stroke-width="0.4"/>
<circle cx="194.03" cy="392.65" r="0.75" fill="none" stroke="#9a9a9a" stroke-width="0.4"/>
<circle cx="192.48" cy="387.01" r="0.75" fill="none" stroke="#9a9a9a" stroke-width="0.4"/>
<circle cx="193.99" cy="387.42" r="0.75" fill="none" stroke="#9a9a9a" stroke-width="0.4"/>
<circle cx="193.92" cy="403.53" r="0.75" fill="none" stroke="#E0595B" stroke-width="0.4"/>
<circle cx="194.01" cy="401.64" r="0.75" fill="none" stroke="#E0595B" stroke-width="0.4"/>
<rect x="203.00" y="418.73" width="6.60" height="25.87" fill="#1B7A2B" stroke="none" stroke-width="0.5"/>
<rect x="209.85" y="405.24" width="6.10" height="39.36" fill="#B9F2B9" stroke="#45B649" stroke-width="0.5"/>
<line x1="206.30" y1="408.56" x2="206.30" y2="418.73" stroke="#1B7A2B" stroke-width="0.5"/>
<line x1="205.00" y1="408.56" x2="207.60" y2="408.56" stroke="#1B7A2B" stroke-width="0.5"/>
<line x1="212.90" y1="393.29" x2="212.90" y2="404.99" stroke="#45B649" stroke-width="0.5"/>
<line x1="211.60" y1="393.29" x2="214.20" y2="393.29" stroke="#45B649" stroke-width="0.5"/>
<circle cx="206.36" cy="412.20" r="0.7124999999999999" fill="#9c9c9c" stroke="none" stroke-width="0.4"/>
<circle cx="206.04" cy="430.05" r="0.6000000000000001" fill="#fff" stroke="none" stroke-width="0.4" opacity="0.85"/>
<circle cx="206.90" cy="424.05" r="0.6000000000000001" fill="#fff" stroke="none" stroke-width="0.4" opacity="0.85"/>
<circle cx="206.96" cy="405.51" r="0.7124999999999999" fill="#9c9c9c" stroke="none" stroke-width="0.4"/>
<circle cx="205.51" cy="417.32" r="0.7124999999999999" fill="#9c9c9c" stroke="none" stroke-width="0.4"/>
<circle cx="205.74" cy="412.10" r="0.7124999999999999" fill="#9c9c9c" stroke="none" stroke-width="0.4"/>
<circle cx="205.51" cy="403.56" r="0.7124999999999999" fill="#9c9c9c" stroke="none" stroke-width="0.4"/>
<circle cx="211.74" cy="388.51" r="0.75" fill="none" stroke="#9a9a9a" stroke-width="0.4"/>
<circle cx="212.53" cy="394.91" r="0.75" fill="none" stroke="#9a9a9a" stroke-width="0.4"/>
<circle cx="212.70" cy="401.89" r="0.75" fill="none" stroke="#9a9a9a" stroke-width="0.4"/>
<circle cx="212.75" cy="410.93" r="0.75" fill="none" stroke="#45B649" stroke-width="0.4"/>
<circle cx="212.55" cy="393.69" r="0.75" fill="none" stroke="#9a9a9a" stroke-width="0.4"/>
<circle cx="213.58" cy="409.13" r="0.75" fill="none" stroke="#45B649" stroke-width="0.4"/>
<circle cx="212.56" cy="415.35" r="0.75" fill="none" stroke="#45B649" stroke-width="0.4"/>
<rect x="222.50" y="408.26" width="6.60" height="36.34" fill="#1F7F9C" stroke="none" stroke-width="0.5"/>
<rect x="229.35" y="400.81" width="6.10" height="43.79" fill="#A3CCF0" stroke="#5B9BD5" stroke-width="0.5"/>
<line x1="225.80" y1="398.09" x2="225.80" y2="408.26" stroke="#1F7F9C" stroke-width="0.5"/>
<line x1="224.50" y1="398.09" x2="227.10" y2="398.09" stroke="#1F7F9C" stroke-width="0.5"/>
<line x1="232.40" y1="384.23" x2="232.40" y2="400.56" stroke="#5B9BD5" stroke-width="0.5"/>
<line x1="231.10" y1="384.23" x2="233.70" y2="384.23" stroke="#5B9BD5" stroke-width="0.5"/>
<circle cx="225.84" cy="407.26" r="0.7124999999999999" fill="#9c9c9c" stroke="none" stroke-width="0.4"/>
<circle cx="226.43" cy="417.48" r="0.6000000000000001" fill="#fff" stroke="none" stroke-width="0.4" opacity="0.85"/>
<circle cx="224.82" cy="408.07" r="0.7124999999999999" fill="#9c9c9c" stroke="none" stroke-width="0.4"/>
<circle cx="224.74" cy="412.51" r="0.6000000000000001" fill="#fff" stroke="none" stroke-width="0.4" opacity="0.85"/>
<circle cx="224.87" cy="412.35" r="0.6000000000000001" fill="#fff" stroke="none" stroke-width="0.4" opacity="0.85"/>
<circle cx="225.93" cy="414.99" r="0.6000000000000001" fill="#fff" stroke="none" stroke-width="0.4" opacity="0.85"/>
<circle cx="225.32" cy="402.16" r="0.7124999999999999" fill="#9c9c9c" stroke="none" stroke-width="0.4"/>
<circle cx="232.43" cy="401.47" r="0.75" fill="none" stroke="#5B9BD5" stroke-width="0.4"/>
<circle cx="233.38" cy="395.68" r="0.75" fill="none" stroke="#9a9a9a" stroke-width="0.4"/>
<circle cx="233.06" cy="413.16" r="0.75" fill="none" stroke="#5B9BD5" stroke-width="0.4"/>
<circle cx="233.35" cy="397.17" r="0.75" fill="none" stroke="#9a9a9a" stroke-width="0.4"/>
<circle cx="231.21" cy="390.98" r="0.75" fill="none" stroke="#9a9a9a" stroke-width="0.4"/>
<circle cx="233.11" cy="420.69" r="0.75" fill="none" stroke="#5B9BD5" stroke-width="0.4"/>
<circle cx="232.67" cy="409.39" r="0.75" fill="none" stroke="#5B9BD5" stroke-width="0.4"/>
<rect x="241.75" y="418.73" width="6.60" height="25.87" fill="#7A1FA0" stroke="none" stroke-width="0.5"/>
<rect x="248.60" y="413.43" width="6.10" height="31.17" fill="#DFA6F2" stroke="#B455D6" stroke-width="0.5"/>
<line x1="245.05" y1="408.56" x2="245.05" y2="418.73" stroke="#7A1FA0" stroke-width="0.5"/>
<line x1="243.75" y1="408.56" x2="246.35" y2="408.56" stroke="#7A1FA0" stroke-width="0.5"/>
<line x1="251.65" y1="405.48" x2="251.65" y2="413.18" stroke="#B455D6" stroke-width="0.5"/>
<line x1="250.35" y1="405.48" x2="252.95" y2="405.48" stroke="#B455D6" stroke-width="0.5"/>
<circle cx="245.20" cy="430.10" r="0.6000000000000001" fill="#fff" stroke="none" stroke-width="0.4" opacity="0.85"/>
<circle cx="244.96" cy="420.85" r="0.6000000000000001" fill="#fff" stroke="none" stroke-width="0.4" opacity="0.85"/>
<circle cx="246.00" cy="432.86" r="0.6000000000000001" fill="#fff" stroke="none" stroke-width="0.4" opacity="0.85"/>
<circle cx="245.63" cy="408.08" r="0.7124999999999999" fill="#9c9c9c" stroke="none" stroke-width="0.4"/>
<circle cx="244.39" cy="414.65" r="0.7124999999999999" fill="#9c9c9c" stroke="none" stroke-width="0.4"/>
<circle cx="245.86" cy="427.30" r="0.6000000000000001" fill="#fff" stroke="none" stroke-width="0.4" opacity="0.85"/>
<circle cx="244.77" cy="423.25" r="0.6000000000000001" fill="#fff" stroke="none" stroke-width="0.4" opacity="0.85"/>
<circle cx="251.28" cy="404.31" r="0.75" fill="none" stroke="#9a9a9a" stroke-width="0.4"/>
<circle cx="250.89" cy="401.79" r="0.75" fill="none" stroke="#9a9a9a" stroke-width="0.4"/>
<circle cx="251.16" cy="404.95" r="0.75" fill="none" stroke="#9a9a9a" stroke-width="0.4"/>
<circle cx="251.56" cy="420.90" r="0.75" fill="none" stroke="#B455D6" stroke-width="0.4"/>
<circle cx="250.70" cy="405.55" r="0.75" fill="none" stroke="#9a9a9a" stroke-width="0.4"/>
<circle cx="252.50" cy="410.68" r="0.75" fill="none" stroke="#9a9a9a" stroke-width="0.4"/>
<circle cx="251.63" cy="423.29" r="0.75" fill="none" stroke="#B455D6" stroke-width="0.4"/>
<line x1="187.10" y1="378.20" x2="193.60" y2="378.20" stroke="#777" stroke-width="0.4"/>
<text x="190.55" y="379.75" font-size="7.2" text-anchor="middle" font-weight="bold" letter-spacing="0.45">****</text>
<line x1="190.35" y1="444.60" x2="190.35" y2="446.00" stroke="#000" stroke-width="0.4"/>
<line x1="206.35" y1="378.20" x2="212.85" y2="378.20" stroke="#777" stroke-width="0.4"/>
<text x="209.60" y="377.20" font-size="4.6" text-anchor="middle" fill="#222" stroke="#222" stroke-width="0.12">ns</text>
<line x1="209.60" y1="444.60" x2="209.60" y2="446.00" stroke="#000" stroke-width="0.4"/>
<line x1="225.85" y1="378.20" x2="232.35" y2="378.20" stroke="#777" stroke-width="0.4"/>
<text x="229.10" y="377.20" font-size="4.6" text-anchor="middle" fill="#222" stroke="#222" stroke-width="0.12">ns</text>
<line x1="229.10" y1="444.60" x2="229.10" y2="446.00" stroke="#000" stroke-width="0.4"/>
<line x1="245.10" y1="378.20" x2="251.60" y2="378.20" stroke="#777" stroke-width="0.4"/>
<text x="248.35" y="377.20" font-size="4.6" text-anchor="middle" fill="#222" stroke="#222" stroke-width="0.12">ns</text>
<line x1="248.35" y1="444.60" x2="248.35" y2="446.00" stroke="#000" stroke-width="0.4"/>
<ellipse cx="278.00" cy="359.40" rx="13" ry="7.2" fill="#F5525A"/>
<text x="278.00" y="362.10" font-size="7.5" text-anchor="middle" fill="#7A1212" stroke="#7A1212" stroke-width="0.15">D/D</text>
<rect x="262.40" y="388.60" width="5.60" height="3.20" fill="#A3141C" stroke="none" stroke-width="0.5"/>
<text x="271.00" y="391.90" font-size="4.85" stroke="#000" stroke-width="0.12">p3-6 Sham</text>
<rect x="262.65" y="395.15" width="5.10" height="2.70" fill="#F6A9A9" stroke="#E0595B" stroke-width="0.5"/>
<text x="271.00" y="398.20" font-size="4.85" stroke="#000" stroke-width="0.12">p3-6 4 Gy</text>
<rect x="262.40" y="403.60" width="5.60" height="3.20" fill="#1B7A2B" stroke="none" stroke-width="0.5"/>
<text x="271.00" y="406.90" font-size="4.85" stroke="#000" stroke-width="0.12">p10 Sham</text>
<rect x="262.65" y="410.15" width="5.10" height="2.70" fill="#B9F2B9" stroke="#45B649" stroke-width="0.5"/>
<text x="271.00" y="413.20" font-size="4.85" stroke="#000" stroke-width="0.12">p10 4 Gy</text>
<rect x="262.40" y="418.40" width="5.60" height="3.20" fill="#1F7F9C" stroke="none" stroke-width="0.5"/>
<text x="271.00" y="421.70" font-size="4.85" stroke="#000" stroke-width="0.12">p20 Sham</text>
<rect x="262.65" y="424.95" width="5.10" height="2.70" fill="#A3CCF0" stroke="#5B9BD5" stroke-width="0.5"/>
<text x="271.00" y="428.00" font-size="4.85" stroke="#000" stroke-width="0.12">p20 4 Gy</text>
<rect x="262.40" y="433.40" width="5.60" height="3.20" fill="#7A1FA0" stroke="none" stroke-width="0.5"/>
<text x="271.00" y="436.70" font-size="4.85" stroke="#000" stroke-width="0.12">p45 Sham</text>
<rect x="262.65" y="440.15" width="5.10" height="2.70" fill="#DFA6F2" stroke="#B455D6" stroke-width="0.5"/>
<text x="271.00" y="443.20" font-size="4.85" stroke="#000" stroke-width="0.12">p45 4 Gy</text>
<text x="328.30" y="359.60" font-size="10.5" font-weight="bold">L</text>
<text x="407.80" y="354.70" font-size="6.2" text-anchor="middle" style="font-family:DejaVu Sans,sans-serif">Irradiated (4 Gy) vs. Sham</text>
<text x="407.80" y="361.60" font-size="6.2" text-anchor="middle" style="font-family:DejaVu Sans,sans-serif">(30 days after treatment)</text>
<line x1="356.20" y1="365.80" x2="356.20" y2="438.70" stroke="#d9d9d9" stroke-width="0.35" stroke-dasharray="0.6 0.6"/>
<line x1="390.80" y1="365.80" x2="390.80" y2="438.70" stroke="#d9d9d9" stroke-width="0.35" stroke-dasharray="0.6 0.6"/>
<line x1="424.50" y1="365.80" x2="424.50" y2="438.70" stroke="#d9d9d9" stroke-width="0.35" stroke-dasharray="0.6 0.6"/>
<line x1="459.10" y1="365.80" x2="459.10" y2="438.70" stroke="#d9d9d9" stroke-width="0.35" stroke-dasharray="0.6 0.6"/>
<line x1="351.50" y1="430.10" x2="464.90" y2="430.10" stroke="#d9d9d9" stroke-width="0.35" stroke-dasharray="0.6 0.6"/>
<line x1="351.50" y1="418.56" x2="464.90" y2="418.56" stroke="#d9d9d9" stroke-width="0.35" stroke-dasharray="0.6 0.6"/>
<line x1="351.50" y1="407.02" x2="464.90" y2="407.02" stroke="#d9d9d9" stroke-width="0.35" stroke-dasharray="0.6 0.6"/>
<line x1="351.50" y1="395.48" x2="464.90" y2="395.48" stroke="#d9d9d9" stroke-width="0.35" stroke-dasharray="0.6 0.6"/>
<line x1="351.50" y1="383.94" x2="464.90" y2="383.94" stroke="#d9d9d9" stroke-width="0.35" stroke-dasharray="0.6 0.6"/>
<line x1="351.50" y1="372.40" x2="464.90" y2="372.40" stroke="#d9d9d9" stroke-width="0.35" stroke-dasharray="0.6 0.6"/>
<line x1="351.50" y1="422.60" x2="464.90" y2="422.60" stroke="#553333" stroke-width="0.6" stroke-dasharray="1.4 0.9"/>
<polyline points="356.20,416.83 390.80,419.14 424.50,425.48 459.10,431.83" fill="none" stroke="#1f77b4" stroke-width="0.9" stroke-linejoin="round"/>
<circle cx="356.20" cy="416.83" r="1.45" fill="#1f77b4" stroke="none" stroke-width="0.4"/>
<circle cx="390.80" cy="419.14" r="1.45" fill="#1f77b4" stroke="none" stroke-width="0.4"/>
<circle cx="424.50" cy="425.48" r="1.45" fill="#1f77b4" stroke="none" stroke-width="0.4"/>
<circle cx="459.10" cy="431.83" r="1.45" fill="#1f77b4" stroke="none" stroke-width="0.4"/>
<polyline points="356.20,411.64 390.80,408.17 424.50,422.60 459.10,430.68" fill="none" stroke="#ff7f0e" stroke-width="0.9" stroke-linejoin="round"/>
<rect x="354.75" y="410.19" width="2.90" height="2.90" fill="#ff7f0e" stroke="none" stroke-width="0.5"/>
<rect x="389.35" y="406.72" width="2.90" height="2.90" fill="#ff7f0e" stroke="none" stroke-width="0.5"/>
<rect x="423.05" y="421.15" width="2.90" height="2.90" fill="#ff7f0e" stroke="none" stroke-width="0.5"/>
<rect x="457.65" y="429.23" width="2.90" height="2.90" fill="#ff7f0e" stroke="none" stroke-width="0.5"/>
<polyline points="356.20,410.48 390.80,419.71 424.50,422.02 459.10,434.72" fill="none" stroke="#2ca02c" stroke-width="0.9" stroke-linejoin="round"/>
<path d="M354.60,411.93 L357.80,411.93 L356.20,409.03Z" fill="#2ca02c"/>
<path d="M389.20,421.16 L392.40,421.16 L390.80,418.26Z" fill="#2ca02c"/>
<path d="M422.90,423.47 L426.10,423.47 L424.50,420.57Z" fill="#2ca02c"/>
<path d="M457.50,436.17 L460.70,436.17 L459.10,433.27Z" fill="#2ca02c"/>
<polyline points="356.20,368.36 390.80,421.45 424.50,430.68 459.10,435.87" fill="none" stroke="#d62728" stroke-width="0.9" stroke-linejoin="round"/>
<path d="M354.60,366.91 L357.80,366.91 L356.20,369.81Z" fill="#d62728"/>
<path d="M389.20,420.00 L392.40,420.00 L390.80,422.90Z" fill="#d62728"/>
<path d="M422.90,429.23 L426.10,429.23 L424.50,432.13Z" fill="#d62728"/>
<path d="M457.50,434.42 L460.70,434.42 L459.10,437.32Z" fill="#d62728"/>
<rect x="351.50" y="365.80" width="113.40" height="72.90" fill="none" stroke="#000" stroke-width="0.5"/>
<line x1="356.20" y1="438.70" x2="356.20" y2="437.50" stroke="#000" stroke-width="0.4"/>
<text x="356.20" y="444.30" font-size="4.9" text-anchor="middle" style="font-family:DejaVu Sans,sans-serif">p3-6</text>
<line x1="390.80" y1="438.70" x2="390.80" y2="437.50" stroke="#000" stroke-width="0.4"/>
<text x="390.80" y="444.30" font-size="4.9" text-anchor="middle" style="font-family:DejaVu Sans,sans-serif">p10</text>
<line x1="424.50" y1="438.70" x2="424.50" y2="437.50" stroke="#000" stroke-width="0.4"/>
<text x="424.50" y="444.30" font-size="4.9" text-anchor="middle" style="font-family:DejaVu Sans,sans-serif">p20</text>
<line x1="459.10" y1="438.70" x2="459.10" y2="437.50" stroke="#000" stroke-width="0.4"/>
<text x="459.10" y="444.30" font-size="4.9" text-anchor="middle" style="font-family:DejaVu Sans,sans-serif">p45</text>
<line x1="351.50" y1="430.10" x2="352.70" y2="430.10" stroke="#000" stroke-width="0.4"/>
<text x="349.90" y="431.90" font-size="4.9" text-anchor="end" style="font-family:DejaVu Sans,sans-serif">2</text>
<line x1="351.50" y1="418.56" x2="352.70" y2="418.56" stroke="#000" stroke-width="0.4"/>
<text x="349.90" y="420.36" font-size="4.9" text-anchor="end" style="font-family:DejaVu Sans,sans-serif">4</text>
<line x1="351.50" y1="407.02" x2="352.70" y2="407.02" stroke="#000" stroke-width="0.4"/>
<text x="349.90" y="408.82" font-size="4.9" text-anchor="end" style="font-family:DejaVu Sans,sans-serif">6</text>
<line x1="351.50" y1="395.48" x2="352.70" y2="395.48" stroke="#000" stroke-width="0.4"/>
<text x="349.90" y="397.28" font-size="4.9" text-anchor="end" style="font-family:DejaVu Sans,sans-serif">8</text>
<line x1="351.50" y1="383.94" x2="352.70" y2="383.94" stroke="#000" stroke-width="0.4"/>
<text x="349.90" y="385.74" font-size="4.9" text-anchor="end" style="font-family:DejaVu Sans,sans-serif">10</text>
<line x1="351.50" y1="372.40" x2="352.70" y2="372.40" stroke="#000" stroke-width="0.4"/>
<text x="349.90" y="374.20" font-size="4.9" text-anchor="end" style="font-family:DejaVu Sans,sans-serif">12</text>
<text x="407.20" y="452.20" font-size="4.9" text-anchor="middle" style="font-family:DejaVu Sans,sans-serif">Age at treatment</text>
<text x="340" y="402.5" font-size="5.6" text-anchor="middle" style="font-family:DejaVu Sans,sans-serif" transform="rotate(-90 340 402.5)">–log<tspan font-size="3.8" dy="1.2">10</tspan><tspan dy="-1.2"> (</tspan><tspan font-style="italic">P</tspan> value)</text>
<rect x="432.30" y="368.00" width="30.60" height="33.20" fill="#fff" stroke="#ccc" stroke-width="0.4" rx="0.8" fill-opacity="0.85"/>
<line x1="434.60" y1="373.00" x2="445.60" y2="373.00" stroke="#1f77b4" stroke-width="0.9"/>
<circle cx="440.10" cy="373.00" r="1.45" fill="#1f77b4" stroke="none" stroke-width="0.4"/>
<text x="449.60" y="374.80" font-size="4.9" style="font-family:DejaVu Sans,sans-serif">A/E</text>
<line x1="434.60" y1="380.80" x2="445.60" y2="380.80" stroke="#ff7f0e" stroke-width="0.9"/>
<rect x="438.65" y="379.35" width="2.90" height="2.90" fill="#ff7f0e" stroke="none" stroke-width="0.5"/>
<text x="449.60" y="382.60" font-size="4.9" style="font-family:DejaVu Sans,sans-serif">Mot</text>
<line x1="434.60" y1="388.50" x2="445.60" y2="388.50" stroke="#2ca02c" stroke-width="0.9"/>
<path d="M438.50,389.95 L441.70,389.95 L440.10,387.05Z" fill="#2ca02c"/>
<text x="449.60" y="390.30" font-size="4.9" style="font-family:DejaVu Sans,sans-serif">L/M</text>
<line x1="434.60" y1="396.30" x2="445.60" y2="396.30" stroke="#d62728" stroke-width="0.9"/>
<path d="M438.50,394.85 L441.70,394.85 L440.10,397.75Z" fill="#d62728"/>
<text x="449.60" y="398.10" font-size="4.9" style="font-family:DejaVu Sans,sans-serif">D/D</text>
<text x="1.80" y="468.80" font-size="10.5" font-weight="bold">M</text>
<text x="250.00" y="462.30" font-size="8.0" text-anchor="middle">Irradiated (4 Gy)</text>
<line x1="115.50" y1="465.80" x2="390.00" y2="465.80" stroke="#a89a9a" stroke-width="0.7"/>
<text x="55.50" y="475.90" font-size="8.0" text-anchor="middle">Sham</text>
<text x="137.50" y="475.90" font-size="8.0" text-anchor="middle">P4</text>
<text x="213.20" y="475.90" font-size="8.0" text-anchor="middle">P10</text>
<text x="289.00" y="475.90" font-size="8.0" text-anchor="middle">P20</text>
<text x="366.00" y="475.90" font-size="8.0" text-anchor="middle">P45</text>
<text x="15.90" y="506.60" font-size="7.2" text-anchor="middle" transform="rotate(-90 15.90 506.60)">Hippocampus</text>
<text x="7.30" y="558.40" font-size="7.2" text-anchor="middle" transform="rotate(-90 7.30 558.40)">Dentate</text>
<text x="15.90" y="558.40" font-size="7.2" text-anchor="middle" transform="rotate(-90 15.90 558.40)">Gyrus</text>
<text x="15.90" y="609.30" font-size="7.2" text-anchor="middle" transform="rotate(-90 15.90 609.30)">CA3</text>
<text x="15.90" y="657.80" font-size="7.2" text-anchor="middle" transform="rotate(-90 15.90 657.80)">Cortex</text>
<svg x="19.00" y="478.60" width="77.75" height="51.40" viewBox="0 0 78 52" preserveAspectRatio="none" overflow="hidden">
<rect x="-1" y="-1" width="80" height="54" fill="#C04B56"/>
<rect x="-1" y="-1" width="80" height="54" filter="url(#grain)" opacity="0.25"/>
<path d="M0.0,14.0 C1.7,13.5 6.2,12.4 10.0,11.0 C13.8,9.6 18.3,6.7 23.0,5.5 C27.7,4.3 33.5,3.8 38.0,4.0 C42.5,4.2 46.3,4.8 50.0,6.5 C53.7,8.2 57.0,10.9 60.0,14.0 C63.0,17.1 66.7,23.2 68.0,25.0" fill="none" stroke="#A43C60" stroke-width="3.8" stroke-linecap="round" filter="url(#b2)" opacity="0.32"/><path d="M0.0,14.0 C1.7,13.5 6.2,12.4 10.0,11.0 C13.8,9.6 18.3,6.7 23.0,5.5 C27.7,4.3 33.5,3.8 38.0,4.0 C42.5,4.2 46.3,4.8 50.0,6.5 C53.7,8.2 57.0,10.9 60.0,14.0 C63.0,17.1 66.7,23.2 68.0,25.0" fill="none" stroke="#A43C60" stroke-width="1.6" stroke-linecap="round" filter="url(#b1)" opacity="1"/>
<path d="M1.0,37.0 C3.2,36.3 9.7,34.0 14.0,33.0 C18.3,32.0 23.0,30.3 27.0,31.0 C31.0,31.7 33.8,34.3 38.0,37.0 C42.2,39.7 49.7,45.3 52.0,47.0" fill="none" stroke="#92305C" stroke-width="6.2" stroke-linecap="round" filter="url(#b2)" opacity="0.32"/><path d="M1.0,37.0 C3.2,36.3 9.7,34.0 14.0,33.0 C18.3,32.0 23.0,30.3 27.0,31.0 C31.0,31.7 33.8,34.3 38.0,37.0 C42.2,39.7 49.7,45.3 52.0,47.0" fill="none" stroke="#92305C" stroke-width="2.6" stroke-linecap="round" filter="url(#b1)" opacity="1"/>
<path d="M4.0,47.0 C6.3,46.2 13.7,43.4 18.0,42.5 C22.3,41.6 25.5,40.9 30.0,41.5 C34.5,42.1 40.3,44.5 45.0,46.0 C49.7,47.5 55.8,49.8 58.0,50.5" fill="none" stroke="#92305C" stroke-width="4.8" stroke-linecap="round" filter="url(#b2)" opacity="0.32"/><path d="M4.0,47.0 C6.3,46.2 13.7,43.4 18.0,42.5 C22.3,41.6 25.5,40.9 30.0,41.5 C34.5,42.1 40.3,44.5 45.0,46.0 C49.7,47.5 55.8,49.8 58.0,50.5" fill="none" stroke="#92305C" stroke-width="2.0" stroke-linecap="round" filter="url(#b1)" opacity="1"/>
<path d="M0.0,48.5 L25.0,49.5 L46.0,53.0 L0.0,53.0Z" fill="#D3E8DF" filter="url(#b0)" opacity="1"/>
<path d="M64.0,53.0 L72.0,48.0 L79.0,45.0 L79.0,53.0Z" fill="#D3E8DF" filter="url(#b0)" opacity="1"/>
<line x1="10" y1="0" x2="10" y2="36" stroke="#B84A6A" stroke-width="0.4" opacity="0.6"/>
<line x1="70" y1="48.4" x2="74.5" y2="48.4" stroke="#111" stroke-width="1.25"/>
</svg>
<svg x="96.75" y="478.60" width="77.75" height="51.40" viewBox="0 0 78 52" preserveAspectRatio="none" overflow="hidden">
<rect x="-1" y="-1" width="80" height="54" fill="#B53A47"/>
<rect x="-1" y="-1" width="80" height="54" filter="url(#grain)" opacity="0.25"/>
<rect x="0" y="0" width="78" height="52" filter="url(#noise)" opacity="0.42"/>
<path d="M20.0,22.0 C20.8,18.3 30.0,14.0 35.0,12.0 C40.0,10.0 46.2,9.0 50.0,10.0 C53.8,11.0 58.0,14.7 58.0,18.0 C58.0,21.3 54.7,27.3 50.0,30.0 C45.3,32.7 35.0,35.3 30.0,34.0 C25.0,32.7 19.2,25.7 20.0,22.0Z" fill="#D04555" filter="url(#b2)" opacity="0.4"/>
<path d="M6.0,20.0 C9.2,19.0 19.3,16.2 25.0,14.0 C30.7,11.8 35.0,8.0 40.0,7.0 C45.0,6.0 51.3,6.2 55.0,8.0 C58.7,9.8 61.2,14.0 62.0,18.0 C62.8,22.0 62.8,28.0 60.0,32.0 C57.2,36.0 50.8,40.2 45.0,42.0 C39.2,43.8 28.3,42.8 25.0,43.0" fill="none" stroke="#B58A9C" stroke-width="2.9" stroke-linecap="round" filter="url(#b2)" opacity="0.22"/><path d="M6.0,20.0 C9.2,19.0 19.3,16.2 25.0,14.0 C30.7,11.8 35.0,8.0 40.0,7.0 C45.0,6.0 51.3,6.2 55.0,8.0 C58.7,9.8 61.2,14.0 62.0,18.0 C62.8,22.0 62.8,28.0 60.0,32.0 C57.2,36.0 50.8,40.2 45.0,42.0 C39.2,43.8 28.3,42.8 25.0,43.0" fill="none" stroke="#B58A9C" stroke-width="1.2" stroke-linecap="round" filter="url(#b1)" opacity="0.7"/>
<path d="M79.0,16.0 L67.0,30.0 L63.0,42.0 L50.0,50.5 L30.0,53.0 L79.0,53.0Z" fill="#D3E8DF" filter="url(#b0)" opacity="1"/>
<path d="M0.0,48.0 L20.0,50.0 L50.0,51.0 L50.0,53.0 L0.0,53.0Z" fill="#D3E8DF" filter="url(#b0)" opacity="1"/>
<line x1="70" y1="48.4" x2="74.5" y2="48.4" stroke="#111" stroke-width="1.25"/>
</svg>
<svg x="174.50" y="478.60" width="77.50" height="51.40" viewBox="0 0 78 52" preserveAspectRatio="none" overflow="hidden">
<rect x="-1" y="-1" width="80" height="54" fill="#C24954"/>
<rect x="-1" y="-1" width="80" height="54" filter="url(#grain)" opacity="0.25"/>
<path d="M1.0,21.0 C4.2,19.2 12.7,12.5 20.0,10.0 C27.3,7.5 36.3,6.0 45.0,6.0 C53.7,6.0 67.5,9.3 72.0,10.0" fill="none" stroke="#C04868" stroke-width="3.4" stroke-linecap="round" filter="url(#b2)" opacity="0.22"/><path d="M1.0,21.0 C4.2,19.2 12.7,12.5 20.0,10.0 C27.3,7.5 36.3,6.0 45.0,6.0 C53.7,6.0 67.5,9.3 72.0,10.0" fill="none" stroke="#C04868" stroke-width="1.4" stroke-linecap="round" filter="url(#b1)" opacity="0.7"/>
<path d="M11.0,41.0 C13.3,39.7 19.3,35.1 25.0,33.0 C30.7,30.9 38.8,29.5 45.0,28.5 C51.2,27.5 58.2,26.8 62.0,27.0 C65.8,27.2 67.0,29.5 68.0,30.0" fill="none" stroke="#92305C" stroke-width="5.3" stroke-linecap="round" filter="url(#b2)" opacity="0.32"/><path d="M11.0,41.0 C13.3,39.7 19.3,35.1 25.0,33.0 C30.7,30.9 38.8,29.5 45.0,28.5 C51.2,27.5 58.2,26.8 62.0,27.0 C65.8,27.2 67.0,29.5 68.0,30.0" fill="none" stroke="#92305C" stroke-width="2.2" stroke-linecap="round" filter="url(#b1)" opacity="1"/>
<path d="M10.0,43.0 C12.5,42.5 19.2,41.2 25.0,40.0 C30.8,38.8 38.2,37.5 45.0,36.0 C51.8,34.5 62.5,31.8 66.0,31.0" fill="none" stroke="#92305C" stroke-width="4.3" stroke-linecap="round" filter="url(#b2)" opacity="0.32"/><path d="M10.0,43.0 C12.5,42.5 19.2,41.2 25.0,40.0 C30.8,38.8 38.2,37.5 45.0,36.0 C51.8,34.5 62.5,31.8 66.0,31.0" fill="none" stroke="#92305C" stroke-width="1.8" stroke-linecap="round" filter="url(#b1)" opacity="1"/>
<path d="M25.0,46.0 C27.7,44.8 34.2,44.5 40.0,43.5 C45.8,42.5 54.0,41.8 60.0,40.0 C66.0,38.2 73.2,33.3 76.0,33.0 C78.8,32.7 79.7,35.8 77.0,38.0 C74.3,40.2 66.5,43.8 60.0,46.0 C53.5,48.2 44.0,50.2 38.0,51.0 C32.0,51.8 26.2,51.8 24.0,51.0 C21.8,50.2 22.3,47.2 25.0,46.0Z" fill="#D3E8DF" filter="url(#b0)" opacity="1"/>
<path d="M69,11 q2,3 2,7" stroke="#eee" stroke-width="1.2" fill="none"/>
<line x1="70" y1="48.4" x2="74" y2="48.4" stroke="#111" stroke-width="1.25"/>
</svg>
<svg x="252.00" y="478.60" width="77.50" height="51.40" viewBox="0 0 78 52" preserveAspectRatio="none" overflow="hidden">
<rect x="-1" y="-1" width="80" height="54" fill="#C04347"/>
<rect x="-1" y="-1" width="80" height="54" filter="url(#grain)" opacity="0.25"/>
<path d="M40.0,3.0 C38.0,4.8 31.8,9.5 28.0,14.0 C24.2,18.5 19.7,25.7 17.0,30.0 C14.3,34.3 11.2,37.0 12.0,40.0 C12.8,43.0 18.3,46.3 22.0,48.0 C25.7,49.7 32.0,49.7 34.0,50.0" fill="none" stroke="#A83052" stroke-width="3.6" stroke-linecap="round" filter="url(#b2)" opacity="0.32"/><path d="M40.0,3.0 C38.0,4.8 31.8,9.5 28.0,14.0 C24.2,18.5 19.7,25.7 17.0,30.0 C14.3,34.3 11.2,37.0 12.0,40.0 C12.8,43.0 18.3,46.3 22.0,48.0 C25.7,49.7 32.0,49.7 34.0,50.0" fill="none" stroke="#A83052" stroke-width="1.5" stroke-linecap="round" filter="url(#b1)" opacity="1"/>
<path d="M38.0,30.0 C40.0,28.3 45.5,22.2 50.0,20.0 C54.5,17.8 60.2,17.2 65.0,17.0 C69.8,16.8 76.7,18.7 79.0,19.0" fill="none" stroke="#9C2C55" stroke-width="4.8" stroke-linecap="round" filter="url(#b2)" opacity="0.32"/><path d="M38.0,30.0 C40.0,28.3 45.5,22.2 50.0,20.0 C54.5,17.8 60.2,17.2 65.0,17.0 C69.8,16.8 76.7,18.7 79.0,19.0" fill="none" stroke="#9C2C55" stroke-width="2.0" stroke-linecap="round" filter="url(#b1)" opacity="1"/>
<path d="M47.0,33.0 C48.8,31.7 54.2,26.8 58.0,25.0 C61.8,23.2 66.5,22.8 70.0,22.5 C73.5,22.2 77.5,23.3 79.0,23.5" fill="none" stroke="#9C2C55" stroke-width="4.3" stroke-linecap="round" filter="url(#b2)" opacity="0.32"/><path d="M47.0,33.0 C48.8,31.7 54.2,26.8 58.0,25.0 C61.8,23.2 66.5,22.8 70.0,22.5 C73.5,22.2 77.5,23.3 79.0,23.5" fill="none" stroke="#9C2C55" stroke-width="1.8" stroke-linecap="round" filter="url(#b1)" opacity="1"/>
<path d="M12.0,16.0 C12.0,15.6 17.0,13.3 20.0,11.5 C23.0,9.7 27.0,6.5 30.0,5.0 C33.0,3.5 36.2,2.7 38.0,2.5 C39.8,2.3 42.3,2.8 41.0,4.0 C39.7,5.2 33.5,7.8 30.0,9.5 C26.5,11.2 23.0,12.9 20.0,14.0 C17.0,15.1 12.0,16.4 12.0,16.0Z" fill="#D3E8DF" filter="url(#b0)" opacity="1"/>
<path d="M50.0,33.5 C52.5,31.8 55.2,30.4 60.0,29.5 C64.8,28.6 75.8,25.9 79.0,28.0 C82.2,30.1 81.8,39.7 79.0,42.0 C76.2,44.3 67.2,41.7 62.0,42.0 C56.8,42.3 52.3,43.0 48.0,44.0 C43.7,45.0 39.5,46.8 36.0,48.0 C32.5,49.2 28.0,51.4 27.0,51.0 C26.0,50.6 27.0,47.3 30.0,45.5 C33.0,43.7 41.7,42.0 45.0,40.0 C48.3,38.0 47.5,35.2 50.0,33.5Z" fill="#D3E8DF" filter="url(#b0)" opacity="1"/>
<path d="M4,38 l3,-2 M10,25 l4,-4 M24,28 l4,-1.5 M30,24 l3,-1" stroke="#f0e8e0" stroke-width="0.9" fill="none"/>
<line x1="70" y1="48.4" x2="74" y2="48.4" stroke="#111" stroke-width="1.25"/>
</svg>
<svg x="329.50" y="478.60" width="77.80" height="51.40" viewBox="0 0 78 52" preserveAspectRatio="none" overflow="hidden">
<rect x="-1" y="-1" width="80" height="54" fill="#C64956"/>
<rect x="-1" y="-1" width="80" height="54" filter="url(#grain)" opacity="0.25"/>
<path d="M0.0,8.0 C2.5,7.5 10.0,5.7 15.0,5.0 C20.0,4.3 24.2,4.0 30.0,4.0 C35.8,4.0 46.7,4.8 50.0,5.0" fill="none" stroke="#C44868" stroke-width="2.9" stroke-linecap="round" filter="url(#b2)" opacity="0.19"/><path d="M0.0,8.0 C2.5,7.5 10.0,5.7 15.0,5.0 C20.0,4.3 24.2,4.0 30.0,4.0 C35.8,4.0 46.7,4.8 50.0,5.0" fill="none" stroke="#C44868" stroke-width="1.2" stroke-linecap="round" filter="url(#b1)" opacity="0.6"/>
<path d="M4.0,30.0 C6.7,29.2 14.8,26.2 20.0,25.0 C25.2,23.8 29.2,23.0 35.0,23.0 C40.8,23.0 49.2,23.5 55.0,25.0 C60.8,26.5 67.5,30.8 70.0,32.0" fill="none" stroke="#92305C" stroke-width="5.3" stroke-linecap="round" filter="url(#b2)" opacity="0.32"/><path d="M4.0,30.0 C6.7,29.2 14.8,26.2 20.0,25.0 C25.2,23.8 29.2,23.0 35.0,23.0 C40.8,23.0 49.2,23.5 55.0,25.0 C60.8,26.5 67.5,30.8 70.0,32.0" fill="none" stroke="#92305C" stroke-width="2.2" stroke-linecap="round" filter="url(#b1)" opacity="1"/>
<path d="M11.0,42.0 C13.3,40.8 20.2,36.8 25.0,35.0 C29.8,33.2 35.0,32.1 40.0,31.5 C45.0,30.9 50.3,30.8 55.0,31.5 C59.7,32.2 65.8,35.2 68.0,36.0" fill="none" stroke="#92305C" stroke-width="4.3" stroke-linecap="round" filter="url(#b2)" opacity="0.32"/><path d="M11.0,42.0 C13.3,40.8 20.2,36.8 25.0,35.0 C29.8,33.2 35.0,32.1 40.0,31.5 C45.0,30.9 50.3,30.8 55.0,31.5 C59.7,32.2 65.8,35.2 68.0,36.0" fill="none" stroke="#92305C" stroke-width="1.8" stroke-linecap="round" filter="url(#b1)" opacity="1"/>
<path d="M0.0,50.0 C2.0,48.8 5.3,47.3 12.0,46.0 C18.7,44.7 30.3,42.5 40.0,42.0 C49.7,41.5 63.5,42.3 70.0,43.0 C76.5,43.7 77.5,44.3 79.0,46.0 C80.5,47.7 92.2,51.8 79.0,53.0 C65.8,54.2 13.2,53.5 0.0,53.0 C-13.2,52.5 -2.0,51.2 0.0,50.0Z" fill="#D3E8DF" filter="url(#b0)" opacity="1"/>
<path d="M19,16 l1.5,2 M53,14 l1.5,3" stroke="#f3e6e0" stroke-width="1" fill="none"/>
<line x1="70" y1="48.4" x2="74.5" y2="48.4" stroke="#111" stroke-width="1.25"/>
</svg>
<svg x="19.00" y="530.00" width="77.75" height="51.20" viewBox="0 0 78 52" preserveAspectRatio="none" overflow="hidden">
<rect x="-1" y="-1" width="80" height="54" fill="#C54856"/>
<rect x="-1" y="-1" width="80" height="54" filter="url(#grain)" opacity="0.25"/>
<path d="M1.0,12.0 C2.5,11.6 6.8,9.2 10.0,9.5 C13.2,9.8 16.7,11.4 20.0,14.0 C23.3,16.6 25.8,21.8 30.0,25.0 C34.2,28.2 39.7,30.5 45.0,33.0 C50.3,35.5 57.5,37.8 62.0,40.0 C66.5,42.2 70.3,45.0 72.0,46.0" fill="none" stroke="#98325F" stroke-width="10.1" stroke-linecap="round" filter="url(#b2)" opacity="0.32"/><path d="M1.0,12.0 C2.5,11.6 6.8,9.2 10.0,9.5 C13.2,9.8 16.7,11.4 20.0,14.0 C23.3,16.6 25.8,21.8 30.0,25.0 C34.2,28.2 39.7,30.5 45.0,33.0 C50.3,35.5 57.5,37.8 62.0,40.0 C66.5,42.2 70.3,45.0 72.0,46.0" fill="none" stroke="#98325F" stroke-width="4.2" stroke-linecap="round" filter="url(#b1)" opacity="1"/>
<path d="M1.0,32.0 C3.3,32.2 10.2,32.2 15.0,33.0 C19.8,33.8 24.5,35.8 30.0,37.0 C35.5,38.2 42.0,39.0 48.0,40.5 C54.0,42.0 63.0,45.1 66.0,46.0" fill="none" stroke="#98325F" stroke-width="8.6" stroke-linecap="round" filter="url(#b2)" opacity="0.32"/><path d="M1.0,32.0 C3.3,32.2 10.2,32.2 15.0,33.0 C19.8,33.8 24.5,35.8 30.0,37.0 C35.5,38.2 42.0,39.0 48.0,40.5 C54.0,42.0 63.0,45.1 66.0,46.0" fill="none" stroke="#98325F" stroke-width="3.6" stroke-linecap="round" filter="url(#b1)" opacity="1"/>
<path d="M0.0,48.0 L18.0,50.0 L32.0,53.0 L0.0,53.0Z" fill="#D3E8DF" filter="url(#b0)" opacity="1"/>
<path d="M42,2 l6,4 M66,22 l4,5" stroke="#f0dcd8" stroke-width="0.9" fill="none"/>
<line x1="62.5" y1="48.4" x2="73.5" y2="48.4" stroke="#111" stroke-width="1.25"/>
</svg>
<svg x="96.75" y="530.00" width="77.75" height="51.20" viewBox="0 0 78 52" preserveAspectRatio="none" overflow="hidden">
<rect x="-1" y="-1" width="80" height="54" fill="#B73847"/>
<rect x="-1" y="-1" width="80" height="54" filter="url(#grain)" opacity="0.25"/>
<rect x="0" y="0" width="78" height="52" filter="url(#noise)" opacity="0.42"/>
<line x1="62" y1="48.4" x2="73" y2="48.4" stroke="#111" stroke-width="1.25"/>
</svg>
<svg x="174.50" y="530.00" width="77.50" height="51.20" viewBox="0 0 78 52" preserveAspectRatio="none" overflow="hidden">
<rect x="-1" y="-1" width="80" height="54" fill="#C95059"/>
<rect x="-1" y="-1" width="80" height="54" filter="url(#grain)" opacity="0.25"/>
<path d="M2.0,8.0 C6.7,7.5 21.2,5.0 30.0,5.0 C38.8,5.0 48.3,5.8 55.0,8.0 C61.7,10.2 66.8,14.0 70.0,18.0 C73.2,22.0 73.3,29.7 74.0,32.0" fill="none" stroke="#E88890" stroke-width="6.0" stroke-linecap="round" filter="url(#b2)" opacity="0.22"/><path d="M2.0,8.0 C6.7,7.5 21.2,5.0 30.0,5.0 C38.8,5.0 48.3,5.8 55.0,8.0 C61.7,10.2 66.8,14.0 70.0,18.0 C73.2,22.0 73.3,29.7 74.0,32.0" fill="none" stroke="#E88890" stroke-width="2.5" stroke-linecap="round" filter="url(#b2)" opacity="0.7"/>
<path d="M58.0,3.0 C60.2,5.0 68.2,10.2 71.0,15.0 C73.8,19.8 75.2,26.8 75.0,32.0 C74.8,37.2 70.8,43.7 70.0,46.0" fill="none" stroke="#EEC2CC" stroke-width="13.2" stroke-linecap="round" filter="url(#b2)" opacity="0.22"/><path d="M58.0,3.0 C60.2,5.0 68.2,10.2 71.0,15.0 C73.8,19.8 75.2,26.8 75.0,32.0 C74.8,37.2 70.8,43.7 70.0,46.0" fill="none" stroke="#EEC2CC" stroke-width="5.5" stroke-linecap="round" filter="url(#b2)" opacity="0.7"/>
<path d="M1.0,27.0 C4.2,26.2 13.5,23.4 20.0,22.0 C26.5,20.6 34.2,19.2 40.0,18.5 C45.8,17.8 51.5,17.4 55.0,18.0 C58.5,18.6 61.0,20.7 61.0,22.0 C61.0,23.3 56.0,25.3 55.0,26.0" fill="none" stroke="#8E2E60" stroke-width="9.6" stroke-linecap="round" filter="url(#b2)" opacity="0.32"/><path d="M1.0,27.0 C4.2,26.2 13.5,23.4 20.0,22.0 C26.5,20.6 34.2,19.2 40.0,18.5 C45.8,17.8 51.5,17.4 55.0,18.0 C58.5,18.6 61.0,20.7 61.0,22.0 C61.0,23.3 56.0,25.3 55.0,26.0" fill="none" stroke="#8E2E60" stroke-width="4.0" stroke-linecap="round" filter="url(#b1)" opacity="1"/>
<path d="M1.0,42.0 C4.2,41.0 13.5,38.0 20.0,36.0 C26.5,34.0 33.8,31.6 40.0,30.0 C46.2,28.4 54.2,27.1 57.0,26.5" fill="none" stroke="#98345F" stroke-width="7.2" stroke-linecap="round" filter="url(#b2)" opacity="0.32"/><path d="M1.0,42.0 C4.2,41.0 13.5,38.0 20.0,36.0 C26.5,34.0 33.8,31.6 40.0,30.0 C46.2,28.4 54.2,27.1 57.0,26.5" fill="none" stroke="#98345F" stroke-width="3.0" stroke-linecap="round" filter="url(#b1)" opacity="1"/>
<path d="M17,27 l2,-7 M20,30 q15,-4 30,-6" stroke="#e8c8d0" stroke-width="0.8" fill="none" opacity="0.8"/>
<path d="M35.0,53.0 C31.0,52.2 49.2,49.8 55.0,48.0 C60.8,46.2 66.5,45.0 70.0,42.0 C73.5,39.0 74.5,32.0 76.0,30.0 C77.5,28.0 78.5,26.2 79.0,30.0 C79.5,33.8 86.3,49.2 79.0,53.0 C71.7,56.8 39.0,53.8 35.0,53.0Z" fill="#D3E8DF" filter="url(#b0)" opacity="1"/>
<line x1="58" y1="48" x2="72" y2="48" stroke="#111" stroke-width="1.25"/>
</svg>
<svg x="252.00" y="530.00" width="77.50" height="51.20" viewBox="0 0 78 52" preserveAspectRatio="none" overflow="hidden">
<rect x="-1" y="-1" width="80" height="54" fill="#C24444"/>
<rect x="-1" y="-1" width="80" height="54" filter="url(#grain)" opacity="0.25"/>
<path d="M0.0,43.0 C2.0,40.8 7.3,34.5 12.0,30.0 C16.7,25.5 23.3,18.8 28.0,16.0 C32.7,13.2 34.7,13.0 40.0,13.0 C45.3,13.0 53.5,14.5 60.0,16.0 C66.5,17.5 75.8,21.0 79.0,22.0" fill="none" stroke="#8A2850" stroke-width="7.7" stroke-linecap="round" filter="url(#b2)" opacity="0.32"/><path d="M0.0,43.0 C2.0,40.8 7.3,34.5 12.0,30.0 C16.7,25.5 23.3,18.8 28.0,16.0 C32.7,13.2 34.7,13.0 40.0,13.0 C45.3,13.0 53.5,14.5 60.0,16.0 C66.5,17.5 75.8,21.0 79.0,22.0" fill="none" stroke="#8A2850" stroke-width="3.2" stroke-linecap="round" filter="url(#b1)" opacity="1"/>
<path d="M22.0,51.0 C23.0,49.2 25.0,43.2 28.0,40.0 C31.0,36.8 35.5,33.5 40.0,31.5 C44.5,29.5 48.5,28.6 55.0,28.0 C61.5,27.4 75.0,28.0 79.0,28.0" fill="none" stroke="#8A2850" stroke-width="6.2" stroke-linecap="round" filter="url(#b2)" opacity="0.32"/><path d="M22.0,51.0 C23.0,49.2 25.0,43.2 28.0,40.0 C31.0,36.8 35.5,33.5 40.0,31.5 C44.5,29.5 48.5,28.6 55.0,28.0 C61.5,27.4 75.0,28.0 79.0,28.0" fill="none" stroke="#8A2850" stroke-width="2.6" stroke-linecap="round" filter="url(#b1)" opacity="1"/>
<path d="M38.0,53.0 C33.2,52.0 45.5,48.5 50.0,47.0 C54.5,45.5 60.2,44.5 65.0,44.0 C69.8,43.5 76.7,42.5 79.0,44.0 C81.3,45.5 85.8,51.5 79.0,53.0 C72.2,54.5 42.8,54.0 38.0,53.0Z" fill="#D3E8DF" filter="url(#b0)" opacity="1"/>
<path d="M17.0,52.0 C17.0,50.2 22.3,43.8 24.0,42.0 C25.7,40.2 27.0,39.2 27.0,41.0 C27.0,42.8 25.7,51.2 24.0,53.0 C22.3,54.8 17.0,53.8 17.0,52.0Z" fill="#D3E8DF" filter="url(#b0)" opacity="1"/>
<path d="M3,45 L30,20 M8,14 L20,5" stroke="#f0dcd4" stroke-width="0.8" fill="none"/>
<line x1="61" y1="48" x2="72" y2="48" stroke="#111" stroke-width="1.25"/>
</svg>
<svg x="329.50" y="530.00" width="77.80" height="51.20" viewBox="0 0 78 52" preserveAspectRatio="none" overflow="hidden">
<rect x="-1" y="-1" width="80" height="54" fill="#CC4E61"/>
<rect x="-1" y="-1" width="80" height="54" filter="url(#grain)" opacity="0.25"/>
<path d="M-2.0,13.0 C0.8,9.2 9.3,14.2 15.0,15.0 C20.7,15.8 27.2,17.2 32.0,18.0 C36.8,18.8 40.0,18.3 44.0,20.0 C48.0,21.7 51.3,24.0 56.0,28.0 C60.7,32.0 71.3,41.7 72.0,44.0 C72.7,46.3 64.5,43.3 60.0,42.0 C55.5,40.7 50.0,37.5 45.0,36.0 C40.0,34.5 35.5,33.3 30.0,33.0 C24.5,32.7 17.3,33.2 12.0,34.0 C6.7,34.8 0.3,41.5 -2.0,38.0 C-4.3,34.5 -4.8,16.8 -2.0,13.0Z" fill="#9A4580" filter="url(#b2)" opacity="0.85"/>
<path d="M22,25 q8,3 16,3" stroke="#e8c0d0" stroke-width="0.9" fill="none"/>
<line x1="62" y1="48" x2="73" y2="48" stroke="#111" stroke-width="1.25"/>
</svg>
<svg x="19.00" y="581.20" width="77.75" height="51.30" viewBox="0 0 78 52" preserveAspectRatio="none" overflow="hidden">
<rect x="-1" y="-1" width="80" height="54" fill="#C64960"/>
<rect x="-1" y="-1" width="80" height="54" filter="url(#grain)" opacity="0.25"/>
<path d="M36.0,4.0 C34.0,6.0 26.7,11.7 24.0,16.0 C21.3,20.3 19.0,26.0 20.0,30.0 C21.0,34.0 25.7,37.5 30.0,40.0 C34.3,42.5 43.3,44.2 46.0,45.0" fill="none" stroke="#B84880" stroke-width="7.2" stroke-linecap="round" filter="url(#b2)" opacity="0.26"/><path d="M36.0,4.0 C34.0,6.0 26.7,11.7 24.0,16.0 C21.3,20.3 19.0,26.0 20.0,30.0 C21.0,34.0 25.7,37.5 30.0,40.0 C34.3,42.5 43.3,44.2 46.0,45.0" fill="none" stroke="#B84880" stroke-width="3.0" stroke-linecap="round" filter="url(#b2)" opacity="0.8"/>
<path d="M0.0,38.0 C3.3,38.7 12.7,40.5 20.0,42.0 C27.3,43.5 37.3,47.0 44.0,47.0 C50.7,47.0 54.2,44.8 60.0,42.0 C65.8,39.2 75.8,32.0 79.0,30.0" fill="none" stroke="#D03848" stroke-width="12.0" stroke-linecap="round" filter="url(#b2)" opacity="0.26"/><path d="M0.0,38.0 C3.3,38.7 12.7,40.5 20.0,42.0 C27.3,43.5 37.3,47.0 44.0,47.0 C50.7,47.0 54.2,44.8 60.0,42.0 C65.8,39.2 75.8,32.0 79.0,30.0" fill="none" stroke="#D03848" stroke-width="5" stroke-linecap="round" filter="url(#b2)" opacity="0.8"/>
<path d="M0.0,1.0 C4.3,0.0 24.3,0.4 30.0,1.0 C35.7,1.6 35.7,3.3 34.0,4.5 C32.3,5.7 25.0,7.6 20.0,8.0 C15.0,8.4 7.3,8.2 4.0,7.0 C0.7,5.8 -4.3,2.0 0.0,1.0Z" fill="#D3E8DF" filter="url(#b0)" opacity="1"/>
<path d="M0.0,46.0 L20.0,48.5 L45.0,50.5 L46.5,40.0 L49.0,48.5 L79.0,38.0 L79.0,53.0 L0.0,53.0Z" fill="#D3E8DF" filter="url(#b0)" opacity="1"/>
<line x1="62" y1="48.4" x2="73" y2="48.4" stroke="#111" stroke-width="1.25"/>
</svg>
<svg x="96.75" y="581.20" width="77.75" height="51.30" viewBox="0 0 78 52" preserveAspectRatio="none" overflow="hidden">
<rect x="-1" y="-1" width="80" height="54" fill="#B33545"/>
<rect x="-1" y="-1" width="80" height="54" filter="url(#grain)" opacity="0.25"/>
<rect x="0" y="0" width="78" height="52" filter="url(#noise)" opacity="0.42"/>
<line x1="62" y1="48.4" x2="73" y2="48.4" stroke="#111" stroke-width="1.25"/>
</svg>
<svg x="174.50" y="581.20" width="77.50" height="51.30" viewBox="0 0 78 52" preserveAspectRatio="none" overflow="hidden">
<rect x="-1" y="-1" width="80" height="54" fill="#C94C50"/>
<rect x="-1" y="-1" width="80" height="54" filter="url(#grain)" opacity="0.25"/>
<path d="M40.0,4.0 C37.0,5.7 26.3,10.0 22.0,14.0 C17.7,18.0 14.3,23.7 14.0,28.0 C13.7,32.3 15.7,37.2 20.0,40.0 C24.3,42.8 33.3,44.7 40.0,45.0 C46.7,45.3 53.8,43.5 60.0,42.0 C66.2,40.5 74.2,37.0 77.0,36.0" fill="none" stroke="#B44468" stroke-width="6.2" stroke-linecap="round" filter="url(#b2)" opacity="0.29"/><path d="M40.0,4.0 C37.0,5.7 26.3,10.0 22.0,14.0 C17.7,18.0 14.3,23.7 14.0,28.0 C13.7,32.3 15.7,37.2 20.0,40.0 C24.3,42.8 33.3,44.7 40.0,45.0 C46.7,45.3 53.8,43.5 60.0,42.0 C66.2,40.5 74.2,37.0 77.0,36.0" fill="none" stroke="#B44468" stroke-width="2.6" stroke-linecap="round" filter="url(#b1)" opacity="0.9"/>
<path d="M44.0,53.0 C40.8,51.8 54.2,48.2 60.0,46.0 C65.8,43.8 75.8,38.8 79.0,40.0 C82.2,41.2 84.8,50.8 79.0,53.0 C73.2,55.2 47.2,54.2 44.0,53.0Z" fill="#D3E8DF" filter="url(#b0)" opacity="1"/>
<path d="M34.0,0.0 L60.0,0.0 L58.0,1.5 L36.0,1.5Z" fill="#D3E8DF" filter="url(#b0)" opacity="1"/>
<line x1="62" y1="48.4" x2="73" y2="48.4" stroke="#111" stroke-width="1.25"/>
</svg>
<svg x="252.00" y="581.20" width="77.50" height="51.30" viewBox="0 0 78 52" preserveAspectRatio="none" overflow="hidden">
<rect x="-1" y="-1" width="80" height="54" fill="#C34143"/>
<rect x="-1" y="-1" width="80" height="54" filter="url(#grain)" opacity="0.25"/>
<path d="M32.0,2.0 C30.3,4.7 24.7,12.7 22.0,18.0 C19.3,23.3 16.3,29.7 16.0,34.0 C15.7,38.3 17.7,42.0 20.0,44.0 C22.3,46.0 25.0,47.3 30.0,46.0 C35.0,44.7 43.3,39.7 50.0,36.0 C56.7,32.3 65.2,27.0 70.0,24.0 C74.8,21.0 77.5,19.0 79.0,18.0" fill="none" stroke="#A82C4C" stroke-width="5.3" stroke-linecap="round" filter="url(#b2)" opacity="0.32"/><path d="M32.0,2.0 C30.3,4.7 24.7,12.7 22.0,18.0 C19.3,23.3 16.3,29.7 16.0,34.0 C15.7,38.3 17.7,42.0 20.0,44.0 C22.3,46.0 25.0,47.3 30.0,46.0 C35.0,44.7 43.3,39.7 50.0,36.0 C56.7,32.3 65.2,27.0 70.0,24.0 C74.8,21.0 77.5,19.0 79.0,18.0" fill="none" stroke="#A82C4C" stroke-width="2.2" stroke-linecap="round" filter="url(#b1)" opacity="1"/>
<path d="M0.0,28.0 C1.3,26.2 8.0,22.5 10.0,22.0 C12.0,21.5 13.3,23.2 12.0,25.0 C10.7,26.8 4.0,32.5 2.0,33.0 C0.0,33.5 -1.3,29.8 0.0,28.0Z" fill="#D3E8DF" filter="url(#b0)" opacity="1"/>
<path d="M38.0,7.0 C39.3,5.8 46.0,2.5 48.0,2.0 C50.0,1.5 51.3,2.8 50.0,4.0 C48.7,5.2 42.0,8.5 40.0,9.0 C38.0,9.5 36.7,8.2 38.0,7.0Z" fill="#D3E8DF" filter="url(#b0)" opacity="1"/>
<path d="M68.0,10.0 C69.5,8.5 77.2,3.3 79.0,3.0 C80.8,2.7 80.5,6.5 79.0,8.0 C77.5,9.5 71.8,11.7 70.0,12.0 C68.2,12.3 66.5,11.5 68.0,10.0Z" fill="#D3E8DF" filter="url(#b0)" opacity="1"/>
<path d="M48.0,53.0 C47.3,51.5 54.3,46.5 58.0,44.0 C61.7,41.5 66.5,39.5 70.0,38.0 C73.5,36.5 77.5,33.3 79.0,35.0 C80.5,36.7 81.8,45.0 79.0,48.0 C76.2,51.0 67.2,52.2 62.0,53.0 C56.8,53.8 48.7,54.5 48.0,53.0Z" fill="#D3E8DF" filter="url(#b0)" opacity="1"/>
<line x1="62" y1="48.4" x2="73" y2="48.4" stroke="#111" stroke-width="1.25"/>
</svg>
<svg x="329.50" y="581.20" width="77.80" height="51.30" viewBox="0 0 78 52" preserveAspectRatio="none" overflow="hidden">
<rect x="-1" y="-1" width="80" height="54" fill="#CC5066"/>
<rect x="-1" y="-1" width="80" height="54" filter="url(#grain)" opacity="0.25"/>
<path d="M30.0,4.0 C28.0,6.0 20.7,11.7 18.0,16.0 C15.3,20.3 13.0,25.7 14.0,30.0 C15.0,34.3 19.3,39.5 24.0,42.0 C28.7,44.5 36.0,45.3 42.0,45.0 C48.0,44.7 54.7,42.8 60.0,40.0 C65.3,37.2 71.7,30.0 74.0,28.0" fill="none" stroke="#C05088" stroke-width="7.7" stroke-linecap="round" filter="url(#b2)" opacity="0.26"/><path d="M30.0,4.0 C28.0,6.0 20.7,11.7 18.0,16.0 C15.3,20.3 13.0,25.7 14.0,30.0 C15.0,34.3 19.3,39.5 24.0,42.0 C28.7,44.5 36.0,45.3 42.0,45.0 C48.0,44.7 54.7,42.8 60.0,40.0 C65.3,37.2 71.7,30.0 74.0,28.0" fill="none" stroke="#C05088" stroke-width="3.2" stroke-linecap="round" filter="url(#b2)" opacity="0.8"/>
<line x1="62" y1="48.4" x2="73" y2="48.4" stroke="#111" stroke-width="1.25"/>
</svg>
<svg x="19.00" y="632.50" width="77.75" height="51.50" viewBox="0 0 78 52" preserveAspectRatio="none" overflow="hidden">
<rect x="-1" y="-1" width="80" height="54" fill="#C85066"/>
<rect x="-1" y="-1" width="80" height="54" filter="url(#grain)" opacity="0.25"/>
<path d="M8.0,46.0 C11.7,44.3 23.0,39.0 30.0,36.0 C37.0,33.0 42.3,30.3 50.0,28.0 C57.7,25.7 71.7,23.0 76.0,22.0" fill="none" stroke="#B04C8C" stroke-width="8.4" stroke-linecap="round" filter="url(#b2)" opacity="0.26"/><path d="M8.0,46.0 C11.7,44.3 23.0,39.0 30.0,36.0 C37.0,33.0 42.3,30.3 50.0,28.0 C57.7,25.7 71.7,23.0 76.0,22.0" fill="none" stroke="#B04C8C" stroke-width="3.5" stroke-linecap="round" filter="url(#b2)" opacity="0.8"/>
<path d="M20.0,52.0 C23.3,50.7 33.3,46.7 40.0,44.0 C46.7,41.3 53.5,38.3 60.0,36.0 C66.5,33.7 75.8,31.0 79.0,30.0" fill="none" stroke="#D84458" stroke-width="9.6" stroke-linecap="round" filter="url(#b2)" opacity="0.29"/><path d="M20.0,52.0 C23.3,50.7 33.3,46.7 40.0,44.0 C46.7,41.3 53.5,38.3 60.0,36.0 C66.5,33.7 75.8,31.0 79.0,30.0" fill="none" stroke="#D84458" stroke-width="4" stroke-linecap="round" filter="url(#b2)" opacity="0.9"/>
<path d="M40.0,53.0 C36.8,51.5 53.5,46.7 60.0,44.0 C66.5,41.3 75.8,35.5 79.0,37.0 C82.2,38.5 85.5,50.3 79.0,53.0 C72.5,55.7 43.2,54.5 40.0,53.0Z" fill="#D3E8DF" filter="url(#b0)" opacity="1"/>
<line x1="63" y1="48" x2="74" y2="48" stroke="#111" stroke-width="1.25"/>
</svg>
<svg x="96.75" y="632.50" width="77.75" height="51.50" viewBox="0 0 78 52" preserveAspectRatio="none" overflow="hidden">
<rect x="-1" y="-1" width="80" height="54" fill="#C94C66"/>
<rect x="-1" y="-1" width="80" height="54" filter="url(#grain)" opacity="0.25"/>
<path d="M30.0,53.0 C33.3,52.2 44.0,49.8 50.0,48.0 C56.0,46.2 61.2,44.2 66.0,42.0 C70.8,39.8 76.8,36.2 79.0,35.0" fill="none" stroke="#D84050" stroke-width="8.4" stroke-linecap="round" filter="url(#b2)" opacity="0.29"/><path d="M30.0,53.0 C33.3,52.2 44.0,49.8 50.0,48.0 C56.0,46.2 61.2,44.2 66.0,42.0 C70.8,39.8 76.8,36.2 79.0,35.0" fill="none" stroke="#D84050" stroke-width="3.5" stroke-linecap="round" filter="url(#b2)" opacity="0.9"/>
<path d="M42.0,53.0 C38.8,52.1 53.8,49.7 60.0,47.5 C66.2,45.3 75.8,39.1 79.0,40.0 C82.2,40.9 85.2,50.8 79.0,53.0 C72.8,55.2 45.2,53.9 42.0,53.0Z" fill="#D3E8DF" filter="url(#b0)" opacity="1"/>
<line x1="63" y1="48" x2="74" y2="48" stroke="#111" stroke-width="1.25"/>
</svg>
<svg x="174.50" y="632.50" width="77.50" height="51.50" viewBox="0 0 78 52" preserveAspectRatio="none" overflow="hidden">
<rect x="-1" y="-1" width="80" height="54" fill="#C9495F"/>
<rect x="-1" y="-1" width="80" height="54" filter="url(#grain)" opacity="0.25"/>
<path d="M40.0,53.0 C43.0,51.8 53.0,48.5 58.0,46.0 C63.0,43.5 66.5,40.7 70.0,38.0 C73.5,35.3 77.5,31.3 79.0,30.0" fill="none" stroke="#D63C48" stroke-width="7.2" stroke-linecap="round" filter="url(#b2)" opacity="0.29"/><path d="M40.0,53.0 C43.0,51.8 53.0,48.5 58.0,46.0 C63.0,43.5 66.5,40.7 70.0,38.0 C73.5,35.3 77.5,31.3 79.0,30.0" fill="none" stroke="#D63C48" stroke-width="3.0" stroke-linecap="round" filter="url(#b2)" opacity="0.9"/>
<path d="M50.0,53.0 C47.7,51.5 60.2,47.0 65.0,44.0 C69.8,41.0 76.7,33.5 79.0,35.0 C81.3,36.5 83.8,50.0 79.0,53.0 C74.2,56.0 52.3,54.5 50.0,53.0Z" fill="#D3E8DF" filter="url(#b0)" opacity="1"/>
<path d="M70.0,-1.0 L79.0,-1.0 L79.0,2.0Z" fill="#D3E8DF" filter="url(#b0)" opacity="1"/>
<circle cx="9" cy="36" r="0.9" fill="#7a2040"/>
<line x1="63" y1="48" x2="74" y2="48" stroke="#111" stroke-width="1.25"/>
</svg>
<svg x="252.00" y="632.50" width="77.50" height="51.50" viewBox="0 0 78 52" preserveAspectRatio="none" overflow="hidden">
<rect x="-1" y="-1" width="80" height="54" fill="#C04338"/>
<rect x="-1" y="-1" width="80" height="54" filter="url(#grain)" opacity="0.25"/>
<path d="M20.0,46.0 C23.3,45.0 33.3,42.3 40.0,40.0 C46.7,37.7 53.5,34.5 60.0,32.0 C66.5,29.5 75.8,26.2 79.0,25.0" fill="none" stroke="#B43448" stroke-width="6.0" stroke-linecap="round" filter="url(#b2)" opacity="0.26"/><path d="M20.0,46.0 C23.3,45.0 33.3,42.3 40.0,40.0 C46.7,37.7 53.5,34.5 60.0,32.0 C66.5,29.5 75.8,26.2 79.0,25.0" fill="none" stroke="#B43448" stroke-width="2.5" stroke-linecap="round" filter="url(#b2)" opacity="0.8"/>
<path d="M56.0,53.0 C54.5,51.8 66.2,47.8 70.0,46.0 C73.8,44.2 77.5,40.8 79.0,42.0 C80.5,43.2 82.8,51.2 79.0,53.0 C75.2,54.8 57.5,54.2 56.0,53.0Z" fill="#D3E8DF" filter="url(#b0)" opacity="1"/>
<path d="M50.0,-1.0 L60.0,-1.0 L56.0,2.0Z" fill="#D3E8DF" filter="url(#b0)" opacity="1"/>
<path d="M63,30 l4,4" stroke="#f0dcd4" stroke-width="0.8"/>
<line x1="63" y1="48" x2="74" y2="48" stroke="#111" stroke-width="1.25"/>
</svg>
<svg x="329.50" y="632.50" width="77.80" height="51.50" viewBox="0 0 78 52" preserveAspectRatio="none" overflow="hidden">
<rect x="-1" y="-1" width="80" height="54" fill="#C5455F"/>
<rect x="-1" y="-1" width="80" height="54" filter="url(#grain)" opacity="0.25"/>
<path d="M45.0,53.0 C47.8,51.5 56.3,47.3 62.0,44.0 C67.7,40.7 76.2,34.8 79.0,33.0" fill="none" stroke="#D63C50" stroke-width="7.2" stroke-linecap="round" filter="url(#b2)" opacity="0.29"/><path d="M45.0,53.0 C47.8,51.5 56.3,47.3 62.0,44.0 C67.7,40.7 76.2,34.8 79.0,33.0" fill="none" stroke="#D63C50" stroke-width="3.0" stroke-linecap="round" filter="url(#b2)" opacity="0.9"/>
<path d="M-1.0,40.0 C0.2,39.2 3.8,45.8 6.0,48.0 C8.2,50.2 13.2,52.2 12.0,53.0 C10.8,53.8 1.2,55.2 -1.0,53.0 C-3.2,50.8 -2.2,40.8 -1.0,40.0Z" fill="#D3E8DF" filter="url(#b0)" opacity="1"/>
<path d="M52.0,53.0 C49.8,51.5 61.5,46.5 66.0,44.0 C70.5,41.5 76.8,36.5 79.0,38.0 C81.2,39.5 83.5,50.5 79.0,53.0 C74.5,55.5 54.2,54.5 52.0,53.0Z" fill="#D3E8DF" filter="url(#b0)" opacity="1"/>
<line x1="63" y1="48" x2="74" y2="48" stroke="#111" stroke-width="1.25"/>
</svg>
<line x1="96.75" y1="478.60" x2="96.75" y2="684.00" stroke="#c48a92" stroke-width="0.3"/>
<line x1="174.50" y1="478.60" x2="174.50" y2="684.00" stroke="#c48a92" stroke-width="0.3"/>
<line x1="252.00" y1="478.60" x2="252.00" y2="684.00" stroke="#c48a92" stroke-width="0.3"/>
<line x1="329.50" y1="478.60" x2="329.50" y2="684.00" stroke="#c48a92" stroke-width="0.3"/>
<line x1="19.00" y1="530.00" x2="407.30" y2="530.00" stroke="#d8a8ae" stroke-width="0.35"/>
<line x1="19.00" y1="581.20" x2="407.30" y2="581.20" stroke="#d8a8ae" stroke-width="0.35"/>
<line x1="19.00" y1="632.50" x2="407.30" y2="632.50" stroke="#d8a8ae" stroke-width="0.35"/>
</svg>
</body></html>
